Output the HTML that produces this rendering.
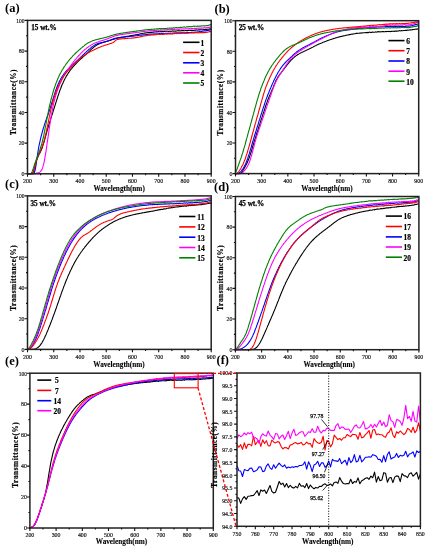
<!DOCTYPE html>
<html><head><meta charset="utf-8"><style>html,body{margin:0;padding:0;background:#fff;}svg{display:block;}</style></head>
<body><svg width="429" height="550" viewBox="0 0 429 550" font-family='"Liberation Serif", serif'><rect width="429" height="550" fill="#fff"/>
<path d="M27.5,173.8 L28.0,173.8 L28.5,173.8 L29.1,173.8 L29.6,173.8 L30.1,173.8 L30.6,173.8 L31.2,173.8 L31.7,173.8 L32.2,173.6 L32.7,173.1 L33.3,172.0 L33.8,170.4 L34.3,168.5 L34.8,166.4 L35.4,164.3 L35.9,162.4 L36.4,160.7 L36.9,159.2 L37.5,157.8 L38.0,156.7 L38.5,155.6 L39.0,154.6 L39.6,153.5 L40.1,152.5 L40.6,151.4 L41.1,150.3 L41.7,149.1 L42.2,147.7 L42.7,146.2 L43.2,144.6 L43.8,142.9 L44.3,141.1 L44.8,139.2 L45.3,137.3 L45.9,135.4 L46.4,133.5 L46.9,131.6 L47.4,129.7 L48.0,127.9 L48.5,126.1 L49.0,124.3 L49.5,122.6 L50.1,121.0 L50.6,119.3 L51.1,117.7 L51.6,116.1 L52.2,114.4 L52.7,112.8 L53.2,111.2 L53.7,109.5 L54.3,107.8 L54.8,106.2 L55.3,104.5 L55.8,102.8 L56.4,101.1 L56.9,99.5 L57.4,97.8 L57.9,96.2 L58.5,94.6 L59.0,93.1 L59.5,91.6 L60.0,90.1 L60.6,88.7 L61.1,87.3 L61.6,86.0 L62.1,84.8 L62.7,83.6 L63.2,82.4 L63.7,81.3 L64.2,80.2 L64.8,79.1 L65.3,78.1 L65.8,77.2 L66.3,76.2 L66.9,75.4 L67.4,74.5 L67.9,73.7 L68.4,72.9 L69.0,72.1 L69.5,71.3 L70.0,70.6 L70.5,69.9 L71.1,69.2 L71.6,68.6 L72.1,67.9 L72.6,67.3 L73.2,66.7 L73.7,66.1 L74.2,65.5 L74.7,65.0 L75.3,64.4 L75.8,63.8 L76.3,63.3 L76.8,62.8 L77.4,62.2 L77.9,61.7 L78.4,61.2 L78.9,60.7 L79.5,60.2 L80.0,59.7 L80.5,59.2 L81.0,58.7 L81.6,58.3 L82.1,57.8 L82.6,57.3 L83.1,56.9 L83.7,56.4 L84.2,55.9 L84.7,55.4 L85.2,55.0 L85.8,54.5 L86.3,54.0 L86.8,53.6 L87.3,53.1 L87.9,52.6 L88.4,52.1 L88.9,51.7 L89.4,51.2 L90.0,50.7 L90.5,50.2 L91.0,49.7 L91.5,49.2 L92.1,48.7 L92.6,48.3 L93.1,47.8 L93.6,47.4 L94.2,46.9 L94.7,46.5 L95.2,46.1 L95.7,45.8 L96.3,45.4 L96.8,45.1 L97.3,44.8 L97.8,44.5 L98.4,44.2 L98.9,44.0 L99.4,43.8 L99.9,43.5 L100.5,43.3 L101.0,43.1 L101.5,43.0 L102.0,42.8 L102.6,42.6 L103.1,42.5 L103.6,42.3 L104.1,42.1 L104.7,42.0 L105.2,41.8 L105.7,41.7 L106.2,41.5 L106.8,41.4 L107.3,41.2 L107.8,41.0 L108.3,40.9 L108.9,40.7 L109.4,40.5 L109.9,40.4 L110.4,40.2 L111.0,40.0 L111.5,39.9 L112.0,39.7 L112.5,39.5 L113.1,39.4 L113.6,39.2 L114.1,39.1 L114.6,38.9 L115.2,38.8 L115.7,38.6 L116.2,38.5 L116.7,38.4 L117.3,38.3 L117.8,38.2 L118.3,38.0 L118.8,37.9 L119.3,37.8 L119.9,37.7 L120.4,37.6 L120.9,37.5 L121.4,37.4 L122.0,37.3 L122.5,37.2 L123.0,37.1 L123.5,37.0 L124.1,36.9 L124.6,36.8 L125.1,36.7 L125.6,36.6 L126.2,36.5 L126.7,36.4 L127.2,36.3 L127.7,36.2 L128.3,36.2 L128.8,36.1 L129.3,36.0 L129.8,35.9 L130.4,35.8 L130.9,35.7 L131.4,35.6 L131.9,35.5 L132.5,35.4 L133.0,35.3 L133.5,35.2 L134.0,35.1 L134.6,35.0 L135.1,35.0 L135.6,34.8 L136.1,34.7 L136.7,34.6 L137.2,34.5 L137.7,34.5 L138.2,34.4 L138.8,34.2 L139.3,34.1 L139.8,34.0 L140.3,33.9 L140.9,33.8 L141.4,33.8 L141.9,33.6 L142.4,33.5 L143.0,33.3 L143.5,33.3 L144.0,33.2 L144.5,33.1 L145.1,33.0 L145.6,32.9 L146.1,33.0 L146.6,32.8 L147.2,32.7 L147.7,32.6 L148.2,32.6 L148.7,32.6 L149.3,32.6 L149.8,32.3 L150.3,32.4 L150.8,32.4 L151.4,32.3 L151.9,32.4 L152.4,32.2 L152.9,32.1 L153.5,32.1 L154.0,32.0 L154.5,32.0 L155.0,31.9 L155.6,32.0 L156.1,31.9 L156.6,31.9 L157.1,31.7 L157.7,31.7 L158.2,31.9 L158.7,31.5 L159.2,31.7 L159.8,31.8 L160.3,31.7 L160.8,31.5 L161.3,31.7 L161.9,31.6 L162.4,31.4 L162.9,31.5 L163.4,31.5 L164.0,31.5 L164.5,31.4 L165.0,31.4 L165.5,31.3 L166.1,31.3 L166.6,31.3 L167.1,31.2 L167.6,31.3 L168.2,31.4 L168.7,31.6 L169.2,31.3 L169.7,31.2 L170.3,31.3 L170.8,31.4 L171.3,31.2 L171.8,31.2 L172.4,30.9 L172.9,31.0 L173.4,31.2 L173.9,31.0 L174.5,31.0 L175.0,31.2 L175.5,31.0 L176.0,31.1 L176.6,30.9 L177.1,30.7 L177.6,30.7 L178.1,31.0 L178.7,30.6 L179.2,30.9 L179.7,30.8 L180.2,30.7 L180.8,30.9 L181.3,30.6 L181.8,30.7 L182.3,30.5 L182.9,30.7 L183.4,30.6 L183.9,30.7 L184.4,30.7 L185.0,30.6 L185.5,30.5 L186.0,30.5 L186.5,30.6 L187.1,30.5 L187.6,30.7 L188.1,30.4 L188.6,30.5 L189.2,30.4 L189.7,30.3 L190.2,30.2 L190.7,30.5 L191.3,30.3 L191.8,30.4 L192.3,30.2 L192.8,30.4 L193.4,30.5 L193.9,30.4 L194.4,30.1 L194.9,30.1 L195.5,30.0 L196.0,30.1 L196.5,30.0 L197.0,29.9 L197.6,30.1 L198.1,30.0 L198.6,29.8 L199.1,29.9 L199.7,29.7 L200.2,29.9 L200.7,29.8 L201.2,29.7 L201.8,29.8 L202.3,29.8 L202.8,30.0 L203.3,29.8 L203.9,29.4 L204.4,29.5 L204.9,29.6 L205.4,29.7 L206.0,29.3 L206.5,29.5 L207.0,29.4 L207.5,29.3 L208.1,29.2 L208.6,29.2 L209.1,29.0 L209.6,28.9 L210.2,29.1 L210.7,28.7 L211.2,28.6" fill="none" stroke="#000000" stroke-width="1.1" stroke-linejoin="round"/>
<path d="M27.5,173.8 L28.0,173.8 L28.5,173.8 L29.1,173.8 L29.6,173.8 L30.1,173.8 L30.6,173.8 L31.2,173.8 L31.7,173.8 L32.2,173.8 L32.7,173.8 L33.3,173.7 L33.8,173.5 L34.3,172.7 L34.8,171.3 L35.4,168.9 L35.9,165.9 L36.4,162.3 L36.9,158.6 L37.5,154.9 L38.0,151.5 L38.5,148.5 L39.0,145.7 L39.6,143.1 L40.1,140.8 L40.6,138.5 L41.1,136.4 L41.7,134.3 L42.2,132.4 L42.7,130.5 L43.2,128.7 L43.8,126.9 L44.3,125.2 L44.8,123.6 L45.3,122.1 L45.9,120.5 L46.4,119.1 L46.9,117.6 L47.4,116.2 L48.0,114.8 L48.5,113.3 L49.0,111.8 L49.5,110.2 L50.1,108.6 L50.6,106.9 L51.1,105.2 L51.6,103.5 L52.2,101.8 L52.7,100.1 L53.2,98.3 L53.7,96.6 L54.3,95.0 L54.8,93.3 L55.3,91.7 L55.8,90.2 L56.4,88.7 L56.9,87.3 L57.4,86.0 L57.9,84.7 L58.5,83.5 L59.0,82.3 L59.5,81.2 L60.0,80.2 L60.6,79.2 L61.1,78.3 L61.6,77.4 L62.1,76.5 L62.7,75.7 L63.2,75.0 L63.7,74.2 L64.2,73.5 L64.8,72.9 L65.3,72.2 L65.8,71.6 L66.3,71.0 L66.9,70.5 L67.4,69.9 L67.9,69.4 L68.4,68.9 L69.0,68.4 L69.5,67.9 L70.0,67.4 L70.5,66.9 L71.1,66.4 L71.6,65.9 L72.1,65.4 L72.6,64.9 L73.2,64.5 L73.7,64.0 L74.2,63.5 L74.7,63.0 L75.3,62.5 L75.8,62.0 L76.3,61.5 L76.8,61.0 L77.4,60.5 L77.9,59.9 L78.4,59.4 L78.9,58.9 L79.5,58.4 L80.0,57.9 L80.5,57.4 L81.0,56.9 L81.6,56.4 L82.1,55.9 L82.6,55.4 L83.1,54.9 L83.7,54.4 L84.2,53.9 L84.7,53.4 L85.2,52.9 L85.8,52.4 L86.3,51.9 L86.8,51.4 L87.3,50.9 L87.9,50.4 L88.4,50.0 L88.9,49.5 L89.4,49.0 L90.0,48.6 L90.5,48.1 L91.0,47.7 L91.5,47.2 L92.1,46.8 L92.6,46.4 L93.1,46.1 L93.6,45.7 L94.2,45.4 L94.7,45.1 L95.2,44.8 L95.7,44.5 L96.3,44.2 L96.8,44.0 L97.3,43.8 L97.8,43.6 L98.4,43.4 L98.9,43.3 L99.4,43.1 L99.9,43.0 L100.5,42.9 L101.0,42.7 L101.5,42.6 L102.0,42.5 L102.6,42.4 L103.1,42.3 L103.6,42.2 L104.1,42.0 L104.7,41.9 L105.2,41.8 L105.7,41.6 L106.2,41.5 L106.8,41.3 L107.3,41.2 L107.8,41.0 L108.3,40.8 L108.9,40.6 L109.4,40.4 L109.9,40.2 L110.4,40.0 L111.0,39.8 L111.5,39.6 L112.0,39.4 L112.5,39.2 L113.1,39.0 L113.6,38.8 L114.1,38.6 L114.6,38.5 L115.2,38.3 L115.7,38.2 L116.2,38.1 L116.7,38.0 L117.3,37.9 L117.8,37.8 L118.3,37.7 L118.8,37.6 L119.3,37.6 L119.9,37.5 L120.4,37.4 L120.9,37.4 L121.4,37.3 L122.0,37.3 L122.5,37.2 L123.0,37.1 L123.5,37.1 L124.1,37.0 L124.6,37.0 L125.1,36.9 L125.6,36.9 L126.2,36.8 L126.7,36.8 L127.2,36.7 L127.7,36.6 L128.3,36.6 L128.8,36.5 L129.3,36.5 L129.8,36.4 L130.4,36.4 L130.9,36.3 L131.4,36.3 L131.9,36.2 L132.5,36.2 L133.0,36.1 L133.5,36.1 L134.0,36.0 L134.6,36.0 L135.1,35.9 L135.6,35.8 L136.1,35.8 L136.7,35.7 L137.2,35.7 L137.7,35.6 L138.2,35.5 L138.8,35.4 L139.3,35.3 L139.8,35.3 L140.3,35.2 L140.9,35.2 L141.4,35.0 L141.9,35.1 L142.4,35.0 L143.0,34.8 L143.5,34.9 L144.0,34.9 L144.5,34.7 L145.1,34.7 L145.6,34.5 L146.1,34.7 L146.6,34.5 L147.2,34.5 L147.7,34.4 L148.2,34.3 L148.7,34.2 L149.3,34.3 L149.8,34.1 L150.3,34.1 L150.8,34.1 L151.4,34.0 L151.9,34.1 L152.4,34.1 L152.9,34.0 L153.5,33.9 L154.0,34.1 L154.5,33.8 L155.0,33.9 L155.6,34.0 L156.1,33.8 L156.6,33.7 L157.1,33.9 L157.7,33.8 L158.2,33.7 L158.7,33.7 L159.2,33.5 L159.8,33.6 L160.3,33.9 L160.8,33.6 L161.3,33.6 L161.9,33.4 L162.4,33.4 L162.9,33.4 L163.4,33.1 L164.0,33.5 L164.5,33.5 L165.0,33.5 L165.5,33.3 L166.1,33.2 L166.6,33.3 L167.1,33.5 L167.6,33.3 L168.2,33.4 L168.7,33.4 L169.2,33.3 L169.7,33.4 L170.3,33.1 L170.8,33.2 L171.3,33.2 L171.8,33.2 L172.4,33.1 L172.9,33.2 L173.4,33.1 L173.9,33.1 L174.5,33.0 L175.0,32.8 L175.5,33.0 L176.0,33.0 L176.6,32.8 L177.1,32.9 L177.6,32.9 L178.1,33.0 L178.7,32.8 L179.2,33.0 L179.7,32.7 L180.2,32.8 L180.8,33.0 L181.3,32.7 L181.8,32.8 L182.3,32.6 L182.9,32.8 L183.4,32.7 L183.9,32.7 L184.4,32.8 L185.0,32.7 L185.5,32.7 L186.0,32.7 L186.5,32.6 L187.1,32.5 L187.6,32.5 L188.1,32.7 L188.6,32.5 L189.2,32.5 L189.7,32.5 L190.2,32.5 L190.7,32.5 L191.3,32.4 L191.8,32.4 L192.3,32.3 L192.8,32.3 L193.4,32.3 L193.9,32.4 L194.4,32.2 L194.9,32.1 L195.5,32.1 L196.0,32.2 L196.5,32.1 L197.0,32.1 L197.6,31.9 L198.1,32.0 L198.6,31.8 L199.1,31.8 L199.7,31.6 L200.2,31.6 L200.7,31.7 L201.2,31.6 L201.8,31.4 L202.3,31.3 L202.8,31.2 L203.3,31.0 L203.9,31.0 L204.4,30.8 L204.9,30.9 L205.4,30.9 L206.0,30.8 L206.5,30.6 L207.0,30.6 L207.5,30.4 L208.1,30.5 L208.6,30.2 L209.1,30.0 L209.6,30.1 L210.2,29.8 L210.7,29.8 L211.2,29.6" fill="none" stroke="#0000ff" stroke-width="1.1" stroke-linejoin="round"/>
<path d="M27.5,173.8 L28.0,173.8 L28.5,173.8 L29.1,173.8 L29.6,173.8 L30.1,173.8 L30.6,173.8 L31.2,173.8 L31.7,173.8 L32.2,173.8 L32.7,173.8 L33.3,173.8 L33.8,173.8 L34.3,173.7 L34.8,173.7 L35.4,173.6 L35.9,173.4 L36.4,173.3 L36.9,173.1 L37.5,173.0 L38.0,172.8 L38.5,172.7 L39.0,172.5 L39.6,172.2 L40.1,171.9 L40.6,171.4 L41.1,170.7 L41.7,169.9 L42.2,168.8 L42.7,167.4 L43.2,165.7 L43.8,163.6 L44.3,161.2 L44.8,158.4 L45.3,155.4 L45.9,152.1 L46.4,148.6 L46.9,145.0 L47.4,141.4 L48.0,137.7 L48.5,134.0 L49.0,130.4 L49.5,126.8 L50.1,123.3 L50.6,119.9 L51.1,116.7 L51.6,113.7 L52.2,110.8 L52.7,108.1 L53.2,105.6 L53.7,103.2 L54.3,101.0 L54.8,99.0 L55.3,97.1 L55.8,95.3 L56.4,93.5 L56.9,91.9 L57.4,90.4 L57.9,88.9 L58.5,87.5 L59.0,86.2 L59.5,84.9 L60.0,83.7 L60.6,82.5 L61.1,81.3 L61.6,80.2 L62.1,79.1 L62.7,78.1 L63.2,77.1 L63.7,76.1 L64.2,75.2 L64.8,74.3 L65.3,73.4 L65.8,72.6 L66.3,71.8 L66.9,71.0 L67.4,70.2 L67.9,69.4 L68.4,68.7 L69.0,67.9 L69.5,67.2 L70.0,66.5 L70.5,65.8 L71.1,65.1 L71.6,64.4 L72.1,63.7 L72.6,63.0 L73.2,62.3 L73.7,61.7 L74.2,61.0 L74.7,60.4 L75.3,59.7 L75.8,59.1 L76.3,58.5 L76.8,57.8 L77.4,57.2 L77.9,56.6 L78.4,56.0 L78.9,55.5 L79.5,54.9 L80.0,54.3 L80.5,53.8 L81.0,53.2 L81.6,52.7 L82.1,52.2 L82.6,51.7 L83.1,51.2 L83.7,50.7 L84.2,50.2 L84.7,49.7 L85.2,49.3 L85.8,48.9 L86.3,48.4 L86.8,48.0 L87.3,47.6 L87.9,47.2 L88.4,46.8 L88.9,46.4 L89.4,46.1 L90.0,45.7 L90.5,45.4 L91.0,45.1 L91.5,44.8 L92.1,44.5 L92.6,44.2 L93.1,43.9 L93.6,43.6 L94.2,43.4 L94.7,43.1 L95.2,42.9 L95.7,42.7 L96.3,42.5 L96.8,42.2 L97.3,42.1 L97.8,41.9 L98.4,41.7 L98.9,41.5 L99.4,41.3 L99.9,41.2 L100.5,41.0 L101.0,40.9 L101.5,40.7 L102.0,40.5 L102.6,40.4 L103.1,40.2 L103.6,40.1 L104.1,39.9 L104.7,39.7 L105.2,39.6 L105.7,39.4 L106.2,39.2 L106.8,39.0 L107.3,38.9 L107.8,38.7 L108.3,38.5 L108.9,38.2 L109.4,38.0 L109.9,37.8 L110.4,37.6 L111.0,37.4 L111.5,37.2 L112.0,37.0 L112.5,36.8 L113.1,36.6 L113.6,36.4 L114.1,36.2 L114.6,36.0 L115.2,35.9 L115.7,35.7 L116.2,35.6 L116.7,35.5 L117.3,35.4 L117.8,35.2 L118.3,35.1 L118.8,35.0 L119.3,34.9 L119.9,34.8 L120.4,34.8 L120.9,34.7 L121.4,34.6 L122.0,34.5 L122.5,34.4 L123.0,34.3 L123.5,34.3 L124.1,34.2 L124.6,34.1 L125.1,34.0 L125.6,33.9 L126.2,33.9 L126.7,33.8 L127.2,33.7 L127.7,33.6 L128.3,33.6 L128.8,33.5 L129.3,33.4 L129.8,33.4 L130.4,33.3 L130.9,33.2 L131.4,33.2 L131.9,33.1 L132.5,33.0 L133.0,32.9 L133.5,32.9 L134.0,32.8 L134.6,32.7 L135.1,32.7 L135.6,32.6 L136.1,32.5 L136.7,32.4 L137.2,32.4 L137.7,32.3 L138.2,32.2 L138.8,32.2 L139.3,32.1 L139.8,32.0 L140.3,32.0 L140.9,31.8 L141.4,31.8 L141.9,31.8 L142.4,31.5 L143.0,31.5 L143.5,31.5 L144.0,31.4 L144.5,31.5 L145.1,31.3 L145.6,31.2 L146.1,31.2 L146.6,31.2 L147.2,31.1 L147.7,31.0 L148.2,31.0 L148.7,30.8 L149.3,30.8 L149.8,30.9 L150.3,30.7 L150.8,30.8 L151.4,30.6 L151.9,30.7 L152.4,30.7 L152.9,30.6 L153.5,30.5 L154.0,30.6 L154.5,30.5 L155.0,30.4 L155.6,30.6 L156.1,30.6 L156.6,30.4 L157.1,30.3 L157.7,30.1 L158.2,30.2 L158.7,30.2 L159.2,30.3 L159.8,30.2 L160.3,30.0 L160.8,30.1 L161.3,30.0 L161.9,30.2 L162.4,30.0 L162.9,30.0 L163.4,29.9 L164.0,29.7 L164.5,29.9 L165.0,29.7 L165.5,29.8 L166.1,29.9 L166.6,30.0 L167.1,29.7 L167.6,29.5 L168.2,29.7 L168.7,29.6 L169.2,29.8 L169.7,29.8 L170.3,29.5 L170.8,29.3 L171.3,29.5 L171.8,29.6 L172.4,29.3 L172.9,29.6 L173.4,29.4 L173.9,29.4 L174.5,29.5 L175.0,29.3 L175.5,29.2 L176.0,29.3 L176.6,29.3 L177.1,29.1 L177.6,29.1 L178.1,29.2 L178.7,29.4 L179.2,29.2 L179.7,29.0 L180.2,29.1 L180.8,28.9 L181.3,29.1 L181.8,29.0 L182.3,29.0 L182.9,29.1 L183.4,29.0 L183.9,28.9 L184.4,29.0 L185.0,29.1 L185.5,28.8 L186.0,28.7 L186.5,28.8 L187.1,28.9 L187.6,28.8 L188.1,28.9 L188.6,28.9 L189.2,28.8 L189.7,28.5 L190.2,28.9 L190.7,28.7 L191.3,28.4 L191.8,28.8 L192.3,28.6 L192.8,28.6 L193.4,28.7 L193.9,28.5 L194.4,28.4 L194.9,28.5 L195.5,28.4 L196.0,28.5 L196.5,28.3 L197.0,28.5 L197.6,28.3 L198.1,28.1 L198.6,28.3 L199.1,28.1 L199.7,28.2 L200.2,28.1 L200.7,28.0 L201.2,28.3 L201.8,28.1 L202.3,28.1 L202.8,28.0 L203.3,27.9 L203.9,28.0 L204.4,27.8 L204.9,27.8 L205.4,28.0 L206.0,27.8 L206.5,27.8 L207.0,27.5 L207.5,27.6 L208.1,27.4 L208.6,27.5 L209.1,27.2 L209.6,27.1 L210.2,27.1 L210.7,27.0 L211.2,27.0" fill="none" stroke="#ff00ff" stroke-width="1.1" stroke-linejoin="round"/>
<path d="M27.5,173.8 L28.0,173.8 L28.5,173.8 L29.1,173.8 L29.6,173.8 L30.1,173.8 L30.6,173.8 L31.2,173.8 L31.7,173.8 L32.2,173.6 L32.7,173.3 L33.3,172.4 L33.8,171.0 L34.3,169.1 L34.8,166.9 L35.4,164.7 L35.9,162.6 L36.4,160.7 L36.9,159.0 L37.5,157.6 L38.0,156.3 L38.5,155.0 L39.0,153.9 L39.6,152.7 L40.1,151.6 L40.6,150.5 L41.1,149.3 L41.7,148.1 L42.2,146.7 L42.7,145.3 L43.2,143.7 L43.8,142.0 L44.3,140.1 L44.8,138.1 L45.3,135.9 L45.9,133.7 L46.4,131.3 L46.9,128.8 L47.4,126.3 L48.0,123.7 L48.5,121.1 L49.0,118.5 L49.5,115.9 L50.1,113.4 L50.6,111.0 L51.1,108.8 L51.6,106.6 L52.2,104.5 L52.7,102.5 L53.2,100.6 L53.7,98.9 L54.3,97.1 L54.8,95.5 L55.3,94.0 L55.8,92.5 L56.4,91.1 L56.9,89.7 L57.4,88.4 L57.9,87.1 L58.5,85.9 L59.0,84.8 L59.5,83.7 L60.0,82.6 L60.6,81.6 L61.1,80.6 L61.6,79.7 L62.1,78.8 L62.7,77.9 L63.2,77.1 L63.7,76.3 L64.2,75.5 L64.8,74.8 L65.3,74.0 L65.8,73.3 L66.3,72.7 L66.9,72.0 L67.4,71.4 L67.9,70.8 L68.4,70.2 L69.0,69.6 L69.5,69.0 L70.0,68.5 L70.5,67.9 L71.1,67.4 L71.6,66.8 L72.1,66.3 L72.6,65.7 L73.2,65.2 L73.7,64.7 L74.2,64.1 L74.7,63.6 L75.3,63.1 L75.8,62.5 L76.3,62.0 L76.8,61.5 L77.4,61.0 L77.9,60.5 L78.4,60.0 L78.9,59.6 L79.5,59.1 L80.0,58.6 L80.5,58.2 L81.0,57.7 L81.6,57.3 L82.1,56.9 L82.6,56.5 L83.1,56.1 L83.7,55.7 L84.2,55.3 L84.7,55.0 L85.2,54.6 L85.8,54.3 L86.3,54.0 L86.8,53.7 L87.3,53.3 L87.9,53.0 L88.4,52.7 L88.9,52.5 L89.4,52.2 L90.0,51.9 L90.5,51.6 L91.0,51.3 L91.5,51.1 L92.1,50.8 L92.6,50.6 L93.1,50.3 L93.6,50.0 L94.2,49.8 L94.7,49.5 L95.2,49.3 L95.7,49.0 L96.3,48.8 L96.8,48.5 L97.3,48.3 L97.8,48.1 L98.4,47.8 L98.9,47.6 L99.4,47.4 L99.9,47.1 L100.5,46.9 L101.0,46.7 L101.5,46.5 L102.0,46.3 L102.6,46.1 L103.1,45.9 L103.6,45.7 L104.1,45.5 L104.7,45.3 L105.2,45.2 L105.7,45.0 L106.2,44.9 L106.8,44.7 L107.3,44.6 L107.8,44.4 L108.3,44.3 L108.9,44.1 L109.4,43.9 L109.9,43.8 L110.4,43.6 L111.0,43.4 L111.5,43.2 L112.0,43.0 L112.5,42.8 L113.1,42.5 L113.6,42.2 L114.1,41.8 L114.6,41.3 L115.2,40.8 L115.7,40.4 L116.2,40.1 L116.7,39.8 L117.3,39.6 L117.8,39.4 L118.3,39.3 L118.8,39.2 L119.3,39.1 L119.9,39.0 L120.4,39.0 L120.9,38.9 L121.4,38.9 L122.0,38.8 L122.5,38.8 L123.0,38.7 L123.5,38.7 L124.1,38.6 L124.6,38.6 L125.1,38.6 L125.6,38.5 L126.2,38.5 L126.7,38.4 L127.2,38.4 L127.7,38.4 L128.3,38.3 L128.8,38.3 L129.3,38.3 L129.8,38.2 L130.4,38.2 L130.9,38.2 L131.4,38.1 L131.9,38.1 L132.5,38.0 L133.0,38.0 L133.5,37.9 L134.0,37.9 L134.6,37.8 L135.1,37.7 L135.6,37.6 L136.1,37.6 L136.7,37.5 L137.2,37.4 L137.7,37.3 L138.2,37.2 L138.8,37.1 L139.3,37.0 L139.8,36.9 L140.3,36.7 L140.9,36.6 L141.4,36.6 L141.9,36.5 L142.4,36.3 L143.0,36.2 L143.5,36.1 L144.0,35.9 L144.5,36.0 L145.1,35.9 L145.6,35.7 L146.1,35.7 L146.6,35.6 L147.2,35.4 L147.7,35.4 L148.2,35.4 L148.7,35.1 L149.3,35.3 L149.8,35.1 L150.3,35.0 L150.8,35.2 L151.4,35.0 L151.9,35.0 L152.4,34.9 L152.9,34.9 L153.5,34.8 L154.0,34.9 L154.5,35.0 L155.0,34.7 L155.6,34.6 L156.1,34.7 L156.6,34.7 L157.1,34.4 L157.7,34.3 L158.2,34.3 L158.7,34.3 L159.2,34.4 L159.8,34.4 L160.3,34.4 L160.8,34.3 L161.3,34.3 L161.9,34.4 L162.4,34.4 L162.9,34.2 L163.4,34.4 L164.0,34.1 L164.5,34.1 L165.0,34.0 L165.5,34.0 L166.1,34.3 L166.6,34.0 L167.1,34.0 L167.6,34.1 L168.2,33.8 L168.7,33.9 L169.2,33.9 L169.7,34.0 L170.3,33.9 L170.8,33.7 L171.3,33.9 L171.8,33.8 L172.4,34.1 L172.9,33.5 L173.4,33.8 L173.9,33.4 L174.5,33.7 L175.0,33.5 L175.5,33.4 L176.0,33.3 L176.6,33.6 L177.1,33.7 L177.6,33.5 L178.1,33.5 L178.7,33.5 L179.2,33.3 L179.7,33.5 L180.2,33.6 L180.8,33.4 L181.3,33.2 L181.8,33.3 L182.3,33.2 L182.9,33.3 L183.4,33.2 L183.9,33.1 L184.4,33.2 L185.0,33.4 L185.5,33.4 L186.0,33.1 L186.5,33.2 L187.1,33.2 L187.6,33.2 L188.1,33.0 L188.6,33.2 L189.2,33.0 L189.7,33.0 L190.2,33.0 L190.7,32.7 L191.3,33.1 L191.8,32.9 L192.3,32.9 L192.8,32.8 L193.4,32.9 L193.9,32.9 L194.4,33.0 L194.9,32.9 L195.5,32.6 L196.0,32.8 L196.5,32.6 L197.0,32.6 L197.6,32.8 L198.1,33.0 L198.6,32.9 L199.1,32.4 L199.7,32.7 L200.2,32.8 L200.7,32.4 L201.2,32.7 L201.8,32.6 L202.3,32.6 L202.8,32.6 L203.3,32.5 L203.9,32.6 L204.4,32.5 L204.9,32.6 L205.4,32.4 L206.0,32.2 L206.5,32.4 L207.0,32.3 L207.5,32.1 L208.1,32.0 L208.6,32.0 L209.1,31.7 L209.6,31.6 L210.2,31.6 L210.7,31.5 L211.2,31.1" fill="none" stroke="#ff0000" stroke-width="1.1" stroke-linejoin="round"/>
<path d="M27.5,173.8 L28.0,173.8 L28.5,173.8 L29.1,173.8 L29.6,173.8 L30.1,173.8 L30.6,173.6 L31.2,173.3 L31.7,172.6 L32.2,171.4 L32.7,170.0 L33.3,168.4 L33.8,166.8 L34.3,165.1 L34.8,163.5 L35.4,162.1 L35.9,160.7 L36.4,159.3 L36.9,158.0 L37.5,156.5 L38.0,155.1 L38.5,153.7 L39.0,152.2 L39.6,150.7 L40.1,149.1 L40.6,147.5 L41.1,145.8 L41.7,144.0 L42.2,142.1 L42.7,140.0 L43.2,137.8 L43.8,135.3 L44.3,132.8 L44.8,130.1 L45.3,127.3 L45.9,124.5 L46.4,121.7 L46.9,118.9 L47.4,116.1 L48.0,113.4 L48.5,110.8 L49.0,108.3 L49.5,105.9 L50.1,103.6 L50.6,101.4 L51.1,99.3 L51.6,97.3 L52.2,95.3 L52.7,93.5 L53.2,91.7 L53.7,90.0 L54.3,88.3 L54.8,86.8 L55.3,85.2 L55.8,83.8 L56.4,82.4 L56.9,81.0 L57.4,79.8 L57.9,78.5 L58.5,77.3 L59.0,76.2 L59.5,75.1 L60.0,74.0 L60.6,73.0 L61.1,72.0 L61.6,71.1 L62.1,70.2 L62.7,69.3 L63.2,68.4 L63.7,67.6 L64.2,66.8 L64.8,66.0 L65.3,65.3 L65.8,64.5 L66.3,63.8 L66.9,63.1 L67.4,62.4 L67.9,61.7 L68.4,61.0 L69.0,60.4 L69.5,59.7 L70.0,59.1 L70.5,58.5 L71.1,57.9 L71.6,57.3 L72.1,56.8 L72.6,56.2 L73.2,55.6 L73.7,55.1 L74.2,54.6 L74.7,54.1 L75.3,53.5 L75.8,53.0 L76.3,52.5 L76.8,52.0 L77.4,51.6 L77.9,51.1 L78.4,50.6 L78.9,50.1 L79.5,49.7 L80.0,49.2 L80.5,48.8 L81.0,48.3 L81.6,47.9 L82.1,47.4 L82.6,47.0 L83.1,46.5 L83.7,46.1 L84.2,45.7 L84.7,45.2 L85.2,44.8 L85.8,44.4 L86.3,44.0 L86.8,43.7 L87.3,43.4 L87.9,43.0 L88.4,42.7 L88.9,42.4 L89.4,42.2 L90.0,41.9 L90.5,41.7 L91.0,41.4 L91.5,41.2 L92.1,41.0 L92.6,40.8 L93.1,40.6 L93.6,40.5 L94.2,40.3 L94.7,40.1 L95.2,40.0 L95.7,39.8 L96.3,39.7 L96.8,39.5 L97.3,39.4 L97.8,39.3 L98.4,39.2 L98.9,39.0 L99.4,38.9 L99.9,38.8 L100.5,38.7 L101.0,38.5 L101.5,38.4 L102.0,38.3 L102.6,38.2 L103.1,38.1 L103.6,37.9 L104.1,37.8 L104.7,37.7 L105.2,37.5 L105.7,37.4 L106.2,37.2 L106.8,37.1 L107.3,36.9 L107.8,36.8 L108.3,36.6 L108.9,36.5 L109.4,36.3 L109.9,36.1 L110.4,35.9 L111.0,35.8 L111.5,35.6 L112.0,35.4 L112.5,35.3 L113.1,35.1 L113.6,34.9 L114.1,34.8 L114.6,34.6 L115.2,34.5 L115.7,34.4 L116.2,34.2 L116.7,34.1 L117.3,34.0 L117.8,33.9 L118.3,33.8 L118.8,33.7 L119.3,33.6 L119.9,33.5 L120.4,33.4 L120.9,33.3 L121.4,33.3 L122.0,33.2 L122.5,33.1 L123.0,33.0 L123.5,32.9 L124.1,32.8 L124.6,32.8 L125.1,32.7 L125.6,32.6 L126.2,32.5 L126.7,32.4 L127.2,32.4 L127.7,32.3 L128.3,32.2 L128.8,32.1 L129.3,32.1 L129.8,32.0 L130.4,31.9 L130.9,31.9 L131.4,31.8 L131.9,31.7 L132.5,31.6 L133.0,31.6 L133.5,31.5 L134.0,31.4 L134.6,31.4 L135.1,31.3 L135.6,31.2 L136.1,31.1 L136.7,31.1 L137.2,31.0 L137.7,30.9 L138.2,30.8 L138.8,30.8 L139.3,30.7 L139.8,30.7 L140.3,30.5 L140.9,30.5 L141.4,30.5 L141.9,30.3 L142.4,30.2 L143.0,30.3 L143.5,30.1 L144.0,30.2 L144.5,29.9 L145.1,29.9 L145.6,29.8 L146.1,29.8 L146.6,29.8 L147.2,29.6 L147.7,29.7 L148.2,29.6 L148.7,29.6 L149.3,29.6 L149.8,29.4 L150.3,29.4 L150.8,29.6 L151.4,29.3 L151.9,29.4 L152.4,29.2 L152.9,29.2 L153.5,29.2 L154.0,29.0 L154.5,29.1 L155.0,29.1 L155.6,29.0 L156.1,29.0 L156.6,28.8 L157.1,28.9 L157.7,28.8 L158.2,29.0 L158.7,28.7 L159.2,28.6 L159.8,28.8 L160.3,28.5 L160.8,29.0 L161.3,28.8 L161.9,28.4 L162.4,28.7 L162.9,28.6 L163.4,28.4 L164.0,28.6 L164.5,28.6 L165.0,28.4 L165.5,28.4 L166.1,28.6 L166.6,28.6 L167.1,28.4 L167.6,28.1 L168.2,28.3 L168.7,28.2 L169.2,28.3 L169.7,28.1 L170.3,28.1 L170.8,28.2 L171.3,28.0 L171.8,28.1 L172.4,28.0 L172.9,28.1 L173.4,27.8 L173.9,27.8 L174.5,28.1 L175.0,27.8 L175.5,27.8 L176.0,27.6 L176.6,27.6 L177.1,27.7 L177.6,27.8 L178.1,27.8 L178.7,27.6 L179.2,27.5 L179.7,27.6 L180.2,27.4 L180.8,27.4 L181.3,27.5 L181.8,27.4 L182.3,27.3 L182.9,27.2 L183.4,27.1 L183.9,26.9 L184.4,26.9 L185.0,27.3 L185.5,27.2 L186.0,27.1 L186.5,26.9 L187.1,26.8 L187.6,26.9 L188.1,26.6 L188.6,26.9 L189.2,26.6 L189.7,26.7 L190.2,26.6 L190.7,26.7 L191.3,26.6 L191.8,26.7 L192.3,26.7 L192.8,26.4 L193.4,26.3 L193.9,26.1 L194.4,26.5 L194.9,26.3 L195.5,26.2 L196.0,26.2 L196.5,26.2 L197.0,26.4 L197.6,26.1 L198.1,26.1 L198.6,26.2 L199.1,26.3 L199.7,26.1 L200.2,26.1 L200.7,26.2 L201.2,25.9 L201.8,26.0 L202.3,26.0 L202.8,25.8 L203.3,25.8 L203.9,25.9 L204.4,25.8 L204.9,25.9 L205.4,25.7 L206.0,25.8 L206.5,25.5 L207.0,25.6 L207.5,25.6 L208.1,25.4 L208.6,25.2 L209.1,24.9 L209.6,25.1 L210.2,24.7 L210.7,24.5 L211.2,24.6" fill="none" stroke="#008000" stroke-width="1.1" stroke-linejoin="round"/>
<path d="M235.0,173.6 L235.5,173.6 L236.0,173.6 L236.6,173.6 L237.1,173.6 L237.6,173.6 L238.1,173.6 L238.7,173.6 L239.2,173.6 L239.7,173.5 L240.2,173.4 L240.8,173.2 L241.3,172.7 L241.8,172.1 L242.3,171.3 L242.9,170.5 L243.4,169.7 L243.9,168.8 L244.4,167.9 L245.0,167.0 L245.5,166.1 L246.0,165.1 L246.5,164.1 L247.1,163.0 L247.6,161.8 L248.1,160.6 L248.6,159.3 L249.2,157.9 L249.7,156.4 L250.2,154.8 L250.7,153.2 L251.3,151.5 L251.8,149.8 L252.3,148.0 L252.8,146.2 L253.4,144.5 L253.9,142.7 L254.4,141.0 L254.9,139.3 L255.5,137.6 L256.0,135.9 L256.5,134.2 L257.0,132.6 L257.6,131.0 L258.1,129.3 L258.6,127.7 L259.1,126.1 L259.7,124.4 L260.2,122.8 L260.7,121.2 L261.2,119.6 L261.8,118.0 L262.3,116.4 L262.8,114.7 L263.3,113.1 L263.9,111.6 L264.4,110.0 L264.9,108.4 L265.4,106.8 L265.9,105.3 L266.5,103.8 L267.0,102.3 L267.5,100.9 L268.0,99.5 L268.6,98.1 L269.1,96.8 L269.6,95.6 L270.1,94.4 L270.7,93.2 L271.2,92.0 L271.7,90.8 L272.2,89.6 L272.8,88.4 L273.3,87.1 L273.8,85.8 L274.3,84.5 L274.9,83.3 L275.4,82.0 L275.9,80.8 L276.4,79.7 L277.0,78.7 L277.5,77.8 L278.0,76.9 L278.5,76.1 L279.1,75.3 L279.6,74.6 L280.1,73.9 L280.6,73.3 L281.2,72.6 L281.7,71.9 L282.2,71.3 L282.7,70.6 L283.3,70.0 L283.8,69.3 L284.3,68.6 L284.8,67.9 L285.4,67.2 L285.9,66.6 L286.4,65.9 L286.9,65.2 L287.5,64.5 L288.0,63.9 L288.5,63.2 L289.0,62.6 L289.6,61.9 L290.1,61.3 L290.6,60.7 L291.1,60.2 L291.7,59.6 L292.2,59.1 L292.7,58.5 L293.2,58.0 L293.8,57.6 L294.3,57.1 L294.8,56.7 L295.3,56.3 L295.9,55.9 L296.4,55.5 L296.9,55.2 L297.4,54.8 L297.9,54.5 L298.5,54.2 L299.0,53.9 L299.5,53.6 L300.0,53.3 L300.6,53.0 L301.1,52.7 L301.6,52.5 L302.1,52.2 L302.7,52.0 L303.2,51.7 L303.7,51.5 L304.2,51.2 L304.8,51.0 L305.3,50.7 L305.8,50.5 L306.3,50.2 L306.9,50.0 L307.4,49.7 L307.9,49.5 L308.4,49.2 L309.0,49.0 L309.5,48.7 L310.0,48.5 L310.5,48.2 L311.1,47.9 L311.6,47.7 L312.1,47.4 L312.6,47.2 L313.2,46.9 L313.7,46.6 L314.2,46.4 L314.7,46.1 L315.3,45.9 L315.8,45.6 L316.3,45.3 L316.8,45.1 L317.4,44.8 L317.9,44.6 L318.4,44.3 L318.9,44.1 L319.5,43.9 L320.0,43.6 L320.5,43.4 L321.0,43.2 L321.6,43.0 L322.1,42.8 L322.6,42.5 L323.1,42.3 L323.7,42.1 L324.2,41.9 L324.7,41.7 L325.2,41.5 L325.8,41.3 L326.3,41.1 L326.8,40.9 L327.3,40.7 L327.8,40.5 L328.4,40.3 L328.9,40.2 L329.4,40.0 L329.9,39.8 L330.5,39.6 L331.0,39.4 L331.5,39.2 L332.0,39.1 L332.6,38.9 L333.1,38.7 L333.6,38.5 L334.1,38.4 L334.7,38.2 L335.2,38.0 L335.7,37.9 L336.2,37.7 L336.8,37.6 L337.3,37.4 L337.8,37.3 L338.3,37.2 L338.9,37.0 L339.4,36.9 L339.9,36.8 L340.4,36.6 L341.0,36.5 L341.5,36.4 L342.0,36.2 L342.5,36.1 L343.1,36.0 L343.6,35.9 L344.1,35.8 L344.6,35.7 L345.2,35.6 L345.7,35.4 L346.2,35.3 L346.7,35.2 L347.3,35.0 L347.8,35.0 L348.3,34.9 L348.8,34.8 L349.4,34.6 L349.9,34.6 L350.4,34.5 L350.9,34.2 L351.5,34.2 L352.0,34.1 L352.5,34.2 L353.0,34.0 L353.6,33.9 L354.1,33.8 L354.6,33.7 L355.1,33.7 L355.7,33.5 L356.2,33.4 L356.7,33.4 L357.2,33.4 L357.7,33.2 L358.3,33.2 L358.8,33.2 L359.3,33.2 L359.8,33.0 L360.4,33.1 L360.9,33.0 L361.4,32.9 L361.9,33.1 L362.5,32.9 L363.0,32.8 L363.5,32.8 L364.0,32.7 L364.6,32.8 L365.1,32.7 L365.6,32.6 L366.1,32.5 L366.7,32.6 L367.2,32.8 L367.7,32.3 L368.2,32.7 L368.8,32.4 L369.3,32.3 L369.8,32.1 L370.3,32.4 L370.9,32.5 L371.4,32.4 L371.9,32.2 L372.4,32.1 L373.0,32.1 L373.5,32.2 L374.0,32.2 L374.5,32.2 L375.1,32.1 L375.6,31.9 L376.1,32.0 L376.6,32.1 L377.2,31.9 L377.7,31.8 L378.2,31.9 L378.7,31.6 L379.3,31.8 L379.8,31.9 L380.3,31.9 L380.8,31.7 L381.4,31.8 L381.9,31.8 L382.4,31.5 L382.9,31.7 L383.5,31.6 L384.0,31.8 L384.5,31.7 L385.0,31.7 L385.6,31.5 L386.1,31.4 L386.6,31.7 L387.1,31.5 L387.7,31.5 L388.2,31.4 L388.7,31.5 L389.2,31.6 L389.7,31.4 L390.3,31.5 L390.8,31.6 L391.3,31.2 L391.8,31.4 L392.4,31.2 L392.9,31.3 L393.4,31.3 L393.9,31.4 L394.5,31.4 L395.0,31.0 L395.5,31.3 L396.0,31.1 L396.6,31.0 L397.1,31.2 L397.6,31.0 L398.1,31.0 L398.7,30.9 L399.2,30.7 L399.7,30.6 L400.2,30.9 L400.8,30.7 L401.3,30.5 L401.8,30.8 L402.3,30.7 L402.9,30.6 L403.4,30.5 L403.9,30.5 L404.4,30.5 L405.0,30.5 L405.5,30.2 L406.0,30.3 L406.5,30.6 L407.1,30.3 L407.6,30.1 L408.1,30.2 L408.6,30.2 L409.2,30.0 L409.7,29.9 L410.2,29.8 L410.7,29.9 L411.3,30.0 L411.8,29.8 L412.3,29.5 L412.8,29.7 L413.4,29.5 L413.9,29.5 L414.4,29.5 L414.9,29.3 L415.5,29.2 L416.0,29.1 L416.5,29.1 L417.0,29.2 L417.6,28.9 L418.1,29.1 L418.6,28.6" fill="none" stroke="#000000" stroke-width="1.1" stroke-linejoin="round"/>
<path d="M235.0,173.6 L235.5,173.6 L236.0,173.6 L236.6,173.6 L237.1,173.5 L237.6,173.4 L238.1,173.3 L238.7,173.1 L239.2,172.9 L239.7,172.5 L240.2,172.1 L240.8,171.6 L241.3,171.0 L241.8,170.3 L242.3,169.6 L242.9,168.8 L243.4,168.0 L243.9,167.1 L244.4,166.1 L245.0,165.0 L245.5,163.9 L246.0,162.7 L246.5,161.4 L247.1,160.1 L247.6,158.7 L248.1,157.1 L248.6,155.6 L249.2,153.9 L249.7,152.2 L250.2,150.4 L250.7,148.6 L251.3,146.8 L251.8,145.0 L252.3,143.2 L252.8,141.5 L253.4,139.7 L253.9,137.9 L254.4,136.2 L254.9,134.5 L255.5,132.8 L256.0,131.1 L256.5,129.4 L257.0,127.7 L257.6,126.0 L258.1,124.3 L258.6,122.6 L259.1,120.9 L259.7,119.2 L260.2,117.6 L260.7,115.9 L261.2,114.2 L261.8,112.6 L262.3,110.9 L262.8,109.3 L263.3,107.7 L263.9,106.1 L264.4,104.5 L264.9,102.9 L265.4,101.4 L265.9,99.9 L266.5,98.5 L267.0,97.1 L267.5,95.7 L268.0,94.3 L268.6,93.0 L269.1,91.7 L269.6,90.4 L270.1,89.2 L270.7,87.9 L271.2,86.7 L271.7,85.5 L272.2,84.3 L272.8,83.1 L273.3,82.0 L273.8,80.8 L274.3,79.7 L274.9,78.6 L275.4,77.5 L275.9,76.5 L276.4,75.5 L277.0,74.5 L277.5,73.5 L278.0,72.6 L278.5,71.7 L279.1,70.8 L279.6,70.0 L280.1,69.2 L280.6,68.4 L281.2,67.7 L281.7,66.9 L282.2,66.3 L282.7,65.6 L283.3,64.9 L283.8,64.3 L284.3,63.7 L284.8,63.1 L285.4,62.5 L285.9,62.0 L286.4,61.4 L286.9,60.9 L287.5,60.4 L288.0,59.8 L288.5,59.3 L289.0,58.8 L289.6,58.3 L290.1,57.8 L290.6,57.3 L291.1,56.8 L291.7,56.3 L292.2,55.9 L292.7,55.4 L293.2,54.9 L293.8,54.4 L294.3,54.0 L294.8,53.5 L295.3,53.1 L295.9,52.7 L296.4,52.2 L296.9,51.8 L297.4,51.4 L297.9,51.0 L298.5,50.6 L299.0,50.3 L299.5,49.9 L300.0,49.6 L300.6,49.2 L301.1,48.9 L301.6,48.6 L302.1,48.3 L302.7,47.9 L303.2,47.6 L303.7,47.4 L304.2,47.1 L304.8,46.8 L305.3,46.5 L305.8,46.2 L306.3,46.0 L306.9,45.7 L307.4,45.4 L307.9,45.2 L308.4,44.9 L309.0,44.7 L309.5,44.4 L310.0,44.1 L310.5,43.9 L311.1,43.6 L311.6,43.3 L312.1,43.1 L312.6,42.8 L313.2,42.5 L313.7,42.2 L314.2,42.0 L314.7,41.7 L315.3,41.4 L315.8,41.1 L316.3,40.8 L316.8,40.5 L317.4,40.2 L317.9,40.0 L318.4,39.7 L318.9,39.4 L319.5,39.1 L320.0,38.8 L320.5,38.6 L321.0,38.3 L321.6,38.0 L322.1,37.7 L322.6,37.5 L323.1,37.2 L323.7,37.0 L324.2,36.8 L324.7,36.5 L325.2,36.3 L325.8,36.1 L326.3,35.9 L326.8,35.6 L327.3,35.4 L327.8,35.2 L328.4,35.0 L328.9,34.8 L329.4,34.6 L329.9,34.4 L330.5,34.2 L331.0,34.0 L331.5,33.8 L332.0,33.6 L332.6,33.4 L333.1,33.2 L333.6,33.0 L334.1,32.9 L334.7,32.7 L335.2,32.5 L335.7,32.3 L336.2,32.2 L336.8,32.0 L337.3,31.9 L337.8,31.8 L338.3,31.6 L338.9,31.5 L339.4,31.4 L339.9,31.3 L340.4,31.1 L341.0,31.0 L341.5,30.9 L342.0,30.8 L342.5,30.7 L343.1,30.6 L343.6,30.5 L344.1,30.4 L344.6,30.3 L345.2,30.2 L345.7,30.2 L346.2,30.1 L346.7,30.0 L347.3,29.9 L347.8,29.9 L348.3,29.8 L348.8,29.7 L349.4,29.6 L349.9,29.6 L350.4,29.4 L350.9,29.4 L351.5,29.4 L352.0,29.3 L352.5,29.1 L353.0,29.1 L353.6,29.0 L354.1,29.0 L354.6,28.9 L355.1,28.8 L355.7,28.8 L356.2,28.7 L356.7,28.6 L357.2,28.6 L357.7,28.4 L358.3,28.4 L358.8,28.4 L359.3,28.5 L359.8,28.3 L360.4,28.3 L360.9,28.4 L361.4,28.2 L361.9,28.1 L362.5,28.1 L363.0,28.0 L363.5,28.0 L364.0,27.9 L364.6,27.8 L365.1,27.7 L365.6,27.9 L366.1,27.7 L366.7,27.8 L367.2,27.6 L367.7,27.6 L368.2,27.5 L368.8,27.7 L369.3,27.3 L369.8,27.3 L370.3,27.5 L370.9,27.2 L371.4,27.3 L371.9,27.4 L372.4,27.1 L373.0,27.2 L373.5,27.1 L374.0,27.2 L374.5,27.4 L375.1,27.0 L375.6,26.9 L376.1,26.8 L376.6,27.0 L377.2,26.8 L377.7,26.6 L378.2,26.7 L378.7,27.1 L379.3,26.8 L379.8,26.8 L380.3,26.7 L380.8,26.8 L381.4,26.9 L381.9,26.7 L382.4,26.8 L382.9,26.7 L383.5,26.7 L384.0,26.6 L384.5,26.7 L385.0,26.8 L385.6,26.5 L386.1,26.7 L386.6,26.5 L387.1,26.4 L387.7,26.6 L388.2,26.6 L388.7,26.5 L389.2,26.7 L389.7,26.6 L390.3,26.5 L390.8,26.6 L391.3,26.6 L391.8,26.6 L392.4,26.5 L392.9,26.4 L393.4,26.5 L393.9,26.6 L394.5,26.4 L395.0,26.4 L395.5,26.5 L396.0,26.3 L396.6,26.6 L397.1,26.4 L397.6,26.4 L398.1,26.6 L398.7,26.7 L399.2,26.4 L399.7,26.6 L400.2,26.4 L400.8,26.5 L401.3,26.4 L401.8,26.5 L402.3,26.4 L402.9,26.5 L403.4,26.6 L403.9,26.5 L404.4,26.5 L405.0,26.4 L405.5,26.3 L406.0,26.4 L406.5,26.1 L407.1,26.3 L407.6,26.2 L408.1,25.9 L408.6,26.2 L409.2,26.3 L409.7,26.0 L410.2,26.0 L410.7,25.9 L411.3,25.8 L411.8,25.7 L412.3,25.6 L412.8,25.3 L413.4,25.3 L413.9,25.3 L414.4,24.9 L414.9,24.8 L415.5,24.6 L416.0,24.8 L416.5,24.4 L417.0,24.2 L417.6,24.1 L418.1,23.9 L418.6,23.7" fill="none" stroke="#0000ff" stroke-width="1.1" stroke-linejoin="round"/>
<path d="M235.0,173.6 L235.5,173.6 L236.0,173.6 L236.6,173.6 L237.1,173.6 L237.6,173.6 L238.1,173.6 L238.7,173.6 L239.2,173.6 L239.7,173.6 L240.2,173.6 L240.8,173.5 L241.3,173.4 L241.8,173.1 L242.3,172.7 L242.9,172.3 L243.4,171.8 L243.9,171.2 L244.4,170.6 L245.0,170.0 L245.5,169.3 L246.0,168.6 L246.5,167.8 L247.1,167.0 L247.6,166.1 L248.1,165.0 L248.6,163.9 L249.2,162.7 L249.7,161.3 L250.2,159.8 L250.7,158.2 L251.3,156.4 L251.8,154.6 L252.3,152.6 L252.8,150.6 L253.4,148.6 L253.9,146.5 L254.4,144.5 L254.9,142.6 L255.5,140.7 L256.0,138.9 L256.5,137.2 L257.0,135.5 L257.6,133.8 L258.1,132.2 L258.6,130.7 L259.1,129.1 L259.7,127.5 L260.2,126.0 L260.7,124.5 L261.2,122.9 L261.8,121.4 L262.3,119.8 L262.8,118.3 L263.3,116.8 L263.9,115.2 L264.4,113.7 L264.9,112.2 L265.4,110.7 L265.9,109.2 L266.5,107.7 L267.0,106.2 L267.5,104.7 L268.0,103.1 L268.6,101.6 L269.1,100.1 L269.6,98.6 L270.1,97.1 L270.7,95.6 L271.2,94.0 L271.7,92.5 L272.2,91.0 L272.8,89.6 L273.3,88.1 L273.8,86.8 L274.3,85.4 L274.9,84.1 L275.4,82.9 L275.9,81.7 L276.4,80.6 L277.0,79.6 L277.5,78.6 L278.0,77.7 L278.5,76.8 L279.1,75.9 L279.6,75.1 L280.1,74.3 L280.6,73.5 L281.2,72.8 L281.7,72.0 L282.2,71.2 L282.7,70.4 L283.3,69.6 L283.8,68.7 L284.3,67.9 L284.8,67.1 L285.4,66.3 L285.9,65.5 L286.4,64.6 L286.9,63.8 L287.5,63.1 L288.0,62.3 L288.5,61.5 L289.0,60.8 L289.6,60.1 L290.1,59.4 L290.6,58.8 L291.1,58.1 L291.7,57.5 L292.2,57.0 L292.7,56.4 L293.2,55.9 L293.8,55.4 L294.3,55.0 L294.8,54.5 L295.3,54.1 L295.9,53.7 L296.4,53.3 L296.9,52.9 L297.4,52.5 L297.9,52.2 L298.5,51.8 L299.0,51.5 L299.5,51.1 L300.0,50.8 L300.6,50.5 L301.1,50.2 L301.6,49.8 L302.1,49.5 L302.7,49.2 L303.2,48.9 L303.7,48.6 L304.2,48.3 L304.8,48.0 L305.3,47.7 L305.8,47.4 L306.3,47.0 L306.9,46.7 L307.4,46.4 L307.9,46.1 L308.4,45.8 L309.0,45.5 L309.5,45.2 L310.0,45.0 L310.5,44.7 L311.1,44.4 L311.6,44.1 L312.1,43.8 L312.6,43.5 L313.2,43.2 L313.7,42.9 L314.2,42.6 L314.7,42.3 L315.3,42.1 L315.8,41.8 L316.3,41.5 L316.8,41.2 L317.4,40.9 L317.9,40.6 L318.4,40.4 L318.9,40.1 L319.5,39.8 L320.0,39.5 L320.5,39.3 L321.0,39.0 L321.6,38.7 L322.1,38.4 L322.6,38.2 L323.1,37.9 L323.7,37.7 L324.2,37.4 L324.7,37.1 L325.2,36.9 L325.8,36.6 L326.3,36.4 L326.8,36.1 L327.3,35.9 L327.8,35.6 L328.4,35.4 L328.9,35.1 L329.4,34.8 L329.9,34.6 L330.5,34.3 L331.0,34.1 L331.5,33.8 L332.0,33.6 L332.6,33.3 L333.1,33.1 L333.6,32.9 L334.1,32.6 L334.7,32.4 L335.2,32.2 L335.7,32.0 L336.2,31.8 L336.8,31.6 L337.3,31.4 L337.8,31.2 L338.3,31.1 L338.9,30.9 L339.4,30.8 L339.9,30.6 L340.4,30.5 L341.0,30.4 L341.5,30.3 L342.0,30.2 L342.5,30.1 L343.1,29.9 L343.6,29.8 L344.1,29.7 L344.6,29.6 L345.2,29.5 L345.7,29.4 L346.2,29.3 L346.7,29.2 L347.3,29.0 L347.8,28.9 L348.3,28.9 L348.8,28.7 L349.4,28.7 L349.9,28.6 L350.4,28.6 L350.9,28.4 L351.5,28.4 L352.0,28.4 L352.5,28.2 L353.0,28.2 L353.6,28.2 L354.1,28.0 L354.6,27.8 L355.1,27.8 L355.7,27.9 L356.2,27.7 L356.7,27.8 L357.2,27.5 L357.7,27.6 L358.3,27.6 L358.8,27.6 L359.3,27.7 L359.8,27.6 L360.4,27.4 L360.9,27.5 L361.4,27.3 L361.9,27.4 L362.5,27.4 L363.0,27.1 L363.5,27.4 L364.0,27.2 L364.6,27.3 L365.1,27.1 L365.6,26.9 L366.1,27.1 L366.7,27.3 L367.2,27.2 L367.7,27.0 L368.2,27.1 L368.8,27.2 L369.3,26.9 L369.8,27.0 L370.3,26.8 L370.9,26.9 L371.4,27.1 L371.9,26.8 L372.4,26.7 L373.0,26.9 L373.5,26.6 L374.0,26.9 L374.5,26.8 L375.1,26.9 L375.6,26.8 L376.1,26.7 L376.6,26.8 L377.2,26.6 L377.7,26.6 L378.2,26.6 L378.7,26.6 L379.3,26.6 L379.8,26.3 L380.3,26.3 L380.8,26.2 L381.4,26.3 L381.9,26.4 L382.4,26.2 L382.9,26.1 L383.5,26.0 L384.0,25.8 L384.5,26.0 L385.0,25.6 L385.6,25.6 L386.1,25.3 L386.6,25.2 L387.1,25.5 L387.7,25.2 L388.2,25.3 L388.7,25.2 L389.2,25.1 L389.7,25.1 L390.3,25.4 L390.8,25.0 L391.3,25.2 L391.8,25.2 L392.4,24.9 L392.9,25.0 L393.4,25.0 L393.9,25.2 L394.5,24.9 L395.0,25.2 L395.5,25.1 L396.0,25.1 L396.6,25.0 L397.1,24.9 L397.6,25.0 L398.1,25.1 L398.7,25.1 L399.2,25.0 L399.7,25.1 L400.2,25.0 L400.8,24.9 L401.3,25.1 L401.8,25.0 L402.3,25.1 L402.9,25.0 L403.4,25.0 L403.9,24.7 L404.4,24.8 L405.0,24.6 L405.5,25.1 L406.0,24.9 L406.5,25.0 L407.1,25.1 L407.6,25.0 L408.1,24.9 L408.6,24.9 L409.2,24.9 L409.7,24.7 L410.2,24.5 L410.7,24.5 L411.3,24.4 L411.8,24.2 L412.3,24.2 L412.8,24.2 L413.4,23.9 L413.9,23.6 L414.4,23.5 L414.9,23.5 L415.5,23.3 L416.0,23.1 L416.5,22.8 L417.0,22.6 L417.6,22.6 L418.1,22.3 L418.6,22.4" fill="none" stroke="#ff00ff" stroke-width="1.1" stroke-linejoin="round"/>
<path d="M235.0,173.6 L235.5,173.5 L236.0,173.5 L236.6,173.3 L237.1,173.1 L237.6,172.8 L238.1,172.3 L238.7,171.7 L239.2,171.0 L239.7,170.2 L240.2,169.4 L240.8,168.5 L241.3,167.6 L241.8,166.6 L242.3,165.6 L242.9,164.5 L243.4,163.4 L243.9,162.1 L244.4,160.8 L245.0,159.5 L245.5,158.0 L246.0,156.5 L246.5,154.9 L247.1,153.2 L247.6,151.5 L248.1,149.7 L248.6,147.9 L249.2,146.1 L249.7,144.2 L250.2,142.3 L250.7,140.4 L251.3,138.5 L251.8,136.5 L252.3,134.6 L252.8,132.7 L253.4,130.8 L253.9,128.8 L254.4,126.9 L254.9,125.0 L255.5,123.2 L256.0,121.3 L256.5,119.4 L257.0,117.5 L257.6,115.6 L258.1,113.8 L258.6,111.9 L259.1,110.0 L259.7,108.0 L260.2,106.1 L260.7,104.2 L261.2,102.3 L261.8,100.4 L262.3,98.6 L262.8,96.8 L263.3,95.0 L263.9,93.2 L264.4,91.6 L264.9,89.9 L265.4,88.4 L265.9,86.9 L266.5,85.5 L267.0,84.2 L267.5,82.9 L268.0,81.7 L268.6,80.5 L269.1,79.3 L269.6,78.1 L270.1,77.0 L270.7,75.8 L271.2,74.7 L271.7,73.7 L272.2,72.6 L272.8,71.6 L273.3,70.6 L273.8,69.7 L274.3,68.7 L274.9,67.8 L275.4,67.0 L275.9,66.1 L276.4,65.3 L277.0,64.5 L277.5,63.7 L278.0,63.0 L278.5,62.3 L279.1,61.5 L279.6,60.8 L280.1,60.1 L280.6,59.4 L281.2,58.8 L281.7,58.1 L282.2,57.4 L282.7,56.8 L283.3,56.2 L283.8,55.5 L284.3,54.9 L284.8,54.3 L285.4,53.7 L285.9,53.1 L286.4,52.6 L286.9,52.0 L287.5,51.5 L288.0,50.9 L288.5,50.4 L289.0,49.9 L289.6,49.4 L290.1,48.9 L290.6,48.4 L291.1,48.0 L291.7,47.5 L292.2,47.1 L292.7,46.6 L293.2,46.2 L293.8,45.8 L294.3,45.4 L294.8,45.0 L295.3,44.6 L295.9,44.2 L296.4,43.8 L296.9,43.5 L297.4,43.1 L297.9,42.7 L298.5,42.4 L299.0,42.0 L299.5,41.7 L300.0,41.4 L300.6,41.0 L301.1,40.7 L301.6,40.4 L302.1,40.1 L302.7,39.8 L303.2,39.5 L303.7,39.2 L304.2,38.9 L304.8,38.6 L305.3,38.3 L305.8,38.1 L306.3,37.8 L306.9,37.5 L307.4,37.3 L307.9,37.0 L308.4,36.8 L309.0,36.5 L309.5,36.3 L310.0,36.0 L310.5,35.8 L311.1,35.5 L311.6,35.3 L312.1,35.1 L312.6,34.9 L313.2,34.6 L313.7,34.4 L314.2,34.2 L314.7,34.0 L315.3,33.8 L315.8,33.6 L316.3,33.4 L316.8,33.2 L317.4,33.0 L317.9,32.8 L318.4,32.7 L318.9,32.5 L319.5,32.3 L320.0,32.2 L320.5,32.0 L321.0,31.9 L321.6,31.7 L322.1,31.6 L322.6,31.5 L323.1,31.3 L323.7,31.2 L324.2,31.1 L324.7,31.0 L325.2,30.8 L325.8,30.7 L326.3,30.6 L326.8,30.5 L327.3,30.4 L327.8,30.3 L328.4,30.2 L328.9,30.1 L329.4,30.0 L329.9,29.9 L330.5,29.8 L331.0,29.7 L331.5,29.6 L332.0,29.5 L332.6,29.4 L333.1,29.3 L333.6,29.3 L334.1,29.2 L334.7,29.1 L335.2,29.0 L335.7,28.9 L336.2,28.8 L336.8,28.8 L337.3,28.7 L337.8,28.6 L338.3,28.6 L338.9,28.5 L339.4,28.4 L339.9,28.3 L340.4,28.3 L341.0,28.2 L341.5,28.2 L342.0,28.1 L342.5,28.0 L343.1,28.0 L343.6,27.9 L344.1,27.9 L344.6,27.8 L345.2,27.7 L345.7,27.7 L346.2,27.7 L346.7,27.6 L347.3,27.6 L347.8,27.5 L348.3,27.5 L348.8,27.5 L349.4,27.4 L349.9,27.3 L350.4,27.3 L350.9,27.3 L351.5,27.2 L352.0,27.1 L352.5,27.1 L353.0,27.1 L353.6,27.1 L354.1,27.0 L354.6,26.9 L355.1,27.0 L355.7,26.9 L356.2,26.9 L356.7,26.7 L357.2,26.8 L357.7,26.8 L358.3,26.6 L358.8,26.7 L359.3,26.5 L359.8,26.5 L360.4,26.7 L360.9,26.3 L361.4,26.3 L361.9,26.2 L362.5,26.3 L363.0,26.2 L363.5,26.1 L364.0,26.0 L364.6,26.2 L365.1,26.0 L365.6,26.1 L366.1,26.1 L366.7,25.7 L367.2,25.6 L367.7,25.9 L368.2,25.6 L368.8,25.7 L369.3,25.6 L369.8,25.5 L370.3,25.6 L370.9,25.3 L371.4,25.2 L371.9,25.2 L372.4,25.5 L373.0,25.4 L373.5,25.2 L374.0,25.0 L374.5,25.2 L375.1,25.2 L375.6,25.1 L376.1,24.9 L376.6,25.2 L377.2,25.1 L377.7,24.7 L378.2,24.8 L378.7,24.7 L379.3,24.7 L379.8,24.5 L380.3,24.9 L380.8,24.7 L381.4,24.7 L381.9,24.6 L382.4,24.5 L382.9,24.6 L383.5,24.3 L384.0,24.5 L384.5,24.3 L385.0,24.4 L385.6,24.1 L386.1,24.1 L386.6,24.1 L387.1,24.1 L387.7,24.2 L388.2,24.2 L388.7,23.9 L389.2,23.9 L389.7,23.8 L390.3,23.9 L390.8,23.9 L391.3,23.7 L391.8,23.7 L392.4,23.9 L392.9,23.9 L393.4,23.6 L393.9,23.8 L394.5,23.7 L395.0,23.7 L395.5,23.9 L396.0,23.8 L396.6,23.5 L397.1,23.7 L397.6,23.7 L398.1,23.8 L398.7,23.7 L399.2,23.5 L399.7,23.5 L400.2,23.7 L400.8,23.8 L401.3,23.7 L401.8,23.6 L402.3,23.7 L402.9,23.4 L403.4,23.6 L403.9,23.6 L404.4,23.5 L405.0,23.6 L405.5,23.4 L406.0,23.5 L406.5,23.2 L407.1,23.5 L407.6,23.5 L408.1,23.1 L408.6,23.3 L409.2,23.2 L409.7,23.0 L410.2,23.0 L410.7,23.0 L411.3,22.8 L411.8,23.0 L412.3,22.7 L412.8,22.6 L413.4,22.6 L413.9,22.6 L414.4,22.3 L414.9,22.2 L415.5,22.2 L416.0,21.8 L416.5,22.1 L417.0,22.0 L417.6,21.8 L418.1,21.7 L418.6,21.4" fill="none" stroke="#ff0000" stroke-width="1.1" stroke-linejoin="round"/>
<path d="M235.0,172.7 L235.5,172.2 L236.0,171.4 L236.6,170.3 L237.1,169.0 L237.6,167.6 L238.1,166.1 L238.7,164.5 L239.2,163.0 L239.7,161.6 L240.2,160.1 L240.8,158.6 L241.3,157.1 L241.8,155.5 L242.3,153.9 L242.9,152.2 L243.4,150.5 L243.9,148.7 L244.4,146.8 L245.0,144.9 L245.5,143.0 L246.0,141.0 L246.5,139.1 L247.1,137.2 L247.6,135.3 L248.1,133.4 L248.6,131.5 L249.2,129.6 L249.7,127.7 L250.2,125.8 L250.7,123.9 L251.3,121.9 L251.8,120.0 L252.3,118.1 L252.8,116.2 L253.4,114.2 L253.9,112.3 L254.4,110.4 L254.9,108.5 L255.5,106.5 L256.0,104.6 L256.5,102.8 L257.0,100.9 L257.6,99.1 L258.1,97.4 L258.6,95.6 L259.1,94.0 L259.7,92.3 L260.2,90.8 L260.7,89.2 L261.2,87.7 L261.8,86.3 L262.3,84.9 L262.8,83.5 L263.3,82.2 L263.9,80.9 L264.4,79.7 L264.9,78.5 L265.4,77.3 L265.9,76.2 L266.5,75.0 L267.0,74.0 L267.5,72.9 L268.0,71.9 L268.6,71.0 L269.1,70.0 L269.6,69.1 L270.1,68.3 L270.7,67.4 L271.2,66.6 L271.7,65.8 L272.2,65.0 L272.8,64.3 L273.3,63.5 L273.8,62.8 L274.3,62.1 L274.9,61.4 L275.4,60.7 L275.9,60.0 L276.4,59.4 L277.0,58.7 L277.5,58.1 L278.0,57.4 L278.5,56.8 L279.1,56.1 L279.6,55.5 L280.1,54.9 L280.6,54.3 L281.2,53.7 L281.7,53.1 L282.2,52.6 L282.7,52.0 L283.3,51.5 L283.8,51.0 L284.3,50.5 L284.8,50.0 L285.4,49.6 L285.9,49.2 L286.4,48.8 L286.9,48.4 L287.5,48.1 L288.0,47.7 L288.5,47.4 L289.0,47.1 L289.6,46.8 L290.1,46.5 L290.6,46.3 L291.1,46.0 L291.7,45.8 L292.2,45.5 L292.7,45.3 L293.2,45.1 L293.8,44.9 L294.3,44.7 L294.8,44.5 L295.3,44.2 L295.9,44.0 L296.4,43.8 L296.9,43.6 L297.4,43.4 L297.9,43.2 L298.5,43.0 L299.0,42.7 L299.5,42.5 L300.0,42.3 L300.6,42.0 L301.1,41.8 L301.6,41.5 L302.1,41.3 L302.7,41.0 L303.2,40.8 L303.7,40.5 L304.2,40.3 L304.8,40.0 L305.3,39.8 L305.8,39.5 L306.3,39.3 L306.9,39.0 L307.4,38.8 L307.9,38.5 L308.4,38.3 L309.0,38.1 L309.5,37.8 L310.0,37.6 L310.5,37.4 L311.1,37.2 L311.6,37.0 L312.1,36.8 L312.6,36.6 L313.2,36.4 L313.7,36.2 L314.2,36.0 L314.7,35.8 L315.3,35.6 L315.8,35.4 L316.3,35.3 L316.8,35.1 L317.4,34.9 L317.9,34.8 L318.4,34.6 L318.9,34.5 L319.5,34.3 L320.0,34.2 L320.5,34.0 L321.0,33.9 L321.6,33.8 L322.1,33.6 L322.6,33.5 L323.1,33.4 L323.7,33.3 L324.2,33.1 L324.7,33.0 L325.2,32.9 L325.8,32.8 L326.3,32.7 L326.8,32.6 L327.3,32.5 L327.8,32.4 L328.4,32.3 L328.9,32.2 L329.4,32.1 L329.9,32.0 L330.5,31.9 L331.0,31.8 L331.5,31.7 L332.0,31.6 L332.6,31.5 L333.1,31.4 L333.6,31.3 L334.1,31.3 L334.7,31.2 L335.2,31.1 L335.7,31.0 L336.2,30.9 L336.8,30.9 L337.3,30.8 L337.8,30.7 L338.3,30.7 L338.9,30.6 L339.4,30.5 L339.9,30.5 L340.4,30.4 L341.0,30.4 L341.5,30.3 L342.0,30.3 L342.5,30.2 L343.1,30.2 L343.6,30.1 L344.1,30.0 L344.6,30.0 L345.2,29.9 L345.7,29.9 L346.2,29.9 L346.7,29.8 L347.3,29.8 L347.8,29.7 L348.3,29.7 L348.8,29.7 L349.4,29.6 L349.9,29.6 L350.4,29.6 L350.9,29.5 L351.5,29.4 L352.0,29.5 L352.5,29.4 L353.0,29.4 L353.6,29.2 L354.1,29.2 L354.6,29.3 L355.1,29.2 L355.7,29.2 L356.2,29.2 L356.7,29.1 L357.2,29.1 L357.7,29.0 L358.3,29.0 L358.8,29.0 L359.3,28.9 L359.8,28.9 L360.4,28.9 L360.9,28.9 L361.4,28.8 L361.9,28.9 L362.5,28.8 L363.0,28.9 L363.5,28.9 L364.0,28.7 L364.6,28.8 L365.1,28.7 L365.6,28.8 L366.1,28.7 L366.7,28.8 L367.2,28.6 L367.7,28.4 L368.2,28.5 L368.8,28.4 L369.3,28.8 L369.8,28.6 L370.3,28.8 L370.9,28.6 L371.4,28.6 L371.9,28.4 L372.4,28.5 L373.0,28.5 L373.5,28.4 L374.0,28.5 L374.5,28.6 L375.1,28.3 L375.6,28.4 L376.1,28.5 L376.6,28.1 L377.2,28.4 L377.7,28.2 L378.2,28.2 L378.7,28.2 L379.3,28.2 L379.8,28.0 L380.3,28.3 L380.8,28.0 L381.4,28.1 L381.9,28.0 L382.4,28.0 L382.9,28.0 L383.5,28.1 L384.0,28.2 L384.5,28.2 L385.0,27.9 L385.6,27.7 L386.1,27.8 L386.6,27.9 L387.1,28.0 L387.7,27.9 L388.2,27.8 L388.7,27.8 L389.2,27.7 L389.7,28.1 L390.3,27.9 L390.8,27.9 L391.3,27.8 L391.8,27.8 L392.4,27.8 L392.9,27.9 L393.4,27.5 L393.9,27.9 L394.5,27.7 L395.0,27.6 L395.5,27.6 L396.0,27.6 L396.6,28.0 L397.1,27.9 L397.6,27.6 L398.1,27.6 L398.7,27.8 L399.2,27.8 L399.7,27.6 L400.2,27.8 L400.8,27.7 L401.3,27.4 L401.8,27.5 L402.3,27.5 L402.9,27.4 L403.4,27.6 L403.9,27.3 L404.4,27.6 L405.0,27.5 L405.5,27.5 L406.0,27.5 L406.5,27.6 L407.1,27.8 L407.6,27.5 L408.1,27.5 L408.6,27.6 L409.2,27.6 L409.7,27.3 L410.2,27.4 L410.7,27.1 L411.3,27.2 L411.8,27.0 L412.3,26.9 L412.8,26.9 L413.4,26.8 L413.9,26.6 L414.4,26.4 L414.9,26.6 L415.5,26.3 L416.0,26.4 L416.5,26.2 L417.0,25.9 L417.6,26.0 L418.1,25.5 L418.6,25.9" fill="none" stroke="#008000" stroke-width="1.1" stroke-linejoin="round"/>
<path d="M27.5,349.4 L28.0,349.4 L28.5,349.4 L29.1,349.4 L29.6,349.4 L30.1,349.4 L30.6,349.4 L31.2,349.4 L31.7,349.4 L32.2,349.4 L32.7,349.4 L33.3,349.4 L33.8,349.4 L34.3,349.3 L34.8,349.1 L35.4,348.9 L35.9,348.7 L36.4,348.4 L36.9,348.1 L37.5,347.8 L38.0,347.4 L38.5,347.0 L39.0,346.5 L39.6,345.9 L40.1,345.3 L40.6,344.7 L41.1,343.9 L41.7,343.1 L42.2,342.3 L42.7,341.3 L43.2,340.4 L43.8,339.3 L44.3,338.3 L44.8,337.2 L45.3,336.0 L45.9,334.9 L46.4,333.7 L46.9,332.4 L47.4,331.2 L48.0,329.9 L48.5,328.6 L49.0,327.3 L49.5,326.0 L50.1,324.7 L50.6,323.3 L51.1,322.0 L51.6,320.6 L52.2,319.2 L52.7,317.8 L53.2,316.4 L53.7,315.0 L54.3,313.6 L54.8,312.1 L55.3,310.7 L55.8,309.2 L56.4,307.7 L56.9,306.2 L57.4,304.7 L57.9,303.2 L58.5,301.7 L59.0,300.2 L59.5,298.7 L60.0,297.2 L60.6,295.7 L61.1,294.2 L61.6,292.7 L62.1,291.2 L62.7,289.8 L63.2,288.4 L63.7,286.9 L64.2,285.6 L64.8,284.2 L65.3,282.8 L65.8,281.5 L66.3,280.2 L66.9,278.9 L67.4,277.7 L67.9,276.4 L68.4,275.2 L69.0,274.0 L69.5,272.9 L70.0,271.7 L70.5,270.6 L71.1,269.5 L71.6,268.4 L72.1,267.3 L72.6,266.3 L73.2,265.3 L73.7,264.3 L74.2,263.3 L74.7,262.3 L75.3,261.4 L75.8,260.5 L76.3,259.6 L76.8,258.7 L77.4,257.8 L77.9,257.0 L78.4,256.1 L78.9,255.3 L79.5,254.5 L80.0,253.7 L80.5,253.0 L81.0,252.2 L81.6,251.5 L82.1,250.8 L82.6,250.0 L83.1,249.3 L83.7,248.6 L84.2,248.0 L84.7,247.3 L85.2,246.6 L85.8,246.0 L86.3,245.3 L86.8,244.7 L87.3,244.0 L87.9,243.4 L88.4,242.8 L88.9,242.2 L89.4,241.6 L90.0,241.0 L90.5,240.4 L91.0,239.8 L91.5,239.2 L92.1,238.6 L92.6,238.0 L93.1,237.5 L93.6,236.9 L94.2,236.4 L94.7,235.8 L95.2,235.3 L95.7,234.8 L96.3,234.3 L96.8,233.8 L97.3,233.3 L97.8,232.8 L98.4,232.4 L98.9,231.9 L99.4,231.5 L99.9,231.0 L100.5,230.6 L101.0,230.2 L101.5,229.7 L102.0,229.3 L102.6,228.9 L103.1,228.5 L103.6,228.2 L104.1,227.8 L104.7,227.4 L105.2,227.0 L105.7,226.7 L106.2,226.3 L106.8,226.0 L107.3,225.6 L107.8,225.3 L108.3,224.9 L108.9,224.6 L109.4,224.3 L109.9,223.9 L110.4,223.6 L111.0,223.3 L111.5,223.0 L112.0,222.7 L112.5,222.4 L113.1,222.1 L113.6,221.8 L114.1,221.6 L114.6,221.3 L115.2,221.0 L115.7,220.8 L116.2,220.5 L116.7,220.3 L117.3,220.0 L117.8,219.8 L118.3,219.5 L118.8,219.3 L119.3,219.1 L119.9,218.9 L120.4,218.7 L120.9,218.5 L121.4,218.3 L122.0,218.1 L122.5,217.9 L123.0,217.7 L123.5,217.5 L124.1,217.3 L124.6,217.2 L125.1,217.0 L125.6,216.8 L126.2,216.6 L126.7,216.5 L127.2,216.3 L127.7,216.2 L128.3,216.0 L128.8,215.9 L129.3,215.7 L129.8,215.6 L130.4,215.5 L130.9,215.3 L131.4,215.2 L131.9,215.1 L132.5,214.9 L133.0,214.8 L133.5,214.7 L134.0,214.6 L134.6,214.4 L135.1,214.4 L135.6,214.3 L136.1,214.1 L136.7,214.0 L137.2,213.9 L137.7,213.8 L138.2,213.8 L138.8,213.6 L139.3,213.5 L139.8,213.4 L140.3,213.3 L140.9,213.2 L141.4,213.1 L141.9,213.0 L142.4,212.9 L143.0,212.8 L143.5,212.8 L144.0,212.8 L144.5,212.5 L145.1,212.4 L145.6,212.5 L146.1,212.2 L146.6,212.1 L147.2,212.1 L147.7,211.8 L148.2,212.0 L148.7,211.8 L149.3,211.6 L149.8,211.6 L150.3,211.5 L150.8,211.4 L151.4,211.2 L151.9,211.2 L152.4,211.3 L152.9,211.1 L153.5,211.0 L154.0,210.9 L154.5,210.7 L155.0,210.6 L155.6,210.4 L156.1,210.4 L156.6,210.2 L157.1,210.2 L157.7,210.1 L158.2,209.8 L158.7,210.1 L159.2,209.7 L159.8,209.5 L160.3,209.8 L160.8,209.4 L161.3,209.4 L161.9,209.5 L162.4,209.4 L162.9,209.3 L163.4,209.2 L164.0,208.8 L164.5,209.0 L165.0,208.9 L165.5,208.9 L166.1,208.7 L166.6,208.4 L167.1,208.3 L167.6,208.2 L168.2,208.2 L168.7,208.1 L169.2,207.7 L169.7,208.1 L170.3,207.9 L170.8,207.7 L171.3,207.8 L171.8,207.4 L172.4,207.7 L172.9,207.6 L173.4,207.4 L173.9,207.5 L174.5,207.2 L175.0,207.1 L175.5,207.0 L176.0,207.0 L176.6,207.0 L177.1,206.9 L177.6,206.7 L178.1,206.9 L178.7,206.7 L179.2,206.6 L179.7,206.6 L180.2,206.6 L180.8,206.3 L181.3,206.4 L181.8,206.4 L182.3,206.0 L182.9,206.0 L183.4,206.3 L183.9,206.2 L184.4,205.9 L185.0,206.1 L185.5,206.1 L186.0,205.9 L186.5,206.2 L187.1,205.8 L187.6,205.8 L188.1,205.6 L188.6,205.9 L189.2,205.4 L189.7,205.4 L190.2,205.6 L190.7,205.5 L191.3,205.5 L191.8,205.3 L192.3,205.4 L192.8,205.1 L193.4,205.4 L193.9,205.1 L194.4,205.1 L194.9,205.0 L195.5,205.1 L196.0,205.0 L196.5,205.0 L197.0,205.1 L197.6,204.9 L198.1,205.0 L198.6,204.7 L199.1,204.6 L199.7,204.8 L200.2,204.7 L200.7,204.6 L201.2,204.5 L201.8,204.7 L202.3,204.4 L202.8,204.4 L203.3,204.3 L203.9,204.2 L204.4,204.0 L204.9,204.1 L205.4,203.9 L206.0,204.0 L206.5,203.8 L207.0,203.7 L207.5,203.6 L208.1,203.3 L208.6,203.5 L209.1,203.2 L209.6,203.3 L210.2,203.1 L210.7,203.2 L211.2,202.8" fill="none" stroke="#000000" stroke-width="1.1" stroke-linejoin="round"/>
<path d="M27.5,349.4 L28.0,349.3 L28.5,349.2 L29.1,349.0 L29.6,348.7 L30.1,348.4 L30.6,347.9 L31.2,347.4 L31.7,346.8 L32.2,346.0 L32.7,345.1 L33.3,344.2 L33.8,343.2 L34.3,342.2 L34.8,341.1 L35.4,340.0 L35.9,338.9 L36.4,337.7 L36.9,336.5 L37.5,335.2 L38.0,333.8 L38.5,332.4 L39.0,330.9 L39.6,329.3 L40.1,327.7 L40.6,326.1 L41.1,324.4 L41.7,322.7 L42.2,321.0 L42.7,319.4 L43.2,317.6 L43.8,315.9 L44.3,314.2 L44.8,312.5 L45.3,310.7 L45.9,309.0 L46.4,307.2 L46.9,305.4 L47.4,303.6 L48.0,301.9 L48.5,300.1 L49.0,298.3 L49.5,296.5 L50.1,294.8 L50.6,293.0 L51.1,291.3 L51.6,289.6 L52.2,287.9 L52.7,286.3 L53.2,284.7 L53.7,283.1 L54.3,281.5 L54.8,280.0 L55.3,278.5 L55.8,277.0 L56.4,275.5 L56.9,274.1 L57.4,272.6 L57.9,271.2 L58.5,269.9 L59.0,268.5 L59.5,267.2 L60.0,265.9 L60.6,264.6 L61.1,263.3 L61.6,262.1 L62.1,260.9 L62.7,259.7 L63.2,258.5 L63.7,257.3 L64.2,256.1 L64.8,255.0 L65.3,253.9 L65.8,252.8 L66.3,251.7 L66.9,250.7 L67.4,249.7 L67.9,248.7 L68.4,247.7 L69.0,246.7 L69.5,245.7 L70.0,244.8 L70.5,243.9 L71.1,243.0 L71.6,242.2 L72.1,241.3 L72.6,240.5 L73.2,239.7 L73.7,238.9 L74.2,238.1 L74.7,237.3 L75.3,236.6 L75.8,235.9 L76.3,235.2 L76.8,234.5 L77.4,233.8 L77.9,233.2 L78.4,232.6 L78.9,231.9 L79.5,231.3 L80.0,230.7 L80.5,230.2 L81.0,229.6 L81.6,229.1 L82.1,228.5 L82.6,228.0 L83.1,227.5 L83.7,227.0 L84.2,226.5 L84.7,226.1 L85.2,225.6 L85.8,225.2 L86.3,224.7 L86.8,224.3 L87.3,223.9 L87.9,223.5 L88.4,223.1 L88.9,222.7 L89.4,222.4 L90.0,222.0 L90.5,221.7 L91.0,221.3 L91.5,221.0 L92.1,220.6 L92.6,220.3 L93.1,220.0 L93.6,219.7 L94.2,219.4 L94.7,219.1 L95.2,218.8 L95.7,218.5 L96.3,218.3 L96.8,218.0 L97.3,217.7 L97.8,217.5 L98.4,217.2 L98.9,217.0 L99.4,216.7 L99.9,216.5 L100.5,216.2 L101.0,216.0 L101.5,215.8 L102.0,215.5 L102.6,215.3 L103.1,215.1 L103.6,214.9 L104.1,214.7 L104.7,214.5 L105.2,214.3 L105.7,214.1 L106.2,213.9 L106.8,213.7 L107.3,213.5 L107.8,213.3 L108.3,213.1 L108.9,212.9 L109.4,212.8 L109.9,212.6 L110.4,212.4 L111.0,212.2 L111.5,212.0 L112.0,211.9 L112.5,211.7 L113.1,211.5 L113.6,211.4 L114.1,211.2 L114.6,211.1 L115.2,210.9 L115.7,210.8 L116.2,210.6 L116.7,210.5 L117.3,210.3 L117.8,210.2 L118.3,210.0 L118.8,209.9 L119.3,209.8 L119.9,209.6 L120.4,209.5 L120.9,209.4 L121.4,209.2 L122.0,209.1 L122.5,209.0 L123.0,208.8 L123.5,208.7 L124.1,208.6 L124.6,208.5 L125.1,208.4 L125.6,208.3 L126.2,208.1 L126.7,208.0 L127.2,207.9 L127.7,207.8 L128.3,207.7 L128.8,207.6 L129.3,207.5 L129.8,207.4 L130.4,207.4 L130.9,207.3 L131.4,207.2 L131.9,207.1 L132.5,207.0 L133.0,206.9 L133.5,206.8 L134.0,206.8 L134.6,206.7 L135.1,206.6 L135.6,206.5 L136.1,206.4 L136.7,206.3 L137.2,206.2 L137.7,206.2 L138.2,206.1 L138.8,206.0 L139.3,206.0 L139.8,205.9 L140.3,205.8 L140.9,205.8 L141.4,205.7 L141.9,205.6 L142.4,205.5 L143.0,205.4 L143.5,205.4 L144.0,205.4 L144.5,205.3 L145.1,205.4 L145.6,205.2 L146.1,205.2 L146.6,205.1 L147.2,205.1 L147.7,204.9 L148.2,205.0 L148.7,204.9 L149.3,204.8 L149.8,204.8 L150.3,204.8 L150.8,204.6 L151.4,204.8 L151.9,204.7 L152.4,204.6 L152.9,204.6 L153.5,204.6 L154.0,204.4 L154.5,204.6 L155.0,204.5 L155.6,204.5 L156.1,204.3 L156.6,204.4 L157.1,204.6 L157.7,204.5 L158.2,204.4 L158.7,204.3 L159.2,204.3 L159.8,204.4 L160.3,204.3 L160.8,204.1 L161.3,204.2 L161.9,204.1 L162.4,204.1 L162.9,204.0 L163.4,204.1 L164.0,203.9 L164.5,203.9 L165.0,204.3 L165.5,203.9 L166.1,203.8 L166.6,204.1 L167.1,203.9 L167.6,204.0 L168.2,203.9 L168.7,204.0 L169.2,203.8 L169.7,204.0 L170.3,203.8 L170.8,203.8 L171.3,203.8 L171.8,203.7 L172.4,203.8 L172.9,203.9 L173.4,203.8 L173.9,203.6 L174.5,203.7 L175.0,203.8 L175.5,203.6 L176.0,203.7 L176.6,203.7 L177.1,203.5 L177.6,203.5 L178.1,203.5 L178.7,203.3 L179.2,203.5 L179.7,203.2 L180.2,203.3 L180.8,203.4 L181.3,203.3 L181.8,203.3 L182.3,203.2 L182.9,203.3 L183.4,203.3 L183.9,203.0 L184.4,202.9 L185.0,203.1 L185.5,203.1 L186.0,202.9 L186.5,202.9 L187.1,203.1 L187.6,203.3 L188.1,202.8 L188.6,203.0 L189.2,202.8 L189.7,202.9 L190.2,203.0 L190.7,202.6 L191.3,202.9 L191.8,202.7 L192.3,203.0 L192.8,202.7 L193.4,202.8 L193.9,202.6 L194.4,202.6 L194.9,202.6 L195.5,202.4 L196.0,202.3 L196.5,202.7 L197.0,202.2 L197.6,202.4 L198.1,202.4 L198.6,202.3 L199.1,202.3 L199.7,202.0 L200.2,202.3 L200.7,202.2 L201.2,202.2 L201.8,202.0 L202.3,201.9 L202.8,202.0 L203.3,201.7 L203.9,201.9 L204.4,201.7 L204.9,201.5 L205.4,201.8 L206.0,201.6 L206.5,201.6 L207.0,201.5 L207.5,201.3 L208.1,201.0 L208.6,200.8 L209.1,200.8 L209.6,200.6 L210.2,200.3 L210.7,200.3 L211.2,200.4" fill="none" stroke="#0000ff" stroke-width="1.1" stroke-linejoin="round"/>
<path d="M27.5,349.3 L28.0,349.2 L28.5,349.0 L29.1,348.7 L29.6,348.3 L30.1,347.8 L30.6,347.2 L31.2,346.4 L31.7,345.6 L32.2,344.7 L32.7,343.7 L33.3,342.6 L33.8,341.5 L34.3,340.4 L34.8,339.3 L35.4,338.1 L35.9,336.8 L36.4,335.5 L36.9,334.2 L37.5,332.8 L38.0,331.3 L38.5,329.8 L39.0,328.3 L39.6,326.7 L40.1,325.1 L40.6,323.4 L41.1,321.7 L41.7,320.0 L42.2,318.3 L42.7,316.6 L43.2,314.8 L43.8,313.1 L44.3,311.3 L44.8,309.5 L45.3,307.6 L45.9,305.8 L46.4,304.0 L46.9,302.1 L47.4,300.3 L48.0,298.5 L48.5,296.6 L49.0,294.8 L49.5,293.0 L50.1,291.3 L50.6,289.5 L51.1,287.8 L51.6,286.1 L52.2,284.5 L52.7,282.9 L53.2,281.3 L53.7,279.8 L54.3,278.3 L54.8,276.8 L55.3,275.3 L55.8,273.9 L56.4,272.5 L56.9,271.1 L57.4,269.7 L57.9,268.4 L58.5,267.0 L59.0,265.7 L59.5,264.4 L60.0,263.2 L60.6,261.9 L61.1,260.7 L61.6,259.5 L62.1,258.2 L62.7,257.1 L63.2,255.9 L63.7,254.7 L64.2,253.6 L64.8,252.5 L65.3,251.4 L65.8,250.3 L66.3,249.3 L66.9,248.2 L67.4,247.2 L67.9,246.2 L68.4,245.3 L69.0,244.3 L69.5,243.4 L70.0,242.5 L70.5,241.6 L71.1,240.7 L71.6,239.9 L72.1,239.1 L72.6,238.3 L73.2,237.5 L73.7,236.8 L74.2,236.1 L74.7,235.4 L75.3,234.7 L75.8,234.0 L76.3,233.3 L76.8,232.7 L77.4,232.1 L77.9,231.5 L78.4,230.9 L78.9,230.3 L79.5,229.7 L80.0,229.2 L80.5,228.6 L81.0,228.1 L81.6,227.6 L82.1,227.1 L82.6,226.6 L83.1,226.1 L83.7,225.6 L84.2,225.2 L84.7,224.7 L85.2,224.3 L85.8,223.8 L86.3,223.4 L86.8,223.0 L87.3,222.6 L87.9,222.2 L88.4,221.8 L88.9,221.4 L89.4,221.0 L90.0,220.6 L90.5,220.3 L91.0,219.9 L91.5,219.5 L92.1,219.2 L92.6,218.9 L93.1,218.5 L93.6,218.2 L94.2,217.9 L94.7,217.6 L95.2,217.3 L95.7,217.0 L96.3,216.7 L96.8,216.4 L97.3,216.1 L97.8,215.8 L98.4,215.6 L98.9,215.3 L99.4,215.0 L99.9,214.8 L100.5,214.5 L101.0,214.3 L101.5,214.0 L102.0,213.8 L102.6,213.6 L103.1,213.3 L103.6,213.1 L104.1,212.9 L104.7,212.7 L105.2,212.5 L105.7,212.3 L106.2,212.0 L106.8,211.8 L107.3,211.6 L107.8,211.4 L108.3,211.3 L108.9,211.1 L109.4,210.9 L109.9,210.7 L110.4,210.5 L111.0,210.3 L111.5,210.1 L112.0,210.0 L112.5,209.8 L113.1,209.6 L113.6,209.5 L114.1,209.3 L114.6,209.1 L115.2,209.0 L115.7,208.8 L116.2,208.6 L116.7,208.5 L117.3,208.3 L117.8,208.2 L118.3,208.0 L118.8,207.9 L119.3,207.7 L119.9,207.6 L120.4,207.4 L120.9,207.3 L121.4,207.1 L122.0,207.0 L122.5,206.9 L123.0,206.7 L123.5,206.6 L124.1,206.4 L124.6,206.3 L125.1,206.2 L125.6,206.0 L126.2,205.9 L126.7,205.8 L127.2,205.7 L127.7,205.6 L128.3,205.5 L128.8,205.3 L129.3,205.2 L129.8,205.1 L130.4,205.0 L130.9,204.9 L131.4,204.9 L131.9,204.8 L132.5,204.7 L133.0,204.6 L133.5,204.5 L134.0,204.4 L134.6,204.3 L135.1,204.2 L135.6,204.1 L136.1,204.1 L136.7,204.0 L137.2,203.9 L137.7,203.8 L138.2,203.7 L138.8,203.6 L139.3,203.6 L139.8,203.5 L140.3,203.4 L140.9,203.4 L141.4,203.3 L141.9,203.3 L142.4,203.2 L143.0,203.0 L143.5,203.0 L144.0,202.9 L144.5,202.9 L145.1,202.8 L145.6,202.7 L146.1,202.6 L146.6,202.6 L147.2,202.6 L147.7,202.6 L148.2,202.5 L148.7,202.5 L149.3,202.4 L149.8,202.5 L150.3,202.4 L150.8,202.3 L151.4,202.3 L151.9,202.1 L152.4,202.1 L152.9,202.1 L153.5,202.1 L154.0,202.0 L154.5,202.1 L155.0,201.8 L155.6,201.9 L156.1,202.0 L156.6,201.9 L157.1,201.9 L157.7,201.8 L158.2,201.7 L158.7,201.8 L159.2,201.8 L159.8,201.7 L160.3,201.8 L160.8,201.9 L161.3,201.5 L161.9,201.8 L162.4,201.6 L162.9,201.7 L163.4,201.7 L164.0,201.4 L164.5,201.4 L165.0,201.5 L165.5,201.4 L166.1,201.3 L166.6,201.4 L167.1,201.4 L167.6,201.4 L168.2,201.4 L168.7,201.3 L169.2,201.2 L169.7,201.4 L170.3,201.3 L170.8,201.3 L171.3,201.1 L171.8,201.2 L172.4,201.2 L172.9,200.9 L173.4,201.3 L173.9,201.1 L174.5,201.3 L175.0,201.0 L175.5,201.0 L176.0,201.0 L176.6,200.9 L177.1,200.8 L177.6,201.0 L178.1,200.8 L178.7,200.7 L179.2,200.7 L179.7,200.9 L180.2,200.8 L180.8,200.7 L181.3,200.5 L181.8,200.8 L182.3,200.6 L182.9,200.7 L183.4,200.6 L183.9,200.6 L184.4,200.5 L185.0,200.5 L185.5,200.5 L186.0,200.5 L186.5,200.5 L187.1,200.4 L187.6,200.4 L188.1,200.4 L188.6,200.3 L189.2,200.2 L189.7,200.2 L190.2,200.2 L190.7,200.0 L191.3,200.3 L191.8,200.2 L192.3,200.1 L192.8,200.0 L193.4,200.1 L193.9,200.2 L194.4,200.0 L194.9,199.7 L195.5,199.8 L196.0,199.8 L196.5,199.8 L197.0,199.9 L197.6,199.6 L198.1,199.7 L198.6,199.5 L199.1,199.8 L199.7,199.6 L200.2,199.4 L200.7,199.6 L201.2,199.3 L201.8,199.5 L202.3,199.3 L202.8,199.3 L203.3,199.1 L203.9,199.0 L204.4,199.0 L204.9,198.9 L205.4,199.0 L206.0,198.8 L206.5,198.6 L207.0,198.5 L207.5,198.4 L208.1,198.2 L208.6,198.1 L209.1,197.9 L209.6,198.0 L210.2,197.8 L210.7,197.7 L211.2,197.4" fill="none" stroke="#ff00ff" stroke-width="1.1" stroke-linejoin="round"/>
<path d="M27.5,349.3 L28.0,349.2 L28.5,349.1 L29.1,348.9 L29.6,348.6 L30.1,348.3 L30.6,348.0 L31.2,347.6 L31.7,347.1 L32.2,346.6 L32.7,346.0 L33.3,345.4 L33.8,344.7 L34.3,344.0 L34.8,343.3 L35.4,342.5 L35.9,341.6 L36.4,340.8 L36.9,339.9 L37.5,339.0 L38.0,338.0 L38.5,337.0 L39.0,336.0 L39.6,334.9 L40.1,333.8 L40.6,332.6 L41.1,331.4 L41.7,330.2 L42.2,328.9 L42.7,327.6 L43.2,326.2 L43.8,324.9 L44.3,323.5 L44.8,322.1 L45.3,320.8 L45.9,319.4 L46.4,317.9 L46.9,316.5 L47.4,315.0 L48.0,313.5 L48.5,312.0 L49.0,310.4 L49.5,308.8 L50.1,307.1 L50.6,305.5 L51.1,303.7 L51.6,302.0 L52.2,300.3 L52.7,298.5 L53.2,296.8 L53.7,295.1 L54.3,293.3 L54.8,291.7 L55.3,290.0 L55.8,288.4 L56.4,286.8 L56.9,285.3 L57.4,283.8 L57.9,282.4 L58.5,281.0 L59.0,279.6 L59.5,278.3 L60.0,277.0 L60.6,275.7 L61.1,274.5 L61.6,273.3 L62.1,272.1 L62.7,270.9 L63.2,269.7 L63.7,268.5 L64.2,267.4 L64.8,266.3 L65.3,265.1 L65.8,264.0 L66.3,262.9 L66.9,261.8 L67.4,260.6 L67.9,259.5 L68.4,258.4 L69.0,257.4 L69.5,256.3 L70.0,255.2 L70.5,254.1 L71.1,253.1 L71.6,252.1 L72.1,251.1 L72.6,250.1 L73.2,249.1 L73.7,248.2 L74.2,247.2 L74.7,246.3 L75.3,245.4 L75.8,244.6 L76.3,243.8 L76.8,243.0 L77.4,242.2 L77.9,241.4 L78.4,240.7 L78.9,240.1 L79.5,239.4 L80.0,238.8 L80.5,238.2 L81.0,237.7 L81.6,237.2 L82.1,236.7 L82.6,236.3 L83.1,235.9 L83.7,235.5 L84.2,235.2 L84.7,234.9 L85.2,234.6 L85.8,234.3 L86.3,234.0 L86.8,233.7 L87.3,233.4 L87.9,233.1 L88.4,232.7 L88.9,232.4 L89.4,232.0 L90.0,231.6 L90.5,231.2 L91.0,230.8 L91.5,230.4 L92.1,230.0 L92.6,229.6 L93.1,229.2 L93.6,228.8 L94.2,228.4 L94.7,228.0 L95.2,227.6 L95.7,227.2 L96.3,226.8 L96.8,226.4 L97.3,226.1 L97.8,225.7 L98.4,225.4 L98.9,225.1 L99.4,224.8 L99.9,224.4 L100.5,224.1 L101.0,223.9 L101.5,223.6 L102.0,223.3 L102.6,223.0 L103.1,222.8 L103.6,222.5 L104.1,222.3 L104.7,222.1 L105.2,221.9 L105.7,221.7 L106.2,221.5 L106.8,221.3 L107.3,221.1 L107.8,220.9 L108.3,220.8 L108.9,220.6 L109.4,220.4 L109.9,220.3 L110.4,220.1 L111.0,219.9 L111.5,219.7 L112.0,219.5 L112.5,219.2 L113.1,218.9 L113.6,218.6 L114.1,218.1 L114.6,217.6 L115.2,217.1 L115.7,216.7 L116.2,216.3 L116.7,215.9 L117.3,215.6 L117.8,215.3 L118.3,215.0 L118.8,214.7 L119.3,214.5 L119.9,214.2 L120.4,214.0 L120.9,213.8 L121.4,213.6 L122.0,213.4 L122.5,213.2 L123.0,213.1 L123.5,212.9 L124.1,212.8 L124.6,212.7 L125.1,212.5 L125.6,212.4 L126.2,212.3 L126.7,212.2 L127.2,212.0 L127.7,211.9 L128.3,211.8 L128.8,211.7 L129.3,211.6 L129.8,211.4 L130.4,211.3 L130.9,211.2 L131.4,211.1 L131.9,211.0 L132.5,210.9 L133.0,210.7 L133.5,210.6 L134.0,210.5 L134.6,210.4 L135.1,210.3 L135.6,210.2 L136.1,210.1 L136.7,210.0 L137.2,209.9 L137.7,209.8 L138.2,209.7 L138.8,209.7 L139.3,209.5 L139.8,209.4 L140.3,209.4 L140.9,209.3 L141.4,209.1 L141.9,209.1 L142.4,209.0 L143.0,209.0 L143.5,208.8 L144.0,208.8 L144.5,208.7 L145.1,208.7 L145.6,208.5 L146.1,208.5 L146.6,208.4 L147.2,208.4 L147.7,208.3 L148.2,208.2 L148.7,208.1 L149.3,208.1 L149.8,208.1 L150.3,208.0 L150.8,207.9 L151.4,207.9 L151.9,208.1 L152.4,207.6 L152.9,207.6 L153.5,207.7 L154.0,207.4 L154.5,207.8 L155.0,207.6 L155.6,207.4 L156.1,207.5 L156.6,207.3 L157.1,207.1 L157.7,207.1 L158.2,207.2 L158.7,207.2 L159.2,207.1 L159.8,207.0 L160.3,206.9 L160.8,206.6 L161.3,206.7 L161.9,207.0 L162.4,206.7 L162.9,206.8 L163.4,206.6 L164.0,206.7 L164.5,206.6 L165.0,206.4 L165.5,206.6 L166.1,206.5 L166.6,206.3 L167.1,206.4 L167.6,206.3 L168.2,206.3 L168.7,206.1 L169.2,206.1 L169.7,206.1 L170.3,206.1 L170.8,206.1 L171.3,206.2 L171.8,206.0 L172.4,206.2 L172.9,205.8 L173.4,205.7 L173.9,206.1 L174.5,205.8 L175.0,205.7 L175.5,205.8 L176.0,205.7 L176.6,205.5 L177.1,205.4 L177.6,205.5 L178.1,205.6 L178.7,205.3 L179.2,205.5 L179.7,205.4 L180.2,205.1 L180.8,205.2 L181.3,205.2 L181.8,205.3 L182.3,205.1 L182.9,205.1 L183.4,205.1 L183.9,204.9 L184.4,204.9 L185.0,204.7 L185.5,205.1 L186.0,205.0 L186.5,204.8 L187.1,204.9 L187.6,204.9 L188.1,204.7 L188.6,204.8 L189.2,204.6 L189.7,204.8 L190.2,204.9 L190.7,204.7 L191.3,204.6 L191.8,204.7 L192.3,204.6 L192.8,204.4 L193.4,204.7 L193.9,204.6 L194.4,204.8 L194.9,204.3 L195.5,204.2 L196.0,204.2 L196.5,204.4 L197.0,204.2 L197.6,204.2 L198.1,204.0 L198.6,204.2 L199.1,204.1 L199.7,203.7 L200.2,204.0 L200.7,203.8 L201.2,203.8 L201.8,203.8 L202.3,203.6 L202.8,203.5 L203.3,203.7 L203.9,203.5 L204.4,203.5 L204.9,203.6 L205.4,203.6 L206.0,203.1 L206.5,203.2 L207.0,203.0 L207.5,202.9 L208.1,202.5 L208.6,202.5 L209.1,202.3 L209.6,202.1 L210.2,202.1 L210.7,201.9 L211.2,201.7" fill="none" stroke="#ff0000" stroke-width="1.1" stroke-linejoin="round"/>
<path d="M27.5,349.2 L28.0,348.9 L28.5,348.4 L29.1,347.9 L29.6,347.2 L30.1,346.4 L30.6,345.5 L31.2,344.6 L31.7,343.6 L32.2,342.5 L32.7,341.5 L33.3,340.4 L33.8,339.3 L34.3,338.2 L34.8,337.0 L35.4,335.8 L35.9,334.6 L36.4,333.2 L36.9,331.8 L37.5,330.4 L38.0,328.9 L38.5,327.3 L39.0,325.7 L39.6,324.0 L40.1,322.3 L40.6,320.5 L41.1,318.7 L41.7,316.9 L42.2,315.1 L42.7,313.2 L43.2,311.3 L43.8,309.5 L44.3,307.6 L44.8,305.8 L45.3,304.0 L45.9,302.1 L46.4,300.3 L46.9,298.5 L47.4,296.7 L48.0,295.0 L48.5,293.2 L49.0,291.5 L49.5,289.8 L50.1,288.1 L50.6,286.5 L51.1,284.9 L51.6,283.3 L52.2,281.7 L52.7,280.1 L53.2,278.6 L53.7,277.1 L54.3,275.6 L54.8,274.1 L55.3,272.6 L55.8,271.2 L56.4,269.8 L56.9,268.4 L57.4,267.0 L57.9,265.6 L58.5,264.3 L59.0,263.0 L59.5,261.6 L60.0,260.4 L60.6,259.1 L61.1,257.8 L61.6,256.6 L62.1,255.3 L62.7,254.1 L63.2,253.0 L63.7,251.8 L64.2,250.7 L64.8,249.6 L65.3,248.5 L65.8,247.4 L66.3,246.4 L66.9,245.3 L67.4,244.4 L67.9,243.4 L68.4,242.5 L69.0,241.6 L69.5,240.7 L70.0,239.8 L70.5,239.0 L71.1,238.2 L71.6,237.4 L72.1,236.7 L72.6,236.0 L73.2,235.3 L73.7,234.6 L74.2,233.9 L74.7,233.3 L75.3,232.6 L75.8,232.0 L76.3,231.5 L76.8,230.9 L77.4,230.3 L77.9,229.8 L78.4,229.3 L78.9,228.8 L79.5,228.3 L80.0,227.8 L80.5,227.3 L81.0,226.8 L81.6,226.4 L82.1,225.9 L82.6,225.5 L83.1,225.1 L83.7,224.6 L84.2,224.2 L84.7,223.8 L85.2,223.4 L85.8,223.0 L86.3,222.6 L86.8,222.3 L87.3,221.9 L87.9,221.5 L88.4,221.2 L88.9,220.8 L89.4,220.5 L90.0,220.2 L90.5,219.8 L91.0,219.5 L91.5,219.2 L92.1,218.9 L92.6,218.6 L93.1,218.3 L93.6,218.0 L94.2,217.7 L94.7,217.4 L95.2,217.1 L95.7,216.9 L96.3,216.6 L96.8,216.3 L97.3,216.1 L97.8,215.8 L98.4,215.5 L98.9,215.3 L99.4,215.0 L99.9,214.8 L100.5,214.6 L101.0,214.3 L101.5,214.1 L102.0,213.9 L102.6,213.7 L103.1,213.4 L103.6,213.2 L104.1,213.0 L104.7,212.8 L105.2,212.6 L105.7,212.4 L106.2,212.2 L106.8,212.0 L107.3,211.8 L107.8,211.6 L108.3,211.4 L108.9,211.3 L109.4,211.1 L109.9,210.9 L110.4,210.7 L111.0,210.6 L111.5,210.4 L112.0,210.2 L112.5,210.1 L113.1,209.9 L113.6,209.8 L114.1,209.6 L114.6,209.5 L115.2,209.3 L115.7,209.2 L116.2,209.0 L116.7,208.9 L117.3,208.7 L117.8,208.6 L118.3,208.5 L118.8,208.4 L119.3,208.2 L119.9,208.1 L120.4,208.0 L120.9,207.9 L121.4,207.8 L122.0,207.7 L122.5,207.6 L123.0,207.5 L123.5,207.3 L124.1,207.2 L124.6,207.1 L125.1,207.0 L125.6,206.9 L126.2,206.8 L126.7,206.8 L127.2,206.7 L127.7,206.6 L128.3,206.5 L128.8,206.4 L129.3,206.3 L129.8,206.2 L130.4,206.1 L130.9,206.0 L131.4,206.0 L131.9,205.9 L132.5,205.8 L133.0,205.7 L133.5,205.6 L134.0,205.5 L134.6,205.4 L135.1,205.4 L135.6,205.2 L136.1,205.2 L136.7,205.1 L137.2,205.0 L137.7,205.0 L138.2,204.9 L138.8,204.8 L139.3,204.7 L139.8,204.6 L140.3,204.5 L140.9,204.5 L141.4,204.4 L141.9,204.3 L142.4,204.3 L143.0,204.2 L143.5,204.1 L144.0,204.0 L144.5,204.0 L145.1,204.0 L145.6,203.9 L146.1,203.8 L146.6,203.8 L147.2,203.7 L147.7,203.7 L148.2,203.8 L148.7,203.4 L149.3,203.4 L149.8,203.5 L150.3,203.4 L150.8,203.4 L151.4,203.2 L151.9,203.3 L152.4,203.3 L152.9,203.1 L153.5,203.0 L154.0,203.1 L154.5,203.2 L155.0,203.1 L155.6,202.9 L156.1,202.8 L156.6,202.8 L157.1,202.9 L157.7,203.1 L158.2,202.6 L158.7,202.7 L159.2,202.9 L159.8,202.8 L160.3,202.6 L160.8,202.8 L161.3,202.7 L161.9,202.7 L162.4,202.2 L162.9,202.4 L163.4,202.5 L164.0,202.4 L164.5,202.2 L165.0,202.5 L165.5,202.2 L166.1,202.3 L166.6,202.3 L167.1,202.3 L167.6,202.1 L168.2,202.2 L168.7,202.1 L169.2,202.3 L169.7,202.2 L170.3,202.0 L170.8,202.1 L171.3,202.1 L171.8,202.1 L172.4,201.9 L172.9,202.0 L173.4,201.8 L173.9,201.8 L174.5,201.9 L175.0,201.8 L175.5,201.7 L176.0,201.8 L176.6,202.0 L177.1,201.5 L177.6,201.8 L178.1,201.7 L178.7,201.7 L179.2,201.6 L179.7,201.7 L180.2,201.5 L180.8,201.4 L181.3,201.4 L181.8,201.4 L182.3,201.5 L182.9,201.5 L183.4,201.4 L183.9,201.2 L184.4,201.5 L185.0,201.0 L185.5,201.3 L186.0,201.2 L186.5,201.3 L187.1,201.1 L187.6,201.2 L188.1,201.0 L188.6,201.1 L189.2,200.9 L189.7,201.1 L190.2,201.3 L190.7,201.0 L191.3,200.8 L191.8,201.1 L192.3,201.1 L192.8,200.9 L193.4,200.8 L193.9,200.8 L194.4,200.9 L194.9,200.7 L195.5,200.9 L196.0,200.7 L196.5,200.6 L197.0,200.8 L197.6,200.6 L198.1,200.6 L198.6,200.6 L199.1,200.6 L199.7,200.4 L200.2,200.4 L200.7,200.6 L201.2,200.6 L201.8,200.1 L202.3,200.3 L202.8,200.4 L203.3,200.3 L203.9,200.3 L204.4,200.2 L204.9,200.0 L205.4,200.1 L206.0,200.1 L206.5,200.0 L207.0,199.7 L207.5,199.6 L208.1,199.7 L208.6,199.3 L209.1,199.3 L209.6,199.1 L210.2,198.9 L210.7,198.8 L211.2,198.7" fill="none" stroke="#008000" stroke-width="1.1" stroke-linejoin="round"/>
<path d="M234.5,349.7 L235.0,349.7 L235.6,349.7 L236.1,349.7 L236.6,349.7 L237.1,349.7 L237.7,349.7 L238.2,349.7 L238.7,349.7 L239.2,349.7 L239.8,349.7 L240.3,349.7 L240.8,349.7 L241.3,349.7 L241.9,349.7 L242.4,349.7 L242.9,349.7 L243.4,349.7 L244.0,349.7 L244.5,349.7 L245.0,349.7 L245.5,349.7 L246.1,349.7 L246.6,349.7 L247.1,349.7 L247.7,349.7 L248.2,349.7 L248.7,349.7 L249.2,349.7 L249.8,349.7 L250.3,349.7 L250.8,349.6 L251.3,349.6 L251.9,349.5 L252.4,349.4 L252.9,349.3 L253.4,349.2 L254.0,349.0 L254.5,348.7 L255.0,348.5 L255.5,348.1 L256.1,347.7 L256.6,347.3 L257.1,346.8 L257.6,346.2 L258.2,345.5 L258.7,344.8 L259.2,344.0 L259.7,343.2 L260.3,342.3 L260.8,341.3 L261.3,340.3 L261.9,339.2 L262.4,338.1 L262.9,337.0 L263.4,335.8 L264.0,334.6 L264.5,333.4 L265.0,332.2 L265.5,331.0 L266.1,329.8 L266.6,328.6 L267.1,327.4 L267.6,326.1 L268.2,324.9 L268.7,323.7 L269.2,322.5 L269.7,321.3 L270.3,320.1 L270.8,318.9 L271.3,317.7 L271.8,316.4 L272.4,315.2 L272.9,314.0 L273.4,312.7 L273.9,311.4 L274.5,310.2 L275.0,308.9 L275.5,307.5 L276.1,306.2 L276.6,304.9 L277.1,303.6 L277.6,302.2 L278.2,300.9 L278.7,299.6 L279.2,298.3 L279.7,296.9 L280.3,295.6 L280.8,294.3 L281.3,293.0 L281.8,291.7 L282.4,290.5 L282.9,289.2 L283.4,288.0 L283.9,286.8 L284.5,285.6 L285.0,284.5 L285.5,283.3 L286.0,282.2 L286.6,281.1 L287.1,280.0 L287.6,279.0 L288.2,277.9 L288.7,276.9 L289.2,275.9 L289.7,274.9 L290.3,273.9 L290.8,272.9 L291.3,271.9 L291.8,271.0 L292.4,270.0 L292.9,269.1 L293.4,268.2 L293.9,267.2 L294.5,266.3 L295.0,265.4 L295.5,264.5 L296.0,263.6 L296.6,262.8 L297.1,261.9 L297.6,261.0 L298.1,260.1 L298.7,259.3 L299.2,258.4 L299.7,257.6 L300.2,256.8 L300.8,255.9 L301.3,255.1 L301.8,254.3 L302.4,253.5 L302.9,252.7 L303.4,252.0 L303.9,251.2 L304.5,250.4 L305.0,249.7 L305.5,249.0 L306.0,248.2 L306.6,247.5 L307.1,246.8 L307.6,246.1 L308.1,245.5 L308.7,244.8 L309.2,244.2 L309.7,243.5 L310.2,242.9 L310.8,242.3 L311.3,241.7 L311.8,241.1 L312.3,240.6 L312.9,240.0 L313.4,239.5 L313.9,239.0 L314.5,238.4 L315.0,237.9 L315.5,237.4 L316.0,237.0 L316.6,236.5 L317.1,236.0 L317.6,235.6 L318.1,235.1 L318.7,234.7 L319.2,234.3 L319.7,233.8 L320.2,233.4 L320.8,233.0 L321.3,232.6 L321.8,232.2 L322.3,231.8 L322.9,231.4 L323.4,231.0 L323.9,230.6 L324.4,230.2 L325.0,229.8 L325.5,229.4 L326.0,229.0 L326.6,228.6 L327.1,228.2 L327.6,227.8 L328.1,227.4 L328.7,227.0 L329.2,226.6 L329.7,226.2 L330.2,225.8 L330.8,225.4 L331.3,225.0 L331.8,224.5 L332.3,224.1 L332.9,223.7 L333.4,223.3 L333.9,222.9 L334.4,222.5 L335.0,222.1 L335.5,221.8 L336.0,221.4 L336.5,221.0 L337.1,220.6 L337.6,220.3 L338.1,219.9 L338.6,219.6 L339.2,219.3 L339.7,219.0 L340.2,218.7 L340.8,218.4 L341.3,218.1 L341.8,217.9 L342.3,217.6 L342.9,217.4 L343.4,217.2 L343.9,217.0 L344.4,216.8 L345.0,216.6 L345.5,216.4 L346.0,216.2 L346.5,216.0 L347.1,215.8 L347.6,215.6 L348.1,215.5 L348.6,215.3 L349.2,215.1 L349.7,215.0 L350.2,214.8 L350.7,214.5 L351.3,214.5 L351.8,214.4 L352.3,214.2 L352.9,214.0 L353.4,213.9 L353.9,213.7 L354.4,213.7 L355.0,213.4 L355.5,213.2 L356.0,213.2 L356.5,213.0 L357.1,213.0 L357.6,212.9 L358.1,212.7 L358.6,212.5 L359.2,212.4 L359.7,212.2 L360.2,212.2 L360.7,212.0 L361.3,212.0 L361.8,211.8 L362.3,211.8 L362.8,211.8 L363.4,211.4 L363.9,211.6 L364.4,211.3 L364.9,211.2 L365.5,211.1 L366.0,211.0 L366.5,211.0 L367.1,210.9 L367.6,210.7 L368.1,210.7 L368.6,210.7 L369.2,210.3 L369.7,210.4 L370.2,210.1 L370.7,210.2 L371.3,210.2 L371.8,210.2 L372.3,209.9 L372.8,209.7 L373.4,209.8 L373.9,209.8 L374.4,209.9 L374.9,209.3 L375.5,209.6 L376.0,209.4 L376.5,209.1 L377.0,209.1 L377.6,209.1 L378.1,209.2 L378.6,209.0 L379.1,209.0 L379.7,209.0 L380.2,208.9 L380.7,208.6 L381.3,208.6 L381.8,208.6 L382.3,208.8 L382.8,208.7 L383.4,208.4 L383.9,208.3 L384.4,208.4 L384.9,208.3 L385.5,208.1 L386.0,208.1 L386.5,207.9 L387.0,207.8 L387.6,208.0 L388.1,207.8 L388.6,207.9 L389.1,207.7 L389.7,207.7 L390.2,207.6 L390.7,207.8 L391.2,207.7 L391.8,207.2 L392.3,207.2 L392.8,207.3 L393.4,207.2 L393.9,207.2 L394.4,207.2 L394.9,207.0 L395.5,207.0 L396.0,207.1 L396.5,207.0 L397.0,206.6 L397.6,206.8 L398.1,206.6 L398.6,206.7 L399.1,206.4 L399.7,206.6 L400.2,206.5 L400.7,206.5 L401.2,206.4 L401.8,206.3 L402.3,206.4 L402.8,206.5 L403.3,206.1 L403.9,206.0 L404.4,206.2 L404.9,206.2 L405.5,205.9 L406.0,206.0 L406.5,206.0 L407.0,205.7 L407.6,205.8 L408.1,205.9 L408.6,205.8 L409.1,205.6 L409.7,205.7 L410.2,205.5 L410.7,205.5 L411.2,205.4 L411.8,205.2 L412.3,205.3 L412.8,205.1 L413.3,205.3 L413.9,205.1 L414.4,204.8 L414.9,204.8 L415.4,204.4 L416.0,204.4 L416.5,204.3 L417.0,204.4 L417.5,204.0 L418.1,204.0 L418.6,203.9" fill="none" stroke="#000000" stroke-width="1.1" stroke-linejoin="round"/>
<path d="M234.5,349.7 L235.0,349.7 L235.6,349.7 L236.1,349.7 L236.6,349.6 L237.1,349.6 L237.7,349.5 L238.2,349.5 L238.7,349.4 L239.2,349.3 L239.8,349.2 L240.3,349.0 L240.8,348.9 L241.3,348.7 L241.9,348.5 L242.4,348.2 L242.9,347.9 L243.4,347.6 L244.0,347.3 L244.5,346.9 L245.0,346.5 L245.5,346.1 L246.1,345.6 L246.6,345.1 L247.1,344.5 L247.7,344.0 L248.2,343.3 L248.7,342.7 L249.2,341.9 L249.8,341.2 L250.3,340.3 L250.8,339.5 L251.3,338.5 L251.9,337.5 L252.4,336.5 L252.9,335.4 L253.4,334.2 L254.0,333.0 L254.5,331.7 L255.0,330.3 L255.5,328.9 L256.1,327.5 L256.6,326.1 L257.1,324.6 L257.6,323.2 L258.2,321.7 L258.7,320.3 L259.2,318.8 L259.7,317.3 L260.3,315.9 L260.8,314.4 L261.3,312.9 L261.9,311.4 L262.4,309.9 L262.9,308.4 L263.4,306.9 L264.0,305.3 L264.5,303.8 L265.0,302.2 L265.5,300.7 L266.1,299.1 L266.6,297.6 L267.1,296.1 L267.6,294.6 L268.2,293.1 L268.7,291.6 L269.2,290.1 L269.7,288.7 L270.3,287.2 L270.8,285.8 L271.3,284.5 L271.8,283.1 L272.4,281.8 L272.9,280.5 L273.4,279.2 L273.9,278.0 L274.5,276.8 L275.0,275.5 L275.5,274.4 L276.1,273.2 L276.6,272.0 L277.1,270.9 L277.6,269.8 L278.2,268.7 L278.7,267.6 L279.2,266.6 L279.7,265.6 L280.3,264.5 L280.8,263.5 L281.3,262.5 L281.8,261.6 L282.4,260.6 L282.9,259.7 L283.4,258.7 L283.9,257.8 L284.5,256.9 L285.0,256.0 L285.5,255.2 L286.0,254.3 L286.6,253.5 L287.1,252.6 L287.6,251.8 L288.2,251.0 L288.7,250.2 L289.2,249.5 L289.7,248.7 L290.3,248.0 L290.8,247.2 L291.3,246.5 L291.8,245.8 L292.4,245.1 L292.9,244.5 L293.4,243.8 L293.9,243.1 L294.5,242.5 L295.0,241.9 L295.5,241.3 L296.0,240.7 L296.6,240.1 L297.1,239.5 L297.6,238.9 L298.1,238.4 L298.7,237.8 L299.2,237.3 L299.7,236.8 L300.2,236.2 L300.8,235.7 L301.3,235.2 L301.8,234.7 L302.4,234.3 L302.9,233.8 L303.4,233.3 L303.9,232.9 L304.5,232.4 L305.0,231.9 L305.5,231.5 L306.0,231.1 L306.6,230.6 L307.1,230.2 L307.6,229.8 L308.1,229.4 L308.7,228.9 L309.2,228.5 L309.7,228.1 L310.2,227.7 L310.8,227.3 L311.3,226.9 L311.8,226.5 L312.3,226.1 L312.9,225.7 L313.4,225.3 L313.9,224.9 L314.5,224.6 L315.0,224.2 L315.5,223.8 L316.0,223.4 L316.6,223.0 L317.1,222.7 L317.6,222.3 L318.1,221.9 L318.7,221.6 L319.2,221.2 L319.7,220.9 L320.2,220.6 L320.8,220.2 L321.3,219.9 L321.8,219.6 L322.3,219.3 L322.9,219.0 L323.4,218.7 L323.9,218.4 L324.4,218.1 L325.0,217.8 L325.5,217.5 L326.0,217.2 L326.6,216.9 L327.1,216.6 L327.6,216.3 L328.1,216.0 L328.7,215.8 L329.2,215.5 L329.7,215.2 L330.2,214.9 L330.8,214.6 L331.3,214.4 L331.8,214.1 L332.3,213.9 L332.9,213.6 L333.4,213.3 L333.9,213.1 L334.4,212.9 L335.0,212.6 L335.5,212.4 L336.0,212.2 L336.5,211.9 L337.1,211.7 L337.6,211.5 L338.1,211.3 L338.6,211.1 L339.2,210.9 L339.7,210.7 L340.2,210.6 L340.8,210.4 L341.3,210.2 L341.8,210.1 L342.3,209.9 L342.9,209.8 L343.4,209.7 L343.9,209.5 L344.4,209.4 L345.0,209.3 L345.5,209.2 L346.0,209.1 L346.5,208.9 L347.1,208.8 L347.6,208.7 L348.1,208.6 L348.6,208.5 L349.2,208.4 L349.7,208.2 L350.2,208.2 L350.7,208.1 L351.3,208.0 L351.8,207.9 L352.3,207.8 L352.9,207.6 L353.4,207.7 L353.9,207.6 L354.4,207.5 L355.0,207.4 L355.5,207.2 L356.0,207.3 L356.5,207.0 L357.1,207.0 L357.6,207.0 L358.1,206.8 L358.6,206.7 L359.2,206.6 L359.7,206.7 L360.2,206.7 L360.7,206.7 L361.3,206.5 L361.8,206.3 L362.3,206.4 L362.8,206.2 L363.4,206.3 L363.9,206.1 L364.4,205.9 L364.9,206.1 L365.5,206.0 L366.0,205.8 L366.5,205.9 L367.1,205.6 L367.6,205.7 L368.1,205.7 L368.6,205.3 L369.2,205.7 L369.7,205.6 L370.2,205.4 L370.7,205.5 L371.3,205.4 L371.8,205.2 L372.3,205.3 L372.8,205.1 L373.4,204.9 L373.9,204.9 L374.4,204.8 L374.9,204.7 L375.5,205.0 L376.0,205.0 L376.5,204.8 L377.0,204.9 L377.6,204.7 L378.1,204.5 L378.6,204.4 L379.1,204.6 L379.7,204.2 L380.2,204.4 L380.7,204.3 L381.3,204.1 L381.8,204.3 L382.3,204.4 L382.8,204.5 L383.4,204.2 L383.9,204.0 L384.4,203.9 L384.9,204.1 L385.5,203.8 L386.0,204.0 L386.5,203.9 L387.0,203.9 L387.6,203.8 L388.1,203.7 L388.6,203.9 L389.1,203.6 L389.7,203.6 L390.2,203.9 L390.7,203.3 L391.2,203.5 L391.8,203.3 L392.3,203.5 L392.8,203.5 L393.4,203.4 L393.9,203.4 L394.4,203.3 L394.9,203.3 L395.5,203.1 L396.0,202.9 L396.5,203.0 L397.0,203.0 L397.6,203.1 L398.1,203.2 L398.6,203.1 L399.1,202.9 L399.7,203.0 L400.2,203.0 L400.7,202.9 L401.2,202.7 L401.8,202.9 L402.3,202.7 L402.8,202.8 L403.3,202.6 L403.9,202.9 L404.4,202.6 L404.9,202.6 L405.5,202.7 L406.0,202.4 L406.5,202.5 L407.0,202.4 L407.6,202.4 L408.1,202.4 L408.6,202.2 L409.1,202.1 L409.7,202.1 L410.2,202.2 L410.7,202.1 L411.2,202.0 L411.8,202.1 L412.3,201.9 L412.8,201.9 L413.3,201.8 L413.9,201.8 L414.4,201.9 L414.9,201.6 L415.4,201.4 L416.0,201.2 L416.5,201.3 L417.0,201.0 L417.5,200.8 L418.1,200.8 L418.6,200.8" fill="none" stroke="#0000ff" stroke-width="1.1" stroke-linejoin="round"/>
<path d="M234.5,349.7 L235.0,349.6 L235.6,349.5 L236.1,349.4 L236.6,349.2 L237.1,349.0 L237.7,348.7 L238.2,348.3 L238.7,347.8 L239.2,347.3 L239.8,346.7 L240.3,346.0 L240.8,345.4 L241.3,344.7 L241.9,344.0 L242.4,343.3 L242.9,342.6 L243.4,341.9 L244.0,341.2 L244.5,340.4 L245.0,339.7 L245.5,338.9 L246.1,338.0 L246.6,337.1 L247.1,336.1 L247.7,335.1 L248.2,333.9 L248.7,332.7 L249.2,331.4 L249.8,330.0 L250.3,328.5 L250.8,327.0 L251.3,325.4 L251.9,323.8 L252.4,322.1 L252.9,320.5 L253.4,318.8 L254.0,317.1 L254.5,315.4 L255.0,313.7 L255.5,311.9 L256.1,310.2 L256.6,308.5 L257.1,306.8 L257.6,305.0 L258.2,303.3 L258.7,301.6 L259.2,299.9 L259.7,298.1 L260.3,296.4 L260.8,294.8 L261.3,293.1 L261.9,291.4 L262.4,289.8 L262.9,288.1 L263.4,286.5 L264.0,284.9 L264.5,283.3 L265.0,281.8 L265.5,280.2 L266.1,278.7 L266.6,277.2 L267.1,275.7 L267.6,274.3 L268.2,272.9 L268.7,271.5 L269.2,270.1 L269.7,268.8 L270.3,267.5 L270.8,266.3 L271.3,265.0 L271.8,263.8 L272.4,262.7 L272.9,261.5 L273.4,260.4 L273.9,259.4 L274.5,258.3 L275.0,257.3 L275.5,256.3 L276.1,255.4 L276.6,254.4 L277.1,253.5 L277.6,252.6 L278.2,251.8 L278.7,250.9 L279.2,250.1 L279.7,249.3 L280.3,248.5 L280.8,247.7 L281.3,247.0 L281.8,246.2 L282.4,245.5 L282.9,244.8 L283.4,244.1 L283.9,243.4 L284.5,242.8 L285.0,242.1 L285.5,241.4 L286.0,240.8 L286.6,240.1 L287.1,239.5 L287.6,238.9 L288.2,238.3 L288.7,237.7 L289.2,237.1 L289.7,236.5 L290.3,235.9 L290.8,235.4 L291.3,234.8 L291.8,234.3 L292.4,233.7 L292.9,233.2 L293.4,232.7 L293.9,232.1 L294.5,231.6 L295.0,231.1 L295.5,230.7 L296.0,230.2 L296.6,229.7 L297.1,229.2 L297.6,228.8 L298.1,228.3 L298.7,227.9 L299.2,227.5 L299.7,227.0 L300.2,226.6 L300.8,226.2 L301.3,225.8 L301.8,225.4 L302.4,225.1 L302.9,224.7 L303.4,224.3 L303.9,224.0 L304.5,223.6 L305.0,223.3 L305.5,222.9 L306.0,222.6 L306.6,222.3 L307.1,221.9 L307.6,221.6 L308.1,221.3 L308.7,221.0 L309.2,220.7 L309.7,220.4 L310.2,220.1 L310.8,219.8 L311.3,219.6 L311.8,219.3 L312.3,219.0 L312.9,218.7 L313.4,218.5 L313.9,218.2 L314.5,218.0 L315.0,217.7 L315.5,217.5 L316.0,217.2 L316.6,217.0 L317.1,216.8 L317.6,216.5 L318.1,216.3 L318.7,216.1 L319.2,215.8 L319.7,215.6 L320.2,215.4 L320.8,215.2 L321.3,215.0 L321.8,214.7 L322.3,214.5 L322.9,214.3 L323.4,214.1 L323.9,213.9 L324.4,213.7 L325.0,213.5 L325.5,213.3 L326.0,213.1 L326.6,212.9 L327.1,212.7 L327.6,212.5 L328.1,212.3 L328.7,212.1 L329.2,211.9 L329.7,211.7 L330.2,211.5 L330.8,211.3 L331.3,211.1 L331.8,211.0 L332.3,210.8 L332.9,210.6 L333.4,210.4 L333.9,210.3 L334.4,210.1 L335.0,210.0 L335.5,209.8 L336.0,209.6 L336.5,209.5 L337.1,209.3 L337.6,209.2 L338.1,209.0 L338.6,208.9 L339.2,208.8 L339.7,208.6 L340.2,208.5 L340.8,208.4 L341.3,208.3 L341.8,208.1 L342.3,208.0 L342.9,207.9 L343.4,207.8 L343.9,207.7 L344.4,207.6 L345.0,207.5 L345.5,207.4 L346.0,207.3 L346.5,207.2 L347.1,207.1 L347.6,207.1 L348.1,207.0 L348.6,206.9 L349.2,206.7 L349.7,206.7 L350.2,206.7 L350.7,206.5 L351.3,206.4 L351.8,206.4 L352.3,206.3 L352.9,206.2 L353.4,206.1 L353.9,206.1 L354.4,206.0 L355.0,206.0 L355.5,205.9 L356.0,205.7 L356.5,205.7 L357.1,205.7 L357.6,205.5 L358.1,205.4 L358.6,205.5 L359.2,205.3 L359.7,205.2 L360.2,205.2 L360.7,205.3 L361.3,205.1 L361.8,205.1 L362.3,204.9 L362.8,205.0 L363.4,204.8 L363.9,204.8 L364.4,204.8 L364.9,204.7 L365.5,204.8 L366.0,204.6 L366.5,204.8 L367.1,204.5 L367.6,204.5 L368.1,204.3 L368.6,204.2 L369.2,204.1 L369.7,204.1 L370.2,204.1 L370.7,204.2 L371.3,203.8 L371.8,203.9 L372.3,204.1 L372.8,203.8 L373.4,203.8 L373.9,203.5 L374.4,203.6 L374.9,203.6 L375.5,203.5 L376.0,203.5 L376.5,203.4 L377.0,203.6 L377.6,203.6 L378.1,203.2 L378.6,203.3 L379.1,203.4 L379.7,203.4 L380.2,203.1 L380.7,203.0 L381.3,203.0 L381.8,203.0 L382.3,203.2 L382.8,202.8 L383.4,202.8 L383.9,202.8 L384.4,203.0 L384.9,203.0 L385.5,203.0 L386.0,202.5 L386.5,202.5 L387.0,202.8 L387.6,202.9 L388.1,202.5 L388.6,202.3 L389.1,202.5 L389.7,202.3 L390.2,202.3 L390.7,202.4 L391.2,202.3 L391.8,202.3 L392.3,202.1 L392.8,202.2 L393.4,202.3 L393.9,202.2 L394.4,202.0 L394.9,202.0 L395.5,202.3 L396.0,202.0 L396.5,202.1 L397.0,202.0 L397.6,202.0 L398.1,201.8 L398.6,201.8 L399.1,201.7 L399.7,201.8 L400.2,202.0 L400.7,202.0 L401.2,201.7 L401.8,201.4 L402.3,201.8 L402.8,201.7 L403.3,201.6 L403.9,201.3 L404.4,201.6 L404.9,201.5 L405.5,201.4 L406.0,201.6 L406.5,201.4 L407.0,201.4 L407.6,201.6 L408.1,201.5 L408.6,201.5 L409.1,201.3 L409.7,201.3 L410.2,201.1 L410.7,201.1 L411.2,201.3 L411.8,201.2 L412.3,201.0 L412.8,200.8 L413.3,201.1 L413.9,201.0 L414.4,200.8 L414.9,200.5 L415.4,200.6 L416.0,200.5 L416.5,200.1 L417.0,200.0 L417.5,200.0 L418.1,199.8 L418.6,199.9" fill="none" stroke="#ff00ff" stroke-width="1.1" stroke-linejoin="round"/>
<path d="M234.5,349.7 L235.0,349.7 L235.6,349.7 L236.1,349.7 L236.6,349.7 L237.1,349.7 L237.7,349.7 L238.2,349.7 L238.7,349.7 L239.2,349.7 L239.8,349.7 L240.3,349.7 L240.8,349.7 L241.3,349.7 L241.9,349.7 L242.4,349.7 L242.9,349.7 L243.4,349.7 L244.0,349.7 L244.5,349.7 L245.0,349.7 L245.5,349.7 L246.1,349.7 L246.6,349.7 L247.1,349.7 L247.7,349.6 L248.2,349.6 L248.7,349.5 L249.2,349.4 L249.8,349.2 L250.3,349.0 L250.8,348.7 L251.3,348.3 L251.9,347.8 L252.4,347.1 L252.9,346.4 L253.4,345.5 L254.0,344.4 L254.5,343.3 L255.0,342.0 L255.5,340.6 L256.1,339.1 L256.6,337.5 L257.1,335.8 L257.6,334.1 L258.2,332.3 L258.7,330.5 L259.2,328.6 L259.7,326.7 L260.3,324.7 L260.8,322.8 L261.3,320.9 L261.9,318.9 L262.4,317.0 L262.9,315.1 L263.4,313.2 L264.0,311.3 L264.5,309.4 L265.0,307.6 L265.5,305.8 L266.1,304.0 L266.6,302.2 L267.1,300.5 L267.6,298.8 L268.2,297.1 L268.7,295.4 L269.2,293.8 L269.7,292.2 L270.3,290.6 L270.8,289.1 L271.3,287.6 L271.8,286.1 L272.4,284.6 L272.9,283.2 L273.4,281.8 L273.9,280.4 L274.5,279.1 L275.0,277.7 L275.5,276.4 L276.1,275.1 L276.6,273.9 L277.1,272.7 L277.6,271.5 L278.2,270.3 L278.7,269.1 L279.2,268.0 L279.7,266.8 L280.3,265.7 L280.8,264.6 L281.3,263.6 L281.8,262.5 L282.4,261.5 L282.9,260.5 L283.4,259.5 L283.9,258.5 L284.5,257.5 L285.0,256.6 L285.5,255.7 L286.0,254.8 L286.6,253.9 L287.1,253.0 L287.6,252.1 L288.2,251.3 L288.7,250.5 L289.2,249.7 L289.7,248.9 L290.3,248.1 L290.8,247.4 L291.3,246.6 L291.8,245.9 L292.4,245.2 L292.9,244.5 L293.4,243.8 L293.9,243.2 L294.5,242.5 L295.0,241.9 L295.5,241.3 L296.0,240.7 L296.6,240.1 L297.1,239.5 L297.6,239.0 L298.1,238.4 L298.7,237.9 L299.2,237.4 L299.7,236.9 L300.2,236.3 L300.8,235.9 L301.3,235.4 L301.8,234.9 L302.4,234.4 L302.9,233.9 L303.4,233.5 L303.9,233.0 L304.5,232.6 L305.0,232.1 L305.5,231.7 L306.0,231.3 L306.6,230.8 L307.1,230.4 L307.6,229.9 L308.1,229.5 L308.7,229.1 L309.2,228.6 L309.7,228.2 L310.2,227.8 L310.8,227.3 L311.3,226.9 L311.8,226.4 L312.3,226.0 L312.9,225.5 L313.4,225.0 L313.9,224.6 L314.5,224.1 L315.0,223.7 L315.5,223.2 L316.0,222.8 L316.6,222.3 L317.1,221.9 L317.6,221.4 L318.1,221.0 L318.7,220.6 L319.2,220.2 L319.7,219.9 L320.2,219.5 L320.8,219.2 L321.3,218.9 L321.8,218.6 L322.3,218.3 L322.9,218.0 L323.4,217.7 L323.9,217.4 L324.4,217.2 L325.0,216.9 L325.5,216.7 L326.0,216.5 L326.6,216.2 L327.1,216.0 L327.6,215.8 L328.1,215.6 L328.7,215.4 L329.2,215.2 L329.7,215.0 L330.2,214.7 L330.8,214.5 L331.3,214.3 L331.8,214.1 L332.3,213.9 L332.9,213.7 L333.4,213.6 L333.9,213.4 L334.4,213.2 L335.0,213.0 L335.5,212.8 L336.0,212.7 L336.5,212.5 L337.1,212.3 L337.6,212.2 L338.1,212.0 L338.6,211.9 L339.2,211.7 L339.7,211.6 L340.2,211.5 L340.8,211.3 L341.3,211.2 L341.8,211.1 L342.3,211.0 L342.9,210.8 L343.4,210.7 L343.9,210.6 L344.4,210.5 L345.0,210.4 L345.5,210.2 L346.0,210.2 L346.5,210.1 L347.1,210.0 L347.6,209.8 L348.1,209.8 L348.6,209.7 L349.2,209.7 L349.7,209.6 L350.2,209.4 L350.7,209.3 L351.3,209.3 L351.8,209.2 L352.3,209.1 L352.9,209.1 L353.4,208.8 L353.9,209.0 L354.4,208.7 L355.0,208.8 L355.5,208.6 L356.0,208.6 L356.5,208.5 L357.1,208.5 L357.6,208.6 L358.1,208.2 L358.6,208.2 L359.2,208.3 L359.7,208.0 L360.2,208.1 L360.7,208.0 L361.3,208.1 L361.8,207.9 L362.3,207.8 L362.8,207.8 L363.4,207.6 L363.9,207.6 L364.4,207.7 L364.9,207.5 L365.5,207.5 L366.0,207.4 L366.5,207.5 L367.1,207.3 L367.6,207.1 L368.1,206.9 L368.6,207.1 L369.2,207.1 L369.7,206.8 L370.2,207.0 L370.7,207.0 L371.3,206.8 L371.8,206.7 L372.3,206.6 L372.8,206.4 L373.4,206.6 L373.9,206.6 L374.4,206.7 L374.9,206.3 L375.5,206.3 L376.0,206.4 L376.5,206.4 L377.0,206.4 L377.6,206.1 L378.1,206.0 L378.6,206.3 L379.1,205.9 L379.7,206.1 L380.2,205.8 L380.7,206.1 L381.3,205.9 L381.8,205.8 L382.3,205.9 L382.8,205.8 L383.4,206.1 L383.9,205.5 L384.4,205.9 L384.9,205.4 L385.5,205.5 L386.0,205.7 L386.5,205.4 L387.0,205.4 L387.6,205.3 L388.1,205.5 L388.6,205.2 L389.1,205.3 L389.7,205.5 L390.2,205.3 L390.7,205.4 L391.2,205.2 L391.8,205.1 L392.3,205.1 L392.8,205.0 L393.4,205.0 L393.9,204.9 L394.4,204.9 L394.9,204.7 L395.5,204.8 L396.0,204.6 L396.5,204.6 L397.0,204.4 L397.6,204.6 L398.1,204.5 L398.6,204.7 L399.1,204.6 L399.7,204.5 L400.2,204.4 L400.7,204.2 L401.2,204.2 L401.8,204.1 L402.3,203.8 L402.8,203.9 L403.3,204.1 L403.9,203.9 L404.4,203.8 L404.9,203.8 L405.5,203.6 L406.0,203.8 L406.5,203.8 L407.0,203.4 L407.6,203.6 L408.1,203.3 L408.6,203.3 L409.1,203.4 L409.7,203.5 L410.2,203.3 L410.7,203.1 L411.2,203.2 L411.8,203.3 L412.3,202.7 L412.8,202.9 L413.3,202.7 L413.9,202.6 L414.4,202.9 L414.9,202.7 L415.4,202.2 L416.0,202.3 L416.5,202.3 L417.0,202.0 L417.5,201.7 L418.1,201.7 L418.6,201.6" fill="none" stroke="#ff0000" stroke-width="1.1" stroke-linejoin="round"/>
<path d="M234.5,349.6 L235.0,349.5 L235.6,349.2 L236.1,348.9 L236.6,348.4 L237.1,347.8 L237.7,347.2 L238.2,346.4 L238.7,345.6 L239.2,344.7 L239.8,343.9 L240.3,343.1 L240.8,342.3 L241.3,341.5 L241.9,340.7 L242.4,340.0 L242.9,339.2 L243.4,338.4 L244.0,337.5 L244.5,336.6 L245.0,335.5 L245.5,334.4 L246.1,333.2 L246.6,331.8 L247.1,330.4 L247.7,328.9 L248.2,327.3 L248.7,325.6 L249.2,323.8 L249.8,322.1 L250.3,320.3 L250.8,318.5 L251.3,316.6 L251.9,314.8 L252.4,312.9 L252.9,311.0 L253.4,309.2 L254.0,307.3 L254.5,305.4 L255.0,303.5 L255.5,301.6 L256.1,299.7 L256.6,297.9 L257.1,296.0 L257.6,294.2 L258.2,292.3 L258.7,290.5 L259.2,288.7 L259.7,287.0 L260.3,285.2 L260.8,283.5 L261.3,281.8 L261.9,280.2 L262.4,278.6 L262.9,277.0 L263.4,275.4 L264.0,273.8 L264.5,272.3 L265.0,270.8 L265.5,269.4 L266.1,268.0 L266.6,266.6 L267.1,265.3 L267.6,263.9 L268.2,262.7 L268.7,261.4 L269.2,260.2 L269.7,259.0 L270.3,257.8 L270.8,256.7 L271.3,255.6 L271.8,254.5 L272.4,253.4 L272.9,252.4 L273.4,251.4 L273.9,250.4 L274.5,249.4 L275.0,248.4 L275.5,247.4 L276.1,246.5 L276.6,245.6 L277.1,244.6 L277.6,243.7 L278.2,242.8 L278.7,241.9 L279.2,241.0 L279.7,240.1 L280.3,239.3 L280.8,238.4 L281.3,237.5 L281.8,236.7 L282.4,235.9 L282.9,235.1 L283.4,234.3 L283.9,233.5 L284.5,232.7 L285.0,232.0 L285.5,231.3 L286.0,230.6 L286.6,229.9 L287.1,229.3 L287.6,228.7 L288.2,228.1 L288.7,227.6 L289.2,227.1 L289.7,226.6 L290.3,226.1 L290.8,225.7 L291.3,225.3 L291.8,224.9 L292.4,224.5 L292.9,224.1 L293.4,223.7 L293.9,223.4 L294.5,223.0 L295.0,222.6 L295.5,222.2 L296.0,221.9 L296.6,221.5 L297.1,221.1 L297.6,220.7 L298.1,220.4 L298.7,220.0 L299.2,219.6 L299.7,219.3 L300.2,218.9 L300.8,218.5 L301.3,218.2 L301.8,217.9 L302.4,217.5 L302.9,217.2 L303.4,216.9 L303.9,216.6 L304.5,216.3 L305.0,216.0 L305.5,215.7 L306.0,215.4 L306.6,215.1 L307.1,214.9 L307.6,214.6 L308.1,214.4 L308.7,214.2 L309.2,214.0 L309.7,213.7 L310.2,213.5 L310.8,213.3 L311.3,213.1 L311.8,213.0 L312.3,212.8 L312.9,212.6 L313.4,212.4 L313.9,212.2 L314.5,212.0 L315.0,211.8 L315.5,211.7 L316.0,211.5 L316.6,211.3 L317.1,211.1 L317.6,210.9 L318.1,210.8 L318.7,210.6 L319.2,210.4 L319.7,210.3 L320.2,210.1 L320.8,210.0 L321.3,209.8 L321.8,209.6 L322.3,209.3 L322.9,209.0 L323.4,208.7 L323.9,208.4 L324.4,208.1 L325.0,207.9 L325.5,207.7 L326.0,207.5 L326.6,207.3 L327.1,207.2 L327.6,207.0 L328.1,206.9 L328.7,206.7 L329.2,206.6 L329.7,206.5 L330.2,206.4 L330.8,206.3 L331.3,206.2 L331.8,206.1 L332.3,206.0 L332.9,205.9 L333.4,205.8 L333.9,205.7 L334.4,205.7 L335.0,205.6 L335.5,205.5 L336.0,205.4 L336.5,205.4 L337.1,205.3 L337.6,205.2 L338.1,205.2 L338.6,205.1 L339.2,205.0 L339.7,205.0 L340.2,204.9 L340.8,204.8 L341.3,204.8 L341.8,204.7 L342.3,204.6 L342.9,204.5 L343.4,204.4 L343.9,204.4 L344.4,204.3 L345.0,204.2 L345.5,204.1 L346.0,204.0 L346.5,204.0 L347.1,204.0 L347.6,203.8 L348.1,203.8 L348.6,203.7 L349.2,203.6 L349.7,203.4 L350.2,203.4 L350.7,203.4 L351.3,203.3 L351.8,203.1 L352.3,203.1 L352.9,202.9 L353.4,202.9 L353.9,202.8 L354.4,202.7 L355.0,202.7 L355.5,202.5 L356.0,202.5 L356.5,202.5 L357.1,202.4 L357.6,202.5 L358.1,202.4 L358.6,202.3 L359.2,202.3 L359.7,202.0 L360.2,202.0 L360.7,202.0 L361.3,201.9 L361.8,201.9 L362.3,201.7 L362.8,201.7 L363.4,201.7 L363.9,201.7 L364.4,201.6 L364.9,201.5 L365.5,201.5 L366.0,201.4 L366.5,201.5 L367.1,201.2 L367.6,201.2 L368.1,201.1 L368.6,200.9 L369.2,201.0 L369.7,200.8 L370.2,200.8 L370.7,200.9 L371.3,200.9 L371.8,200.8 L372.3,201.0 L372.8,200.9 L373.4,200.8 L373.9,200.6 L374.4,200.6 L374.9,200.6 L375.5,200.5 L376.0,200.7 L376.5,200.8 L377.0,200.6 L377.6,200.2 L378.1,200.3 L378.6,200.2 L379.1,200.4 L379.7,200.4 L380.2,200.1 L380.7,200.3 L381.3,200.0 L381.8,200.1 L382.3,200.0 L382.8,200.1 L383.4,200.2 L383.9,200.0 L384.4,199.8 L384.9,199.9 L385.5,200.0 L386.0,199.7 L386.5,199.8 L387.0,199.9 L387.6,199.8 L388.1,199.6 L388.6,199.6 L389.1,199.7 L389.7,199.6 L390.2,199.5 L390.7,199.5 L391.2,199.5 L391.8,199.5 L392.3,199.6 L392.8,199.3 L393.4,199.4 L393.9,199.1 L394.4,199.5 L394.9,199.4 L395.5,199.3 L396.0,199.2 L396.5,199.3 L397.0,199.4 L397.6,199.4 L398.1,199.1 L398.6,199.2 L399.1,199.0 L399.7,199.0 L400.2,198.9 L400.7,199.1 L401.2,199.0 L401.8,198.6 L402.3,199.0 L402.8,198.8 L403.3,199.0 L403.9,198.9 L404.4,198.9 L404.9,198.9 L405.5,198.8 L406.0,198.7 L406.5,198.7 L407.0,198.5 L407.6,198.6 L408.1,198.6 L408.6,198.5 L409.1,198.5 L409.7,198.4 L410.2,198.4 L410.7,198.3 L411.2,198.3 L411.8,198.4 L412.3,198.3 L412.8,198.0 L413.3,197.9 L413.9,198.3 L414.4,198.0 L414.9,198.0 L415.4,197.6 L416.0,197.7 L416.5,197.7 L417.0,197.7 L417.5,197.5 L418.1,197.5 L418.6,197.4" fill="none" stroke="#008000" stroke-width="1.1" stroke-linejoin="round"/>
<path d="M29.5,527.9 L30.0,527.8 L30.6,527.6 L31.1,527.4 L31.6,527.2 L32.1,526.9 L32.7,526.6 L33.2,526.2 L33.7,525.7 L34.2,525.0 L34.8,524.2 L35.3,523.3 L35.8,522.3 L36.3,521.1 L36.9,519.9 L37.4,518.6 L37.9,517.2 L38.4,515.7 L39.0,514.2 L39.5,512.7 L40.0,511.2 L40.5,509.6 L41.1,508.0 L41.6,506.4 L42.1,504.8 L42.6,503.2 L43.2,501.5 L43.7,499.7 L44.2,497.9 L44.7,495.9 L45.3,493.8 L45.8,491.5 L46.3,489.0 L46.8,486.2 L47.4,483.3 L47.9,480.2 L48.4,476.9 L48.9,473.6 L49.5,470.4 L50.0,467.3 L50.5,464.4 L51.0,461.7 L51.6,459.1 L52.1,456.8 L52.6,454.6 L53.1,452.5 L53.7,450.6 L54.2,448.8 L54.7,447.1 L55.2,445.5 L55.8,443.9 L56.3,442.5 L56.8,441.0 L57.3,439.7 L57.9,438.3 L58.4,437.0 L58.9,435.8 L59.4,434.6 L60.0,433.4 L60.5,432.2 L61.0,431.1 L61.5,430.0 L62.1,429.0 L62.6,427.9 L63.1,426.9 L63.6,425.9 L64.2,424.9 L64.7,424.0 L65.2,423.0 L65.7,422.1 L66.3,421.2 L66.8,420.3 L67.3,419.4 L67.8,418.5 L68.4,417.7 L68.9,416.8 L69.4,415.9 L69.9,415.1 L70.5,414.3 L71.0,413.5 L71.5,412.7 L72.0,411.9 L72.6,411.2 L73.1,410.4 L73.6,409.7 L74.1,409.0 L74.7,408.4 L75.2,407.7 L75.7,407.1 L76.2,406.5 L76.8,405.9 L77.3,405.3 L77.8,404.8 L78.3,404.3 L78.9,403.8 L79.4,403.3 L79.9,402.8 L80.4,402.3 L81.0,401.8 L81.5,401.4 L82.0,401.0 L82.5,400.5 L83.1,400.1 L83.6,399.7 L84.1,399.3 L84.6,398.9 L85.2,398.5 L85.7,398.1 L86.2,397.7 L86.7,397.3 L87.3,397.0 L87.8,396.7 L88.3,396.4 L88.8,396.2 L89.4,395.9 L89.9,395.7 L90.4,395.5 L90.9,395.3 L91.5,395.1 L92.0,395.0 L92.5,394.8 L93.0,394.6 L93.6,394.4 L94.1,394.2 L94.6,394.1 L95.1,393.9 L95.7,393.7 L96.2,393.5 L96.7,393.3 L97.2,393.1 L97.8,392.9 L98.3,392.7 L98.8,392.5 L99.3,392.3 L99.9,392.1 L100.4,391.9 L100.9,391.7 L101.4,391.5 L102.0,391.3 L102.5,391.1 L103.0,390.9 L103.5,390.7 L104.1,390.5 L104.6,390.3 L105.1,390.1 L105.6,390.0 L106.2,389.8 L106.7,389.6 L107.2,389.4 L107.7,389.3 L108.3,389.1 L108.8,388.9 L109.3,388.8 L109.8,388.6 L110.4,388.4 L110.9,388.3 L111.4,388.1 L111.9,387.9 L112.5,387.8 L113.0,387.6 L113.5,387.5 L114.0,387.3 L114.6,387.2 L115.1,387.1 L115.6,386.9 L116.1,386.8 L116.7,386.7 L117.2,386.5 L117.7,386.4 L118.2,386.3 L118.8,386.2 L119.3,386.1 L119.8,386.0 L120.3,385.9 L120.9,385.8 L121.4,385.7 L121.9,385.6 L122.5,385.5 L123.0,385.4 L123.5,385.3 L124.0,385.2 L124.6,385.1 L125.1,385.0 L125.6,384.9 L126.1,384.9 L126.7,384.8 L127.2,384.7 L127.7,384.6 L128.2,384.5 L128.8,384.4 L129.3,384.4 L129.8,384.3 L130.3,384.2 L130.9,384.1 L131.4,384.0 L131.9,384.0 L132.4,383.9 L133.0,383.8 L133.5,383.8 L134.0,383.7 L134.5,383.6 L135.1,383.5 L135.6,383.5 L136.1,383.4 L136.6,383.4 L137.2,383.3 L137.7,383.2 L138.2,383.1 L138.7,383.1 L139.3,383.0 L139.8,383.0 L140.3,382.9 L140.8,382.8 L141.4,382.8 L141.9,382.7 L142.4,382.7 L142.9,382.6 L143.5,382.5 L144.0,382.5 L144.5,382.4 L145.0,382.5 L145.6,382.3 L146.1,382.4 L146.6,382.2 L147.1,382.2 L147.7,382.2 L148.2,382.0 L148.7,382.0 L149.2,382.1 L149.8,382.1 L150.3,381.8 L150.8,382.0 L151.3,381.7 L151.9,381.8 L152.4,381.6 L152.9,381.6 L153.4,381.5 L154.0,381.5 L154.5,381.5 L155.0,381.4 L155.5,381.2 L156.1,381.3 L156.6,381.2 L157.1,381.2 L157.6,381.2 L158.2,381.2 L158.7,381.4 L159.2,381.0 L159.7,380.9 L160.3,380.8 L160.8,381.0 L161.3,380.9 L161.8,380.8 L162.4,380.7 L162.9,380.7 L163.4,380.7 L163.9,380.7 L164.5,380.7 L165.0,380.9 L165.5,380.7 L166.0,380.5 L166.6,380.6 L167.1,380.6 L167.6,380.4 L168.1,380.4 L168.7,380.5 L169.2,380.5 L169.7,380.3 L170.2,380.3 L170.8,380.3 L171.3,380.3 L171.8,380.3 L172.3,380.4 L172.9,380.3 L173.4,380.5 L173.9,380.1 L174.4,380.3 L175.0,379.9 L175.5,380.1 L176.0,380.4 L176.5,380.2 L177.1,380.2 L177.6,380.1 L178.1,380.2 L178.6,380.1 L179.2,380.2 L179.7,380.3 L180.2,380.1 L180.7,380.0 L181.3,380.4 L181.8,380.0 L182.3,380.1 L182.8,380.0 L183.4,379.7 L183.9,379.8 L184.4,380.2 L184.9,380.0 L185.5,379.7 L186.0,379.8 L186.5,379.8 L187.0,379.6 L187.6,379.7 L188.1,379.7 L188.6,379.8 L189.1,379.8 L189.7,379.6 L190.2,379.6 L190.7,379.7 L191.2,379.8 L191.8,379.9 L192.3,379.6 L192.8,379.9 L193.3,379.6 L193.9,379.8 L194.4,379.4 L194.9,379.6 L195.4,379.5 L196.0,379.6 L196.5,379.3 L197.0,379.4 L197.5,379.3 L198.1,379.1 L198.6,379.2 L199.1,379.3 L199.6,379.5 L200.2,379.3 L200.7,379.4 L201.2,379.0 L201.7,379.0 L202.3,379.2 L202.8,378.9 L203.3,378.9 L203.8,379.0 L204.4,379.1 L204.9,378.9 L205.4,378.9 L205.9,378.9 L206.5,378.8 L207.0,378.7 L207.5,378.7 L208.0,378.4 L208.6,378.7 L209.1,378.6 L209.6,378.5 L210.1,378.6 L210.7,378.2 L211.2,378.4 L211.7,378.3 L212.2,378.3 L212.8,378.3 L213.3,378.2" fill="none" stroke="#000000" stroke-width="1.1" stroke-linejoin="round"/>
<path d="M29.5,527.9 L30.0,527.8 L30.6,527.6 L31.1,527.4 L31.6,527.2 L32.1,526.9 L32.7,526.6 L33.2,526.2 L33.7,525.7 L34.2,525.0 L34.8,524.3 L35.3,523.3 L35.8,522.3 L36.3,521.1 L36.9,519.9 L37.4,518.6 L37.9,517.1 L38.4,515.6 L39.0,514.1 L39.5,512.5 L40.0,510.9 L40.5,509.3 L41.1,507.7 L41.6,506.1 L42.1,504.4 L42.6,502.8 L43.2,501.1 L43.7,499.4 L44.2,497.7 L44.7,496.0 L45.3,494.3 L45.8,492.5 L46.3,490.7 L46.8,488.9 L47.4,487.0 L47.9,485.0 L48.4,483.0 L48.9,481.1 L49.5,479.0 L50.0,477.0 L50.5,475.0 L51.0,473.1 L51.6,471.1 L52.1,469.2 L52.6,467.3 L53.1,465.5 L53.7,463.8 L54.2,462.0 L54.7,460.4 L55.2,458.7 L55.8,457.2 L56.3,455.6 L56.8,454.1 L57.3,452.7 L57.9,451.3 L58.4,449.9 L58.9,448.5 L59.4,447.2 L60.0,445.8 L60.5,444.5 L61.0,443.3 L61.5,442.0 L62.1,440.7 L62.6,439.5 L63.1,438.3 L63.6,437.1 L64.2,435.9 L64.7,434.7 L65.2,433.6 L65.7,432.5 L66.3,431.3 L66.8,430.2 L67.3,429.2 L67.8,428.1 L68.4,427.1 L68.9,426.1 L69.4,425.1 L69.9,424.1 L70.5,423.1 L71.0,422.2 L71.5,421.3 L72.0,420.4 L72.6,419.6 L73.1,418.7 L73.6,417.9 L74.1,417.1 L74.7,416.4 L75.2,415.6 L75.7,414.9 L76.2,414.2 L76.8,413.5 L77.3,412.8 L77.8,412.2 L78.3,411.5 L78.9,410.8 L79.4,410.2 L79.9,409.6 L80.4,409.0 L81.0,408.3 L81.5,407.7 L82.0,407.1 L82.5,406.5 L83.1,406.0 L83.6,405.4 L84.1,404.8 L84.6,404.3 L85.2,403.7 L85.7,403.2 L86.2,402.7 L86.7,402.2 L87.3,401.7 L87.8,401.2 L88.3,400.7 L88.8,400.3 L89.4,399.8 L89.9,399.4 L90.4,399.0 L90.9,398.6 L91.5,398.2 L92.0,397.9 L92.5,397.5 L93.0,397.2 L93.6,396.9 L94.1,396.6 L94.6,396.3 L95.1,396.0 L95.7,395.7 L96.2,395.4 L96.7,395.1 L97.2,394.8 L97.8,394.6 L98.3,394.3 L98.8,394.0 L99.3,393.8 L99.9,393.5 L100.4,393.2 L100.9,393.0 L101.4,392.7 L102.0,392.5 L102.5,392.2 L103.0,392.0 L103.5,391.8 L104.1,391.6 L104.6,391.3 L105.1,391.1 L105.6,390.9 L106.2,390.7 L106.7,390.5 L107.2,390.3 L107.7,390.1 L108.3,389.9 L108.8,389.7 L109.3,389.5 L109.8,389.4 L110.4,389.2 L110.9,389.0 L111.4,388.8 L111.9,388.7 L112.5,388.5 L113.0,388.3 L113.5,388.2 L114.0,388.0 L114.6,387.9 L115.1,387.7 L115.6,387.6 L116.1,387.4 L116.7,387.3 L117.2,387.2 L117.7,387.0 L118.2,386.9 L118.8,386.8 L119.3,386.6 L119.8,386.5 L120.3,386.4 L120.9,386.2 L121.4,386.1 L121.9,386.0 L122.5,385.9 L123.0,385.7 L123.5,385.6 L124.0,385.5 L124.6,385.4 L125.1,385.3 L125.6,385.1 L126.1,385.0 L126.7,384.9 L127.2,384.8 L127.7,384.7 L128.2,384.5 L128.8,384.4 L129.3,384.3 L129.8,384.2 L130.3,384.1 L130.9,384.0 L131.4,383.9 L131.9,383.8 L132.4,383.7 L133.0,383.6 L133.5,383.5 L134.0,383.4 L134.5,383.3 L135.1,383.2 L135.6,383.1 L136.1,383.0 L136.6,382.9 L137.2,382.8 L137.7,382.7 L138.2,382.6 L138.7,382.5 L139.3,382.5 L139.8,382.4 L140.3,382.3 L140.8,382.2 L141.4,382.1 L141.9,382.1 L142.4,382.0 L142.9,381.9 L143.5,381.9 L144.0,381.7 L144.5,381.6 L145.0,381.7 L145.6,381.6 L146.1,381.4 L146.6,381.5 L147.1,381.5 L147.7,381.3 L148.2,381.1 L148.7,381.1 L149.2,381.0 L149.8,381.1 L150.3,381.0 L150.8,380.9 L151.3,380.9 L151.9,380.9 L152.4,380.8 L152.9,380.7 L153.4,380.6 L154.0,380.6 L154.5,380.4 L155.0,380.4 L155.5,380.5 L156.1,380.5 L156.6,380.4 L157.1,380.3 L157.6,380.2 L158.2,380.3 L158.7,380.1 L159.2,380.1 L159.7,379.9 L160.3,380.1 L160.8,380.1 L161.3,379.7 L161.8,379.9 L162.4,379.7 L162.9,380.1 L163.4,379.6 L163.9,379.6 L164.5,379.7 L165.0,379.6 L165.5,379.5 L166.0,379.3 L166.6,379.5 L167.1,379.4 L167.6,379.4 L168.1,379.3 L168.7,379.4 L169.2,379.4 L169.7,379.2 L170.2,379.4 L170.8,379.2 L171.3,379.4 L171.8,379.2 L172.3,379.1 L172.9,379.1 L173.4,379.2 L173.9,379.0 L174.4,379.2 L175.0,379.2 L175.5,379.0 L176.0,379.1 L176.5,379.0 L177.1,378.9 L177.6,379.0 L178.1,378.9 L178.6,378.8 L179.2,378.9 L179.7,378.9 L180.2,378.7 L180.7,378.7 L181.3,378.8 L181.8,378.8 L182.3,378.9 L182.8,378.7 L183.4,378.7 L183.9,379.1 L184.4,378.4 L184.9,379.0 L185.5,378.7 L186.0,378.8 L186.5,378.6 L187.0,378.7 L187.6,378.6 L188.1,378.4 L188.6,378.7 L189.1,378.5 L189.7,378.4 L190.2,378.5 L190.7,378.5 L191.2,378.7 L191.8,378.5 L192.3,378.3 L192.8,378.2 L193.3,378.4 L193.9,378.2 L194.4,378.4 L194.9,378.4 L195.4,378.2 L196.0,378.1 L196.5,378.2 L197.0,377.9 L197.5,378.2 L198.1,378.1 L198.6,378.2 L199.1,378.1 L199.6,378.3 L200.2,378.2 L200.7,378.1 L201.2,378.0 L201.7,378.0 L202.3,377.9 L202.8,377.8 L203.3,377.9 L203.8,377.8 L204.4,377.8 L204.9,377.9 L205.4,378.1 L205.9,377.7 L206.5,377.8 L207.0,377.9 L207.5,377.7 L208.0,377.6 L208.6,377.7 L209.1,377.6 L209.6,377.5 L210.1,377.5 L210.7,377.6 L211.2,377.6 L211.7,377.4 L212.2,377.7 L212.8,377.5 L213.3,377.4" fill="none" stroke="#0000ff" stroke-width="1.1" stroke-linejoin="round"/>
<path d="M29.5,527.9 L30.0,527.8 L30.6,527.6 L31.1,527.4 L31.6,527.2 L32.1,526.9 L32.7,526.6 L33.2,526.2 L33.7,525.7 L34.2,525.0 L34.8,524.3 L35.3,523.3 L35.8,522.3 L36.3,521.1 L36.9,519.9 L37.4,518.5 L37.9,517.1 L38.4,515.7 L39.0,514.1 L39.5,512.6 L40.0,511.0 L40.5,509.4 L41.1,507.7 L41.6,506.1 L42.1,504.5 L42.6,502.8 L43.2,501.2 L43.7,499.5 L44.2,497.8 L44.7,496.1 L45.3,494.3 L45.8,492.5 L46.3,490.6 L46.8,488.7 L47.4,486.7 L47.9,484.6 L48.4,482.4 L48.9,480.2 L49.5,478.0 L50.0,475.8 L50.5,473.5 L51.0,471.3 L51.6,469.1 L52.1,467.0 L52.6,465.0 L53.1,463.0 L53.7,461.2 L54.2,459.3 L54.7,457.6 L55.2,455.9 L55.8,454.3 L56.3,452.7 L56.8,451.2 L57.3,449.8 L57.9,448.3 L58.4,446.9 L58.9,445.6 L59.4,444.2 L60.0,442.9 L60.5,441.6 L61.0,440.3 L61.5,439.1 L62.1,437.8 L62.6,436.6 L63.1,435.4 L63.6,434.2 L64.2,433.0 L64.7,431.8 L65.2,430.7 L65.7,429.5 L66.3,428.4 L66.8,427.3 L67.3,426.2 L67.8,425.2 L68.4,424.1 L68.9,423.1 L69.4,422.1 L69.9,421.1 L70.5,420.1 L71.0,419.1 L71.5,418.2 L72.0,417.3 L72.6,416.4 L73.1,415.5 L73.6,414.6 L74.1,413.8 L74.7,412.9 L75.2,412.1 L75.7,411.3 L76.2,410.5 L76.8,409.8 L77.3,409.0 L77.8,408.3 L78.3,407.6 L78.9,406.9 L79.4,406.3 L79.9,405.6 L80.4,405.0 L81.0,404.4 L81.5,403.8 L82.0,403.2 L82.5,402.7 L83.1,402.1 L83.6,401.6 L84.1,401.1 L84.6,400.7 L85.2,400.2 L85.7,399.8 L86.2,399.4 L86.7,399.0 L87.3,398.6 L87.8,398.2 L88.3,397.9 L88.8,397.5 L89.4,397.2 L89.9,396.9 L90.4,396.6 L90.9,396.3 L91.5,396.1 L92.0,395.8 L92.5,395.6 L93.0,395.3 L93.6,395.0 L94.1,394.8 L94.6,394.5 L95.1,394.3 L95.7,394.0 L96.2,393.8 L96.7,393.5 L97.2,393.3 L97.8,393.0 L98.3,392.7 L98.8,392.5 L99.3,392.2 L99.9,391.9 L100.4,391.7 L100.9,391.4 L101.4,391.2 L102.0,390.9 L102.5,390.6 L103.0,390.4 L103.5,390.1 L104.1,389.9 L104.6,389.6 L105.1,389.4 L105.6,389.2 L106.2,388.9 L106.7,388.7 L107.2,388.5 L107.7,388.3 L108.3,388.1 L108.8,387.9 L109.3,387.7 L109.8,387.5 L110.4,387.3 L110.9,387.1 L111.4,386.9 L111.9,386.7 L112.5,386.5 L113.0,386.4 L113.5,386.2 L114.0,386.0 L114.6,385.9 L115.1,385.7 L115.6,385.6 L116.1,385.4 L116.7,385.3 L117.2,385.2 L117.7,385.1 L118.2,384.9 L118.8,384.8 L119.3,384.7 L119.8,384.6 L120.3,384.5 L120.9,384.4 L121.4,384.3 L121.9,384.2 L122.5,384.1 L123.0,384.0 L123.5,383.9 L124.0,383.8 L124.6,383.7 L125.1,383.6 L125.6,383.5 L126.1,383.4 L126.7,383.3 L127.2,383.2 L127.7,383.1 L128.2,383.1 L128.8,383.0 L129.3,382.9 L129.8,382.8 L130.3,382.7 L130.9,382.6 L131.4,382.6 L131.9,382.5 L132.4,382.4 L133.0,382.3 L133.5,382.2 L134.0,382.2 L134.5,382.1 L135.1,382.0 L135.6,381.9 L136.1,381.9 L136.6,381.8 L137.2,381.7 L137.7,381.6 L138.2,381.6 L138.7,381.5 L139.3,381.4 L139.8,381.4 L140.3,381.3 L140.8,381.2 L141.4,381.2 L141.9,381.0 L142.4,381.0 L142.9,380.9 L143.5,381.0 L144.0,380.8 L144.5,380.7 L145.0,380.7 L145.6,380.6 L146.1,380.6 L146.6,380.5 L147.1,380.4 L147.7,380.4 L148.2,380.4 L148.7,380.2 L149.2,380.4 L149.8,380.1 L150.3,380.0 L150.8,379.9 L151.3,379.9 L151.9,380.0 L152.4,379.7 L152.9,379.7 L153.4,379.6 L154.0,379.5 L154.5,379.6 L155.0,379.4 L155.5,379.2 L156.1,379.3 L156.6,379.4 L157.1,379.2 L157.6,379.2 L158.2,379.0 L158.7,379.1 L159.2,379.1 L159.7,379.1 L160.3,379.2 L160.8,378.7 L161.3,378.6 L161.8,378.7 L162.4,378.8 L162.9,378.7 L163.4,378.6 L163.9,378.8 L164.5,378.5 L165.0,378.5 L165.5,378.6 L166.0,378.2 L166.6,378.1 L167.1,378.2 L167.6,378.0 L168.1,378.2 L168.7,378.3 L169.2,378.1 L169.7,378.3 L170.2,378.0 L170.8,378.2 L171.3,377.9 L171.8,377.9 L172.3,378.0 L172.9,377.8 L173.4,377.9 L173.9,377.8 L174.4,377.9 L175.0,378.1 L175.5,377.7 L176.0,377.8 L176.5,377.8 L177.1,377.6 L177.6,377.5 L178.1,377.8 L178.6,377.6 L179.2,377.7 L179.7,377.7 L180.2,377.7 L180.7,377.8 L181.3,377.5 L181.8,377.7 L182.3,377.4 L182.8,377.5 L183.4,377.6 L183.9,377.4 L184.4,377.5 L184.9,377.4 L185.5,377.3 L186.0,377.4 L186.5,377.3 L187.0,377.3 L187.6,377.3 L188.1,377.2 L188.6,377.1 L189.1,377.0 L189.7,377.3 L190.2,377.3 L190.7,376.8 L191.2,376.9 L191.8,377.1 L192.3,377.0 L192.8,377.0 L193.3,376.9 L193.9,377.0 L194.4,377.0 L194.9,376.7 L195.4,376.9 L196.0,376.6 L196.5,376.7 L197.0,376.7 L197.5,376.8 L198.1,376.9 L198.6,376.8 L199.1,376.5 L199.6,376.7 L200.2,376.6 L200.7,376.3 L201.2,376.5 L201.7,376.4 L202.3,376.4 L202.8,376.5 L203.3,376.4 L203.8,376.3 L204.4,376.4 L204.9,376.1 L205.4,376.2 L205.9,376.0 L206.5,376.2 L207.0,375.9 L207.5,375.8 L208.0,375.8 L208.6,375.7 L209.1,375.7 L209.6,375.9 L210.1,375.8 L210.7,375.7 L211.2,375.7 L211.7,375.9 L212.2,375.6 L212.8,375.5 L213.3,375.5" fill="none" stroke="#ff0000" stroke-width="1.1" stroke-linejoin="round"/>
<path d="M29.5,527.9 L30.0,527.8 L30.6,527.6 L31.1,527.4 L31.6,527.2 L32.1,526.9 L32.7,526.6 L33.2,526.2 L33.7,525.7 L34.2,525.0 L34.8,524.3 L35.3,523.3 L35.8,522.3 L36.3,521.1 L36.9,519.9 L37.4,518.6 L37.9,517.1 L38.4,515.7 L39.0,514.1 L39.5,512.6 L40.0,511.0 L40.5,509.3 L41.1,507.7 L41.6,506.1 L42.1,504.4 L42.6,502.8 L43.2,501.1 L43.7,499.4 L44.2,497.8 L44.7,496.0 L45.3,494.3 L45.8,492.5 L46.3,490.7 L46.8,488.8 L47.4,486.8 L47.9,484.8 L48.4,482.7 L48.9,480.7 L49.5,478.6 L50.0,476.5 L50.5,474.4 L51.0,472.3 L51.6,470.3 L52.1,468.3 L52.6,466.4 L53.1,464.5 L53.7,462.7 L54.2,461.0 L54.7,459.3 L55.2,457.6 L55.8,456.0 L56.3,454.5 L56.8,453.0 L57.3,451.5 L57.9,450.1 L58.4,448.7 L58.9,447.3 L59.4,446.0 L60.0,444.6 L60.5,443.3 L61.0,442.0 L61.5,440.7 L62.1,439.5 L62.6,438.2 L63.1,437.0 L63.6,435.8 L64.2,434.6 L64.7,433.4 L65.2,432.2 L65.7,431.1 L66.3,429.9 L66.8,428.8 L67.3,427.7 L67.8,426.7 L68.4,425.6 L68.9,424.6 L69.4,423.6 L69.9,422.6 L70.5,421.7 L71.0,420.7 L71.5,419.8 L72.0,419.0 L72.6,418.1 L73.1,417.3 L73.6,416.5 L74.1,415.7 L74.7,414.9 L75.2,414.2 L75.7,413.5 L76.2,412.8 L76.8,412.1 L77.3,411.4 L77.8,410.7 L78.3,410.1 L78.9,409.4 L79.4,408.8 L79.9,408.1 L80.4,407.5 L81.0,406.9 L81.5,406.3 L82.0,405.7 L82.5,405.1 L83.1,404.5 L83.6,403.9 L84.1,403.4 L84.6,402.9 L85.2,402.3 L85.7,401.8 L86.2,401.3 L86.7,400.9 L87.3,400.4 L87.8,400.0 L88.3,399.5 L88.8,399.1 L89.4,398.7 L89.9,398.4 L90.4,398.0 L90.9,397.7 L91.5,397.4 L92.0,397.0 L92.5,396.7 L93.0,396.5 L93.6,396.2 L94.1,395.9 L94.6,395.6 L95.1,395.4 L95.7,395.1 L96.2,394.8 L96.7,394.6 L97.2,394.3 L97.8,394.0 L98.3,393.8 L98.8,393.5 L99.3,393.2 L99.9,393.0 L100.4,392.7 L100.9,392.5 L101.4,392.2 L102.0,391.9 L102.5,391.7 L103.0,391.4 L103.5,391.2 L104.1,391.0 L104.6,390.7 L105.1,390.5 L105.6,390.3 L106.2,390.0 L106.7,389.8 L107.2,389.6 L107.7,389.4 L108.3,389.2 L108.8,389.0 L109.3,388.8 L109.8,388.6 L110.4,388.4 L110.9,388.2 L111.4,388.0 L111.9,387.8 L112.5,387.6 L113.0,387.5 L113.5,387.3 L114.0,387.1 L114.6,387.0 L115.1,386.8 L115.6,386.6 L116.1,386.5 L116.7,386.3 L117.2,386.2 L117.7,386.0 L118.2,385.9 L118.8,385.8 L119.3,385.6 L119.8,385.5 L120.3,385.4 L120.9,385.2 L121.4,385.1 L121.9,385.0 L122.5,384.8 L123.0,384.7 L123.5,384.6 L124.0,384.5 L124.6,384.3 L125.1,384.2 L125.6,384.1 L126.1,384.0 L126.7,383.9 L127.2,383.7 L127.7,383.6 L128.2,383.5 L128.8,383.4 L129.3,383.3 L129.8,383.2 L130.3,383.0 L130.9,382.9 L131.4,382.8 L131.9,382.7 L132.4,382.6 L133.0,382.5 L133.5,382.4 L134.0,382.3 L134.5,382.2 L135.1,382.1 L135.6,382.0 L136.1,381.9 L136.6,381.8 L137.2,381.7 L137.7,381.6 L138.2,381.5 L138.7,381.4 L139.3,381.4 L139.8,381.3 L140.3,381.2 L140.8,381.0 L141.4,381.0 L141.9,380.9 L142.4,380.8 L142.9,380.7 L143.5,380.6 L144.0,380.5 L144.5,380.4 L145.0,380.4 L145.6,380.4 L146.1,380.2 L146.6,380.3 L147.1,380.3 L147.7,380.0 L148.2,379.9 L148.7,379.8 L149.2,379.9 L149.8,379.6 L150.3,379.7 L150.8,379.6 L151.3,379.5 L151.9,379.4 L152.4,379.3 L152.9,379.4 L153.4,379.3 L154.0,379.0 L154.5,379.0 L155.0,378.9 L155.5,378.9 L156.1,378.8 L156.6,378.6 L157.1,378.6 L157.6,378.6 L158.2,378.7 L158.7,378.7 L159.2,378.4 L159.7,378.6 L160.3,378.4 L160.8,378.4 L161.3,378.3 L161.8,378.3 L162.4,378.4 L162.9,378.2 L163.4,377.8 L163.9,377.9 L164.5,377.9 L165.0,377.8 L165.5,378.1 L166.0,377.8 L166.6,377.7 L167.1,377.7 L167.6,377.7 L168.1,377.9 L168.7,377.6 L169.2,377.6 L169.7,377.4 L170.2,377.5 L170.8,377.3 L171.3,377.2 L171.8,377.2 L172.3,377.4 L172.9,377.5 L173.4,377.2 L173.9,377.1 L174.4,377.1 L175.0,377.1 L175.5,377.2 L176.0,377.2 L176.5,377.1 L177.1,377.1 L177.6,377.2 L178.1,376.9 L178.6,376.9 L179.2,377.2 L179.7,376.9 L180.2,377.0 L180.7,376.8 L181.3,377.0 L181.8,376.9 L182.3,376.7 L182.8,376.9 L183.4,376.6 L183.9,376.9 L184.4,376.9 L184.9,376.9 L185.5,376.8 L186.0,376.8 L186.5,376.7 L187.0,376.7 L187.6,376.7 L188.1,376.8 L188.6,376.4 L189.1,376.5 L189.7,376.5 L190.2,376.4 L190.7,376.4 L191.2,376.6 L191.8,376.6 L192.3,376.5 L192.8,376.4 L193.3,376.2 L193.9,376.3 L194.4,376.4 L194.9,376.1 L195.4,376.2 L196.0,376.5 L196.5,376.0 L197.0,376.0 L197.5,376.0 L198.1,376.2 L198.6,375.8 L199.1,376.1 L199.6,376.2 L200.2,375.8 L200.7,375.9 L201.2,375.8 L201.7,375.8 L202.3,375.9 L202.8,375.8 L203.3,375.7 L203.8,375.8 L204.4,375.9 L204.9,375.7 L205.4,375.8 L205.9,375.6 L206.5,375.6 L207.0,375.6 L207.5,375.5 L208.0,375.4 L208.6,375.4 L209.1,375.2 L209.6,375.5 L210.1,375.3 L210.7,375.2 L211.2,375.2 L211.7,374.9 L212.2,375.3 L212.8,375.1 L213.3,375.0" fill="none" stroke="#ff00ff" stroke-width="1.1" stroke-linejoin="round"/>
<path d="M237.00,497.35 L238.83,498.28 L240.67,503.42 L242.50,498.86 L244.34,496.61 L246.17,499.40 L248.00,496.24 L249.84,496.00 L251.67,495.63 L253.51,495.45 L255.34,493.26 L257.17,490.65 L259.01,495.55 L260.84,489.82 L262.68,491.22 L264.51,490.03 L266.34,493.43 L268.18,489.55 L270.01,485.46 L271.85,491.37 L273.68,493.03 L275.51,492.30 L277.35,487.04 L279.18,481.50 L281.02,484.59 L282.85,483.06 L284.68,486.96 L286.52,483.51 L288.35,487.65 L290.19,485.26 L292.02,487.38 L293.85,488.10 L295.69,486.36 L297.52,487.91 L299.36,483.35 L301.19,486.20 L303.02,485.67 L304.86,487.56 L306.69,483.49 L308.53,488.57 L310.36,485.01 L312.19,487.42 L314.03,488.74 L315.86,487.41 L317.70,488.04 L319.53,486.35 L321.36,486.49 L323.20,484.65 L325.03,483.82 L326.87,485.46 L328.70,484.98 L330.53,483.97 L332.37,485.88 L334.20,482.49 L336.04,481.94 L337.87,483.37 L339.70,477.56 L341.54,481.13 L343.37,483.56 L345.21,483.99 L347.04,483.46 L348.87,483.76 L350.71,479.21 L352.54,483.50 L354.38,481.54 L356.21,482.30 L358.04,477.89 L359.88,483.81 L361.71,480.73 L363.55,479.73 L365.38,478.22 L367.21,477.73 L369.05,479.33 L370.88,476.12 L372.72,477.72 L374.55,472.09 L376.38,482.12 L378.22,476.55 L380.05,480.68 L381.89,479.92 L383.72,472.68 L385.55,473.17 L387.39,482.24 L389.22,477.94 L391.06,477.41 L392.89,482.56 L394.72,477.11 L396.56,475.86 L398.39,476.18 L400.23,481.70 L402.06,473.65 L403.89,475.60 L405.73,476.12 L407.56,477.64 L409.40,473.64 L411.23,472.85 L413.06,476.18 L414.90,474.46 L416.73,472.32 L418.57,479.17 L420.40,473.62" fill="none" stroke="#000000" stroke-width="1.1" stroke-linejoin="round"/>
<path d="M237.00,465.62 L238.83,470.69 L240.67,471.07 L242.50,476.49 L244.34,469.60 L246.17,470.27 L248.00,470.69 L249.84,468.39 L251.67,467.99 L253.51,471.66 L255.34,471.08 L257.17,469.90 L259.01,466.79 L260.84,467.00 L262.68,471.64 L264.51,471.03 L266.34,466.16 L268.18,463.90 L270.01,467.87 L271.85,469.41 L273.68,464.74 L275.51,468.20 L277.35,465.43 L279.18,463.19 L281.02,465.41 L282.85,466.71 L284.68,464.90 L286.52,468.28 L288.35,466.97 L290.19,467.85 L292.02,466.78 L293.85,467.37 L295.69,466.48 L297.52,466.85 L299.36,465.52 L301.19,465.46 L303.02,464.73 L304.86,461.78 L306.69,469.19 L308.53,461.80 L310.36,465.59 L312.19,471.71 L314.03,464.91 L315.86,463.98 L317.70,461.23 L319.53,466.41 L321.36,462.89 L323.20,462.89 L325.03,467.24 L326.87,465.71 L328.70,460.89 L330.53,466.91 L332.37,459.39 L334.20,460.68 L336.04,460.90 L337.87,461.47 L339.70,458.57 L341.54,463.68 L343.37,461.77 L345.21,460.29 L347.04,465.18 L348.87,457.54 L350.71,462.66 L352.54,460.56 L354.38,454.62 L356.21,461.99 L358.04,460.97 L359.88,455.37 L361.71,461.86 L363.55,459.95 L365.38,457.27 L367.21,457.30 L369.05,456.82 L370.88,457.26 L372.72,454.64 L374.55,455.36 L376.38,456.31 L378.22,459.44 L380.05,459.39 L381.89,462.32 L383.72,455.56 L385.55,461.72 L387.39,454.56 L389.22,451.83 L391.06,459.01 L392.89,457.79 L394.72,457.00 L396.56,453.41 L398.39,457.48 L400.23,455.35 L402.06,456.10 L403.89,455.27 L405.73,451.21 L407.56,456.84 L409.40,454.07 L411.23,453.43 L413.06,451.80 L414.90,457.10 L416.73,450.89 L418.57,452.50 L420.40,451.25" fill="none" stroke="#0000ff" stroke-width="1.1" stroke-linejoin="round"/>
<path d="M237.00,444.61 L238.83,447.30 L240.67,444.69 L242.50,449.40 L244.34,442.87 L246.17,448.46 L248.00,444.27 L249.84,444.34 L251.67,445.84 L253.51,436.18 L255.34,444.79 L257.17,442.06 L259.01,440.46 L260.84,446.37 L262.68,439.83 L264.51,443.57 L266.34,440.68 L268.18,445.60 L270.01,445.89 L271.85,440.17 L273.68,441.98 L275.51,442.91 L277.35,441.63 L279.18,441.92 L281.02,446.21 L282.85,448.92 L284.68,447.56 L286.52,447.83 L288.35,448.93 L290.19,444.92 L292.02,444.61 L293.85,443.23 L295.69,442.46 L297.52,443.86 L299.36,443.40 L301.19,442.44 L303.02,445.04 L304.86,444.19 L306.69,442.15 L308.53,443.84 L310.36,443.45 L312.19,447.37 L314.03,438.57 L315.86,441.17 L317.70,442.85 L319.53,443.48 L321.36,442.28 L323.20,436.26 L325.03,450.03 L326.87,440.62 L328.70,441.39 L330.53,446.92 L332.37,443.90 L334.20,435.05 L336.04,437.38 L337.87,439.56 L339.70,438.51 L341.54,440.24 L343.37,437.77 L345.21,437.75 L347.04,434.46 L348.87,435.71 L350.71,436.58 L352.54,434.38 L354.38,434.43 L356.21,435.03 L358.04,439.25 L359.88,432.46 L361.71,437.81 L363.55,437.15 L365.38,434.59 L367.21,432.88 L369.05,430.47 L370.88,438.25 L372.72,430.05 L374.55,429.50 L376.38,434.73 L378.22,433.94 L380.05,434.76 L381.89,434.71 L383.72,436.46 L385.55,437.23 L387.39,433.30 L389.22,432.00 L391.06,427.86 L392.89,434.96 L394.72,437.62 L396.56,431.77 L398.39,433.21 L400.23,430.98 L402.06,432.78 L403.89,434.60 L405.73,432.76 L407.56,428.56 L409.40,429.54 L411.23,432.32 L413.06,427.24 L414.90,432.78 L416.73,430.07 L418.57,422.70 L420.40,431.42" fill="none" stroke="#ff0000" stroke-width="1.1" stroke-linejoin="round"/>
<path d="M237.00,438.70 L238.83,434.82 L240.67,436.73 L242.50,435.34 L244.34,432.93 L246.17,434.88 L248.00,432.66 L249.84,433.78 L251.67,432.07 L253.51,438.40 L255.34,437.61 L257.17,438.95 L259.01,443.36 L260.84,436.60 L262.68,433.77 L264.51,435.43 L266.34,436.04 L268.18,431.00 L270.01,435.07 L271.85,436.82 L273.68,439.39 L275.51,433.58 L277.35,433.93 L279.18,438.89 L281.02,436.22 L282.85,434.99 L284.68,439.53 L286.52,435.80 L288.35,431.26 L290.19,438.70 L292.02,433.07 L293.85,429.23 L295.69,435.40 L297.52,434.71 L299.36,432.74 L301.19,431.73 L303.02,431.77 L304.86,436.40 L306.69,434.23 L308.53,431.76 L310.36,432.58 L312.19,428.65 L314.03,432.18 L315.86,432.10 L317.70,426.22 L319.53,430.95 L321.36,433.04 L323.20,430.34 L325.03,430.72 L326.87,428.11 L328.70,428.56 L330.53,430.39 L332.37,430.35 L334.20,430.54 L336.04,425.56 L337.87,423.68 L339.70,428.79 L341.54,427.03 L343.37,427.37 L345.21,429.42 L347.04,429.27 L348.87,429.03 L350.71,432.59 L352.54,429.48 L354.38,426.26 L356.21,424.94 L358.04,427.70 L359.88,428.00 L361.71,425.28 L363.55,421.54 L365.38,429.03 L367.21,428.38 L369.05,427.26 L370.88,424.49 L372.72,427.82 L374.55,424.19 L376.38,426.96 L378.22,423.43 L380.05,420.31 L381.89,425.45 L383.72,422.02 L385.55,426.75 L387.39,425.30 L389.22,414.70 L391.06,420.61 L392.89,421.65 L394.72,427.39 L396.56,419.57 L398.39,420.14 L400.23,421.52 L402.06,425.24 L403.89,418.02 L405.73,405.32 L407.56,418.60 L409.40,416.36 L411.23,421.31 L413.06,411.36 L414.90,421.04 L416.73,422.11 L418.57,405.95 L420.40,421.32" fill="none" stroke="#ff00ff" stroke-width="1.1" stroke-linejoin="round"/>
<rect x="27.50" y="20.40" width="183.70" height="153.40" fill="none" stroke="#222" stroke-width="1.5"/>
<path d="M27.50,173.80v2.9 M53.74,173.80v2.9 M79.99,173.80v2.9 M106.23,173.80v2.9 M132.47,173.80v2.9 M158.71,173.80v2.9 M184.96,173.80v2.9 M211.20,173.80v2.9 M40.62,173.80v1.5 M66.86,173.80v1.5 M93.11,173.80v1.5 M119.35,173.80v1.5 M145.59,173.80v1.5 M171.84,173.80v1.5 M198.08,173.80v1.5 M27.50,173.80h-2.9 M27.50,143.12h-2.9 M27.50,112.44h-2.9 M27.50,81.76h-2.9 M27.50,51.08h-2.9 M27.50,20.40h-2.9 M27.50,158.46h-1.5 M27.50,127.78h-1.5 M27.50,97.10h-1.5 M27.50,66.42h-1.5 M27.50,35.74h-1.5" stroke="#111" stroke-width="1.1" fill="none"/>
<text x="27.50" y="183.00" font-size="7.1" text-anchor="middle" font-weight="normal" textLength="8.8" lengthAdjust="spacingAndGlyphs" fill="#111" stroke="#111" stroke-width="0.2">200</text>
<text x="53.74" y="183.00" font-size="7.1" text-anchor="middle" font-weight="normal" textLength="8.8" lengthAdjust="spacingAndGlyphs" fill="#111" stroke="#111" stroke-width="0.2">300</text>
<text x="79.99" y="183.00" font-size="7.1" text-anchor="middle" font-weight="normal" textLength="8.8" lengthAdjust="spacingAndGlyphs" fill="#111" stroke="#111" stroke-width="0.2">400</text>
<text x="106.23" y="183.00" font-size="7.1" text-anchor="middle" font-weight="normal" textLength="8.8" lengthAdjust="spacingAndGlyphs" fill="#111" stroke="#111" stroke-width="0.2">500</text>
<text x="132.47" y="183.00" font-size="7.1" text-anchor="middle" font-weight="normal" textLength="8.8" lengthAdjust="spacingAndGlyphs" fill="#111" stroke="#111" stroke-width="0.2">600</text>
<text x="158.71" y="183.00" font-size="7.1" text-anchor="middle" font-weight="normal" textLength="8.8" lengthAdjust="spacingAndGlyphs" fill="#111" stroke="#111" stroke-width="0.2">700</text>
<text x="184.96" y="183.00" font-size="7.1" text-anchor="middle" font-weight="normal" textLength="8.8" lengthAdjust="spacingAndGlyphs" fill="#111" stroke="#111" stroke-width="0.2">800</text>
<text x="211.20" y="183.00" font-size="7.1" text-anchor="middle" font-weight="normal" textLength="8.8" lengthAdjust="spacingAndGlyphs" fill="#111" stroke="#111" stroke-width="0.2">900</text>
<text x="24.50" y="176.10" font-size="7.1" text-anchor="end" font-weight="normal" textLength="3.0" lengthAdjust="spacingAndGlyphs" fill="#111" stroke="#111" stroke-width="0.2">0</text>
<text x="24.50" y="145.42" font-size="7.1" text-anchor="end" font-weight="normal" textLength="5.8" lengthAdjust="spacingAndGlyphs" fill="#111" stroke="#111" stroke-width="0.2">20</text>
<text x="24.50" y="114.74" font-size="7.1" text-anchor="end" font-weight="normal" textLength="5.8" lengthAdjust="spacingAndGlyphs" fill="#111" stroke="#111" stroke-width="0.2">40</text>
<text x="24.50" y="84.06" font-size="7.1" text-anchor="end" font-weight="normal" textLength="5.8" lengthAdjust="spacingAndGlyphs" fill="#111" stroke="#111" stroke-width="0.2">60</text>
<text x="24.50" y="53.38" font-size="7.1" text-anchor="end" font-weight="normal" textLength="5.8" lengthAdjust="spacingAndGlyphs" fill="#111" stroke="#111" stroke-width="0.2">80</text>
<text x="24.50" y="22.70" font-size="7.1" text-anchor="end" font-weight="normal" textLength="8.2" lengthAdjust="spacingAndGlyphs" fill="#111" stroke="#111" stroke-width="0.2">100</text>
<rect x="235.50" y="20.70" width="183.20" height="152.90" fill="none" stroke="#222" stroke-width="1.5"/>
<path d="M235.50,173.60v2.9 M261.67,173.60v2.9 M287.84,173.60v2.9 M314.01,173.60v2.9 M340.19,173.60v2.9 M366.36,173.60v2.9 M392.53,173.60v2.9 M418.70,173.60v2.9 M248.59,173.60v1.5 M274.76,173.60v1.5 M300.93,173.60v1.5 M327.10,173.60v1.5 M353.27,173.60v1.5 M379.44,173.60v1.5 M405.61,173.60v1.5 M235.50,173.60h-2.9 M235.50,143.02h-2.9 M235.50,112.44h-2.9 M235.50,81.86h-2.9 M235.50,51.28h-2.9 M235.50,20.70h-2.9 M235.50,158.31h-1.5 M235.50,127.73h-1.5 M235.50,97.15h-1.5 M235.50,66.57h-1.5 M235.50,35.99h-1.5" stroke="#111" stroke-width="1.1" fill="none"/>
<text x="235.50" y="182.80" font-size="7.1" text-anchor="middle" font-weight="normal" textLength="8.8" lengthAdjust="spacingAndGlyphs" fill="#111" stroke="#111" stroke-width="0.2">200</text>
<text x="261.67" y="182.80" font-size="7.1" text-anchor="middle" font-weight="normal" textLength="8.8" lengthAdjust="spacingAndGlyphs" fill="#111" stroke="#111" stroke-width="0.2">300</text>
<text x="287.84" y="182.80" font-size="7.1" text-anchor="middle" font-weight="normal" textLength="8.8" lengthAdjust="spacingAndGlyphs" fill="#111" stroke="#111" stroke-width="0.2">400</text>
<text x="314.01" y="182.80" font-size="7.1" text-anchor="middle" font-weight="normal" textLength="8.8" lengthAdjust="spacingAndGlyphs" fill="#111" stroke="#111" stroke-width="0.2">500</text>
<text x="340.19" y="182.80" font-size="7.1" text-anchor="middle" font-weight="normal" textLength="8.8" lengthAdjust="spacingAndGlyphs" fill="#111" stroke="#111" stroke-width="0.2">600</text>
<text x="366.36" y="182.80" font-size="7.1" text-anchor="middle" font-weight="normal" textLength="8.8" lengthAdjust="spacingAndGlyphs" fill="#111" stroke="#111" stroke-width="0.2">700</text>
<text x="392.53" y="182.80" font-size="7.1" text-anchor="middle" font-weight="normal" textLength="8.8" lengthAdjust="spacingAndGlyphs" fill="#111" stroke="#111" stroke-width="0.2">800</text>
<text x="418.70" y="182.80" font-size="7.1" text-anchor="middle" font-weight="normal" textLength="8.8" lengthAdjust="spacingAndGlyphs" fill="#111" stroke="#111" stroke-width="0.2">900</text>
<text x="232.50" y="175.90" font-size="7.1" text-anchor="end" font-weight="normal" textLength="3.0" lengthAdjust="spacingAndGlyphs" fill="#111" stroke="#111" stroke-width="0.2">0</text>
<text x="232.50" y="145.32" font-size="7.1" text-anchor="end" font-weight="normal" textLength="5.8" lengthAdjust="spacingAndGlyphs" fill="#111" stroke="#111" stroke-width="0.2">20</text>
<text x="232.50" y="114.74" font-size="7.1" text-anchor="end" font-weight="normal" textLength="5.8" lengthAdjust="spacingAndGlyphs" fill="#111" stroke="#111" stroke-width="0.2">40</text>
<text x="232.50" y="84.16" font-size="7.1" text-anchor="end" font-weight="normal" textLength="5.8" lengthAdjust="spacingAndGlyphs" fill="#111" stroke="#111" stroke-width="0.2">60</text>
<text x="232.50" y="53.58" font-size="7.1" text-anchor="end" font-weight="normal" textLength="5.8" lengthAdjust="spacingAndGlyphs" fill="#111" stroke="#111" stroke-width="0.2">80</text>
<text x="232.50" y="23.00" font-size="7.1" text-anchor="end" font-weight="normal" textLength="8.2" lengthAdjust="spacingAndGlyphs" fill="#111" stroke="#111" stroke-width="0.2">100</text>
<rect x="27.50" y="195.90" width="183.70" height="153.50" fill="none" stroke="#222" stroke-width="1.5"/>
<path d="M27.50,349.40v2.9 M53.74,349.40v2.9 M79.99,349.40v2.9 M106.23,349.40v2.9 M132.47,349.40v2.9 M158.71,349.40v2.9 M184.96,349.40v2.9 M211.20,349.40v2.9 M40.62,349.40v1.5 M66.86,349.40v1.5 M93.11,349.40v1.5 M119.35,349.40v1.5 M145.59,349.40v1.5 M171.84,349.40v1.5 M198.08,349.40v1.5 M27.50,349.40h-2.9 M27.50,318.70h-2.9 M27.50,288.00h-2.9 M27.50,257.30h-2.9 M27.50,226.60h-2.9 M27.50,195.90h-2.9 M27.50,334.05h-1.5 M27.50,303.35h-1.5 M27.50,272.65h-1.5 M27.50,241.95h-1.5 M27.50,211.25h-1.5" stroke="#111" stroke-width="1.1" fill="none"/>
<text x="27.50" y="358.60" font-size="7.1" text-anchor="middle" font-weight="normal" textLength="8.8" lengthAdjust="spacingAndGlyphs" fill="#111" stroke="#111" stroke-width="0.2">200</text>
<text x="53.74" y="358.60" font-size="7.1" text-anchor="middle" font-weight="normal" textLength="8.8" lengthAdjust="spacingAndGlyphs" fill="#111" stroke="#111" stroke-width="0.2">300</text>
<text x="79.99" y="358.60" font-size="7.1" text-anchor="middle" font-weight="normal" textLength="8.8" lengthAdjust="spacingAndGlyphs" fill="#111" stroke="#111" stroke-width="0.2">400</text>
<text x="106.23" y="358.60" font-size="7.1" text-anchor="middle" font-weight="normal" textLength="8.8" lengthAdjust="spacingAndGlyphs" fill="#111" stroke="#111" stroke-width="0.2">500</text>
<text x="132.47" y="358.60" font-size="7.1" text-anchor="middle" font-weight="normal" textLength="8.8" lengthAdjust="spacingAndGlyphs" fill="#111" stroke="#111" stroke-width="0.2">600</text>
<text x="158.71" y="358.60" font-size="7.1" text-anchor="middle" font-weight="normal" textLength="8.8" lengthAdjust="spacingAndGlyphs" fill="#111" stroke="#111" stroke-width="0.2">700</text>
<text x="184.96" y="358.60" font-size="7.1" text-anchor="middle" font-weight="normal" textLength="8.8" lengthAdjust="spacingAndGlyphs" fill="#111" stroke="#111" stroke-width="0.2">800</text>
<text x="211.20" y="358.60" font-size="7.1" text-anchor="middle" font-weight="normal" textLength="8.8" lengthAdjust="spacingAndGlyphs" fill="#111" stroke="#111" stroke-width="0.2">900</text>
<text x="24.50" y="351.70" font-size="7.1" text-anchor="end" font-weight="normal" textLength="3.0" lengthAdjust="spacingAndGlyphs" fill="#111" stroke="#111" stroke-width="0.2">0</text>
<text x="24.50" y="321.00" font-size="7.1" text-anchor="end" font-weight="normal" textLength="5.8" lengthAdjust="spacingAndGlyphs" fill="#111" stroke="#111" stroke-width="0.2">20</text>
<text x="24.50" y="290.30" font-size="7.1" text-anchor="end" font-weight="normal" textLength="5.8" lengthAdjust="spacingAndGlyphs" fill="#111" stroke="#111" stroke-width="0.2">40</text>
<text x="24.50" y="259.60" font-size="7.1" text-anchor="end" font-weight="normal" textLength="5.8" lengthAdjust="spacingAndGlyphs" fill="#111" stroke="#111" stroke-width="0.2">60</text>
<text x="24.50" y="228.90" font-size="7.1" text-anchor="end" font-weight="normal" textLength="5.8" lengthAdjust="spacingAndGlyphs" fill="#111" stroke="#111" stroke-width="0.2">80</text>
<text x="24.50" y="198.20" font-size="7.1" text-anchor="end" font-weight="normal" textLength="8.2" lengthAdjust="spacingAndGlyphs" fill="#111" stroke="#111" stroke-width="0.2">100</text>
<rect x="235.40" y="196.50" width="183.50" height="153.20" fill="none" stroke="#222" stroke-width="1.5"/>
<path d="M235.40,349.70v2.9 M261.61,349.70v2.9 M287.83,349.70v2.9 M314.04,349.70v2.9 M340.26,349.70v2.9 M366.47,349.70v2.9 M392.69,349.70v2.9 M418.90,349.70v2.9 M248.51,349.70v1.5 M274.72,349.70v1.5 M300.94,349.70v1.5 M327.15,349.70v1.5 M353.36,349.70v1.5 M379.58,349.70v1.5 M405.79,349.70v1.5 M235.40,349.70h-2.9 M235.40,319.06h-2.9 M235.40,288.42h-2.9 M235.40,257.78h-2.9 M235.40,227.14h-2.9 M235.40,196.50h-2.9 M235.40,334.38h-1.5 M235.40,303.74h-1.5 M235.40,273.10h-1.5 M235.40,242.46h-1.5 M235.40,211.82h-1.5" stroke="#111" stroke-width="1.1" fill="none"/>
<text x="235.40" y="358.90" font-size="7.1" text-anchor="middle" font-weight="normal" textLength="8.8" lengthAdjust="spacingAndGlyphs" fill="#111" stroke="#111" stroke-width="0.2">200</text>
<text x="261.61" y="358.90" font-size="7.1" text-anchor="middle" font-weight="normal" textLength="8.8" lengthAdjust="spacingAndGlyphs" fill="#111" stroke="#111" stroke-width="0.2">300</text>
<text x="287.83" y="358.90" font-size="7.1" text-anchor="middle" font-weight="normal" textLength="8.8" lengthAdjust="spacingAndGlyphs" fill="#111" stroke="#111" stroke-width="0.2">400</text>
<text x="314.04" y="358.90" font-size="7.1" text-anchor="middle" font-weight="normal" textLength="8.8" lengthAdjust="spacingAndGlyphs" fill="#111" stroke="#111" stroke-width="0.2">500</text>
<text x="340.26" y="358.90" font-size="7.1" text-anchor="middle" font-weight="normal" textLength="8.8" lengthAdjust="spacingAndGlyphs" fill="#111" stroke="#111" stroke-width="0.2">600</text>
<text x="366.47" y="358.90" font-size="7.1" text-anchor="middle" font-weight="normal" textLength="8.8" lengthAdjust="spacingAndGlyphs" fill="#111" stroke="#111" stroke-width="0.2">700</text>
<text x="392.69" y="358.90" font-size="7.1" text-anchor="middle" font-weight="normal" textLength="8.8" lengthAdjust="spacingAndGlyphs" fill="#111" stroke="#111" stroke-width="0.2">800</text>
<text x="418.90" y="358.90" font-size="7.1" text-anchor="middle" font-weight="normal" textLength="8.8" lengthAdjust="spacingAndGlyphs" fill="#111" stroke="#111" stroke-width="0.2">900</text>
<text x="232.40" y="352.00" font-size="7.1" text-anchor="end" font-weight="normal" textLength="3.0" lengthAdjust="spacingAndGlyphs" fill="#111" stroke="#111" stroke-width="0.2">0</text>
<text x="232.40" y="321.36" font-size="7.1" text-anchor="end" font-weight="normal" textLength="5.8" lengthAdjust="spacingAndGlyphs" fill="#111" stroke="#111" stroke-width="0.2">20</text>
<text x="232.40" y="290.72" font-size="7.1" text-anchor="end" font-weight="normal" textLength="5.8" lengthAdjust="spacingAndGlyphs" fill="#111" stroke="#111" stroke-width="0.2">40</text>
<text x="232.40" y="260.08" font-size="7.1" text-anchor="end" font-weight="normal" textLength="5.8" lengthAdjust="spacingAndGlyphs" fill="#111" stroke="#111" stroke-width="0.2">60</text>
<text x="232.40" y="229.44" font-size="7.1" text-anchor="end" font-weight="normal" textLength="5.8" lengthAdjust="spacingAndGlyphs" fill="#111" stroke="#111" stroke-width="0.2">80</text>
<text x="232.40" y="198.80" font-size="7.1" text-anchor="end" font-weight="normal" textLength="8.2" lengthAdjust="spacingAndGlyphs" fill="#111" stroke="#111" stroke-width="0.2">100</text>
<rect x="29.90" y="373.20" width="183.40" height="154.80" fill="none" stroke="#222" stroke-width="1.5"/>
<path d="M29.90,528.00v2.9 M56.10,528.00v2.9 M82.30,528.00v2.9 M108.50,528.00v2.9 M134.70,528.00v2.9 M160.90,528.00v2.9 M187.10,528.00v2.9 M213.30,528.00v2.9 M43.00,528.00v1.5 M69.20,528.00v1.5 M95.40,528.00v1.5 M121.60,528.00v1.5 M147.80,528.00v1.5 M174.00,528.00v1.5 M200.20,528.00v1.5 M29.90,528.00h-2.9 M29.90,497.04h-2.9 M29.90,466.08h-2.9 M29.90,435.12h-2.9 M29.90,404.16h-2.9 M29.90,373.20h-2.9 M29.90,512.52h-1.5 M29.90,481.56h-1.5 M29.90,450.60h-1.5 M29.90,419.64h-1.5 M29.90,388.68h-1.5" stroke="#111" stroke-width="1.1" fill="none"/>
<text x="29.90" y="537.20" font-size="7.1" text-anchor="middle" font-weight="normal" textLength="8.8" lengthAdjust="spacingAndGlyphs" fill="#111" stroke="#111" stroke-width="0.2">200</text>
<text x="56.10" y="537.20" font-size="7.1" text-anchor="middle" font-weight="normal" textLength="8.8" lengthAdjust="spacingAndGlyphs" fill="#111" stroke="#111" stroke-width="0.2">300</text>
<text x="82.30" y="537.20" font-size="7.1" text-anchor="middle" font-weight="normal" textLength="8.8" lengthAdjust="spacingAndGlyphs" fill="#111" stroke="#111" stroke-width="0.2">400</text>
<text x="108.50" y="537.20" font-size="7.1" text-anchor="middle" font-weight="normal" textLength="8.8" lengthAdjust="spacingAndGlyphs" fill="#111" stroke="#111" stroke-width="0.2">500</text>
<text x="134.70" y="537.20" font-size="7.1" text-anchor="middle" font-weight="normal" textLength="8.8" lengthAdjust="spacingAndGlyphs" fill="#111" stroke="#111" stroke-width="0.2">600</text>
<text x="160.90" y="537.20" font-size="7.1" text-anchor="middle" font-weight="normal" textLength="8.8" lengthAdjust="spacingAndGlyphs" fill="#111" stroke="#111" stroke-width="0.2">700</text>
<text x="187.10" y="537.20" font-size="7.1" text-anchor="middle" font-weight="normal" textLength="8.8" lengthAdjust="spacingAndGlyphs" fill="#111" stroke="#111" stroke-width="0.2">800</text>
<text x="213.30" y="537.20" font-size="7.1" text-anchor="middle" font-weight="normal" textLength="8.8" lengthAdjust="spacingAndGlyphs" fill="#111" stroke="#111" stroke-width="0.2">900</text>
<text x="26.90" y="530.30" font-size="7.1" text-anchor="end" font-weight="normal" textLength="3.0" lengthAdjust="spacingAndGlyphs" fill="#111" stroke="#111" stroke-width="0.2">0</text>
<text x="26.90" y="499.34" font-size="7.1" text-anchor="end" font-weight="normal" textLength="5.8" lengthAdjust="spacingAndGlyphs" fill="#111" stroke="#111" stroke-width="0.2">20</text>
<text x="26.90" y="468.38" font-size="7.1" text-anchor="end" font-weight="normal" textLength="5.8" lengthAdjust="spacingAndGlyphs" fill="#111" stroke="#111" stroke-width="0.2">40</text>
<text x="26.90" y="437.42" font-size="7.1" text-anchor="end" font-weight="normal" textLength="5.8" lengthAdjust="spacingAndGlyphs" fill="#111" stroke="#111" stroke-width="0.2">60</text>
<text x="26.90" y="406.46" font-size="7.1" text-anchor="end" font-weight="normal" textLength="5.8" lengthAdjust="spacingAndGlyphs" fill="#111" stroke="#111" stroke-width="0.2">80</text>
<text x="26.90" y="375.50" font-size="7.1" text-anchor="end" font-weight="normal" textLength="8.2" lengthAdjust="spacingAndGlyphs" fill="#111" stroke="#111" stroke-width="0.2">100</text>
<rect x="237.00" y="373.00" width="183.40" height="153.30" fill="none" stroke="#222" stroke-width="1.5"/>
<path d="M237.00,526.30v2.9 M255.34,526.30v2.9 M273.68,526.30v2.9 M292.02,526.30v2.9 M310.36,526.30v2.9 M328.70,526.30v2.9 M347.04,526.30v2.9 M365.38,526.30v2.9 M383.72,526.30v2.9 M402.06,526.30v2.9 M420.40,526.30v2.9 M246.17,526.30v1.5 M264.51,526.30v1.5 M282.85,526.30v1.5 M301.19,526.30v1.5 M319.53,526.30v1.5 M337.87,526.30v1.5 M356.21,526.30v1.5 M374.55,526.30v1.5 M392.89,526.30v1.5 M411.23,526.30v1.5 M237.00,526.30h-2.9 M237.00,513.52h-2.9 M237.00,500.75h-2.9 M237.00,487.97h-2.9 M237.00,475.20h-2.9 M237.00,462.42h-2.9 M237.00,449.65h-2.9 M237.00,436.88h-2.9 M237.00,424.10h-2.9 M237.00,411.32h-2.9 M237.00,398.55h-2.9 M237.00,385.77h-2.9 M237.00,373.00h-2.9 M237.00,519.91h-1.5 M237.00,507.14h-1.5 M237.00,494.36h-1.5 M237.00,481.59h-1.5 M237.00,468.81h-1.5 M237.00,456.04h-1.5 M237.00,443.26h-1.5 M237.00,430.49h-1.5 M237.00,417.71h-1.5 M237.00,404.94h-1.5 M237.00,392.16h-1.5 M237.00,379.39h-1.5" stroke="#111" stroke-width="1.1" fill="none"/>
<text x="237.00" y="535.50" font-size="7.1" text-anchor="middle" font-weight="normal" textLength="8.8" lengthAdjust="spacingAndGlyphs" fill="#111" stroke="#111" stroke-width="0.2">750</text>
<text x="255.34" y="535.50" font-size="7.1" text-anchor="middle" font-weight="normal" textLength="8.8" lengthAdjust="spacingAndGlyphs" fill="#111" stroke="#111" stroke-width="0.2">760</text>
<text x="273.68" y="535.50" font-size="7.1" text-anchor="middle" font-weight="normal" textLength="8.8" lengthAdjust="spacingAndGlyphs" fill="#111" stroke="#111" stroke-width="0.2">770</text>
<text x="292.02" y="535.50" font-size="7.1" text-anchor="middle" font-weight="normal" textLength="8.8" lengthAdjust="spacingAndGlyphs" fill="#111" stroke="#111" stroke-width="0.2">780</text>
<text x="310.36" y="535.50" font-size="7.1" text-anchor="middle" font-weight="normal" textLength="8.8" lengthAdjust="spacingAndGlyphs" fill="#111" stroke="#111" stroke-width="0.2">790</text>
<text x="328.70" y="535.50" font-size="7.1" text-anchor="middle" font-weight="normal" textLength="8.8" lengthAdjust="spacingAndGlyphs" fill="#111" stroke="#111" stroke-width="0.2">800</text>
<text x="347.04" y="535.50" font-size="7.1" text-anchor="middle" font-weight="normal" textLength="8.8" lengthAdjust="spacingAndGlyphs" fill="#111" stroke="#111" stroke-width="0.2">810</text>
<text x="365.38" y="535.50" font-size="7.1" text-anchor="middle" font-weight="normal" textLength="8.8" lengthAdjust="spacingAndGlyphs" fill="#111" stroke="#111" stroke-width="0.2">820</text>
<text x="383.72" y="535.50" font-size="7.1" text-anchor="middle" font-weight="normal" textLength="8.8" lengthAdjust="spacingAndGlyphs" fill="#111" stroke="#111" stroke-width="0.2">830</text>
<text x="402.06" y="535.50" font-size="7.1" text-anchor="middle" font-weight="normal" textLength="8.8" lengthAdjust="spacingAndGlyphs" fill="#111" stroke="#111" stroke-width="0.2">840</text>
<text x="420.40" y="535.50" font-size="7.1" text-anchor="middle" font-weight="normal" textLength="8.8" lengthAdjust="spacingAndGlyphs" fill="#111" stroke="#111" stroke-width="0.2">850</text>
<text x="232.40" y="528.60" font-size="7.1" text-anchor="end" font-weight="normal" textLength="10.2" lengthAdjust="spacingAndGlyphs" fill="#111" stroke="#111" stroke-width="0.2">94.0</text>
<text x="232.40" y="515.82" font-size="7.1" text-anchor="end" font-weight="normal" textLength="10.2" lengthAdjust="spacingAndGlyphs" fill="#111" stroke="#111" stroke-width="0.2">94.5</text>
<text x="232.40" y="503.05" font-size="7.1" text-anchor="end" font-weight="normal" textLength="10.2" lengthAdjust="spacingAndGlyphs" fill="#111" stroke="#111" stroke-width="0.2">95.0</text>
<text x="232.40" y="490.27" font-size="7.1" text-anchor="end" font-weight="normal" textLength="10.2" lengthAdjust="spacingAndGlyphs" fill="#111" stroke="#111" stroke-width="0.2">95.5</text>
<text x="232.40" y="477.50" font-size="7.1" text-anchor="end" font-weight="normal" textLength="10.2" lengthAdjust="spacingAndGlyphs" fill="#111" stroke="#111" stroke-width="0.2">96.0</text>
<text x="232.40" y="464.72" font-size="7.1" text-anchor="end" font-weight="normal" textLength="10.2" lengthAdjust="spacingAndGlyphs" fill="#111" stroke="#111" stroke-width="0.2">96.5</text>
<text x="232.40" y="451.95" font-size="7.1" text-anchor="end" font-weight="normal" textLength="10.2" lengthAdjust="spacingAndGlyphs" fill="#111" stroke="#111" stroke-width="0.2">97.0</text>
<text x="232.40" y="439.18" font-size="7.1" text-anchor="end" font-weight="normal" textLength="10.2" lengthAdjust="spacingAndGlyphs" fill="#111" stroke="#111" stroke-width="0.2">97.5</text>
<text x="232.40" y="426.40" font-size="7.1" text-anchor="end" font-weight="normal" textLength="10.2" lengthAdjust="spacingAndGlyphs" fill="#111" stroke="#111" stroke-width="0.2">98.0</text>
<text x="232.40" y="413.62" font-size="7.1" text-anchor="end" font-weight="normal" textLength="10.2" lengthAdjust="spacingAndGlyphs" fill="#111" stroke="#111" stroke-width="0.2">98.5</text>
<text x="232.40" y="400.85" font-size="7.1" text-anchor="end" font-weight="normal" textLength="10.2" lengthAdjust="spacingAndGlyphs" fill="#111" stroke="#111" stroke-width="0.2">99.0</text>
<text x="232.40" y="388.07" font-size="7.1" text-anchor="end" font-weight="normal" textLength="10.2" lengthAdjust="spacingAndGlyphs" fill="#111" stroke="#111" stroke-width="0.2">99.5</text>
<text x="232.40" y="375.30" font-size="7.1" text-anchor="end" font-weight="normal" textLength="12.8" lengthAdjust="spacingAndGlyphs" fill="#111" stroke="#111" stroke-width="0.2">100.0</text>
<text x="5.00" y="12.40" font-size="12.5" text-anchor="start" font-weight="bold" >(a)</text>
<text x="214.50" y="13.20" font-size="12.5" text-anchor="start" font-weight="bold" >(b)</text>
<text x="5.00" y="188.00" font-size="12.5" text-anchor="start" font-weight="bold" >(c)</text>
<text x="214.00" y="190.50" font-size="12.5" text-anchor="start" font-weight="bold" >(d)</text>
<text x="5.00" y="365.30" font-size="12.5" text-anchor="start" font-weight="bold" >(e)</text>
<text x="216.50" y="363.50" font-size="12.5" text-anchor="start" font-weight="bold" >(f)</text>
<text x="31.3" y="30" font-size="7.2" font-weight="bold" stroke="#000" stroke-width="0.25" textLength="25.4" lengthAdjust="spacing">15 wt.%</text>
<text x="238.8" y="30.2" font-size="7.2" font-weight="bold" stroke="#000" stroke-width="0.25" textLength="25.4" lengthAdjust="spacing">25 wt.%</text>
<text x="30.5" y="206" font-size="7.2" font-weight="bold" stroke="#000" stroke-width="0.25" textLength="25.4" lengthAdjust="spacing">35 wt.%</text>
<text x="238.8" y="206" font-size="7.2" font-weight="bold" stroke="#000" stroke-width="0.25" textLength="25.4" lengthAdjust="spacing">45 wt.%</text>
<text x="93.40" y="190.6" font-size="7.6" font-weight="bold" stroke="#000" stroke-width="0.1" textLength="51.4" lengthAdjust="spacingAndGlyphs">Wavelength(nm)</text>
<text x="301.20" y="190.5" font-size="7.6" font-weight="bold" stroke="#000" stroke-width="0.1" textLength="51.4" lengthAdjust="spacingAndGlyphs">Wavelength(nm)</text>
<text x="93.30" y="366.6" font-size="7.6" font-weight="bold" stroke="#000" stroke-width="0.1" textLength="51.4" lengthAdjust="spacingAndGlyphs">Wavelength(nm)</text>
<text x="303.50" y="366.9" font-size="7.6" font-weight="bold" stroke="#000" stroke-width="0.1" textLength="51.4" lengthAdjust="spacingAndGlyphs">Wavelength(nm)</text>
<text x="95.80" y="543.9" font-size="7.6" font-weight="bold" stroke="#000" stroke-width="0.1" textLength="51.4" lengthAdjust="spacingAndGlyphs">Wavelength(nm)</text>
<text x="302.10" y="543.9" font-size="7.6" font-weight="bold" stroke="#000" stroke-width="0.1" textLength="51.4" lengthAdjust="spacingAndGlyphs">Wavelength(nm)</text>
<text transform="translate(16.10,102.30) rotate(-90)" x="0" y="0" font-size="7.2" text-anchor="middle" font-weight="bold" stroke="#000" stroke-width="0.2" textLength="65.5" lengthAdjust="spacing">Transmittance(%)</text>
<text transform="translate(223.10,102.70) rotate(-90)" x="0" y="0" font-size="7.2" text-anchor="middle" font-weight="bold" stroke="#000" stroke-width="0.2" textLength="65.5" lengthAdjust="spacing">Transmittance(%)</text>
<text transform="translate(16.10,278.00) rotate(-90)" x="0" y="0" font-size="7.2" text-anchor="middle" font-weight="bold" stroke="#000" stroke-width="0.2" textLength="65.5" lengthAdjust="spacing">Transmittance(%)</text>
<text transform="translate(223.10,278.00) rotate(-90)" x="0" y="0" font-size="7.2" text-anchor="middle" font-weight="bold" stroke="#000" stroke-width="0.2" textLength="65.5" lengthAdjust="spacing">Transmittance(%)</text>
<text transform="translate(18.10,455.00) rotate(-90)" x="0" y="0" font-size="7.2" text-anchor="middle" font-weight="bold" stroke="#000" stroke-width="0.2" textLength="65.5" lengthAdjust="spacing">Transmittance(%)</text>
<text transform="translate(217.00,455.00) rotate(-90)" x="0" y="0" font-size="7.2" text-anchor="middle" font-weight="bold" stroke="#000" stroke-width="0.2" textLength="65.5" lengthAdjust="spacing">Transmittance(%)</text>
<line x1="183.1" y1="42.3" x2="199.5" y2="42.3" stroke="#000000" stroke-width="1.6"/>
<text x="200.50" y="45.60" font-size="7.5" text-anchor="start" font-weight="bold" stroke="#000" stroke-width="0.2">1</text>
<line x1="183.1" y1="52.5" x2="199.5" y2="52.5" stroke="#ff0000" stroke-width="1.6"/>
<text x="200.50" y="55.80" font-size="7.5" text-anchor="start" font-weight="bold" stroke="#000" stroke-width="0.2">2</text>
<line x1="183.1" y1="62.8" x2="199.5" y2="62.8" stroke="#0000ff" stroke-width="1.6"/>
<text x="200.50" y="66.10" font-size="7.5" text-anchor="start" font-weight="bold" stroke="#000" stroke-width="0.2">3</text>
<line x1="183.1" y1="72.8" x2="199.5" y2="72.8" stroke="#ff00ff" stroke-width="1.6"/>
<text x="200.50" y="76.10" font-size="7.5" text-anchor="start" font-weight="bold" stroke="#000" stroke-width="0.2">4</text>
<line x1="183.1" y1="83.0" x2="199.5" y2="83.0" stroke="#008000" stroke-width="1.6"/>
<text x="200.50" y="86.30" font-size="7.5" text-anchor="start" font-weight="bold" stroke="#000" stroke-width="0.2">5</text>
<line x1="388.4" y1="40.6" x2="404.5" y2="40.6" stroke="#000000" stroke-width="1.6"/>
<text x="406.20" y="43.90" font-size="7.5" text-anchor="start" font-weight="bold" stroke="#000" stroke-width="0.2">6</text>
<line x1="388.4" y1="50.7" x2="404.5" y2="50.7" stroke="#ff0000" stroke-width="1.6"/>
<text x="406.20" y="54.00" font-size="7.5" text-anchor="start" font-weight="bold" stroke="#000" stroke-width="0.2">7</text>
<line x1="388.4" y1="61.0" x2="404.5" y2="61.0" stroke="#0000ff" stroke-width="1.6"/>
<text x="406.20" y="64.30" font-size="7.5" text-anchor="start" font-weight="bold" stroke="#000" stroke-width="0.2">8</text>
<line x1="388.4" y1="71.2" x2="404.5" y2="71.2" stroke="#ff00ff" stroke-width="1.6"/>
<text x="406.20" y="74.50" font-size="7.5" text-anchor="start" font-weight="bold" stroke="#000" stroke-width="0.2">9</text>
<line x1="388.4" y1="81.2" x2="404.5" y2="81.2" stroke="#008000" stroke-width="1.6"/>
<text x="406.20" y="84.50" font-size="7.5" text-anchor="start" font-weight="bold" stroke="#000" stroke-width="0.2">10</text>
<line x1="179.2" y1="216.5" x2="195.4" y2="216.5" stroke="#000000" stroke-width="1.6"/>
<text x="197.30" y="219.80" font-size="7.5" text-anchor="start" font-weight="bold" stroke="#000" stroke-width="0.2">11</text>
<line x1="179.2" y1="226.9" x2="195.4" y2="226.9" stroke="#ff0000" stroke-width="1.6"/>
<text x="197.30" y="230.20" font-size="7.5" text-anchor="start" font-weight="bold" stroke="#000" stroke-width="0.2">12</text>
<line x1="179.2" y1="237.2" x2="195.4" y2="237.2" stroke="#0000ff" stroke-width="1.6"/>
<text x="197.30" y="240.50" font-size="7.5" text-anchor="start" font-weight="bold" stroke="#000" stroke-width="0.2">13</text>
<line x1="179.2" y1="247.5" x2="195.4" y2="247.5" stroke="#ff00ff" stroke-width="1.6"/>
<text x="197.30" y="250.80" font-size="7.5" text-anchor="start" font-weight="bold" stroke="#000" stroke-width="0.2">14</text>
<line x1="179.2" y1="257.8" x2="195.4" y2="257.8" stroke="#008000" stroke-width="1.6"/>
<text x="197.30" y="261.10" font-size="7.5" text-anchor="start" font-weight="bold" stroke="#000" stroke-width="0.2">15</text>
<line x1="385.8" y1="216.1" x2="402.0" y2="216.1" stroke="#000000" stroke-width="1.6"/>
<text x="403.60" y="219.40" font-size="7.5" text-anchor="start" font-weight="bold" stroke="#000" stroke-width="0.2">16</text>
<line x1="385.8" y1="226.5" x2="402.0" y2="226.5" stroke="#ff0000" stroke-width="1.6"/>
<text x="403.60" y="229.80" font-size="7.5" text-anchor="start" font-weight="bold" stroke="#000" stroke-width="0.2">17</text>
<line x1="385.8" y1="236.9" x2="402.0" y2="236.9" stroke="#0000ff" stroke-width="1.6"/>
<text x="403.60" y="240.20" font-size="7.5" text-anchor="start" font-weight="bold" stroke="#000" stroke-width="0.2">18</text>
<line x1="385.8" y1="247.0" x2="402.0" y2="247.0" stroke="#ff00ff" stroke-width="1.6"/>
<text x="403.60" y="250.30" font-size="7.5" text-anchor="start" font-weight="bold" stroke="#000" stroke-width="0.2">19</text>
<line x1="385.8" y1="257.2" x2="402.0" y2="257.2" stroke="#008000" stroke-width="1.6"/>
<text x="403.60" y="260.50" font-size="7.5" text-anchor="start" font-weight="bold" stroke="#000" stroke-width="0.2">20</text>
<line x1="37.3" y1="380.1" x2="51.3" y2="380.1" stroke="#000000" stroke-width="1.6"/>
<line x1="37.3" y1="390.4" x2="51.3" y2="390.4" stroke="#ff0000" stroke-width="1.6"/>
<line x1="37.3" y1="400.7" x2="51.3" y2="400.7" stroke="#0000ff" stroke-width="1.6"/>
<text x="53.50" y="404.00" font-size="7.5" text-anchor="start" font-weight="bold" stroke="#000" stroke-width="0.2">14</text>
<line x1="37.3" y1="410.7" x2="51.3" y2="410.7" stroke="#ff00ff" stroke-width="1.6"/>
<text x="53.50" y="414.00" font-size="7.5" text-anchor="start" font-weight="bold" stroke="#000" stroke-width="0.2">20</text>
<text x="54.90" y="383.40" font-size="7.5" text-anchor="start" font-weight="bold" stroke="#000" stroke-width="0.2">5</text>
<text x="54.90" y="393.70" font-size="7.5" text-anchor="start" font-weight="bold" stroke="#000" stroke-width="0.2">7</text>
<line x1="328.70" y1="373" x2="328.70" y2="526" stroke="#000" stroke-width="1" stroke-dasharray="1,1.6"/>
<text x="316.80" y="417.70" font-size="7.0" text-anchor="middle" font-weight="normal" textLength="13" lengthAdjust="spacingAndGlyphs" stroke="#000" stroke-width="0.25">97.78</text>
<line x1="321.5" y1="419.5" x2="327.6" y2="426.8" stroke="#000" stroke-width="0.8"/>
<text x="318.20" y="456.00" font-size="7.0" text-anchor="middle" font-weight="normal" textLength="13" lengthAdjust="spacingAndGlyphs" stroke="#000" stroke-width="0.25">97.27</text>
<line x1="322.7" y1="449.5" x2="328.0" y2="440.5" stroke="#000" stroke-width="0.8"/>
<text x="319.00" y="478.20" font-size="7.0" text-anchor="middle" font-weight="normal" textLength="13" lengthAdjust="spacingAndGlyphs" stroke="#000" stroke-width="0.25">96.50</text>
<line x1="324.5" y1="472.3" x2="328.0" y2="463.2" stroke="#000" stroke-width="0.8"/>
<text x="316.70" y="500.00" font-size="7.0" text-anchor="middle" font-weight="normal" textLength="13" lengthAdjust="spacingAndGlyphs" stroke="#000" stroke-width="0.25">95.62</text>
<line x1="322.7" y1="490.5" x2="327.5" y2="485" stroke="#000" stroke-width="0.8"/>
<rect x="174.3" y="373.6" width="23.8" height="14.2" fill="none" stroke="#ff0000" stroke-width="1.1"/>
<path d="M198,373.4 L237,373.4 M198,387.8 L236,526" stroke="#ff0000" stroke-width="1.3" stroke-dasharray="3,2" fill="none"/></svg></body></html>
